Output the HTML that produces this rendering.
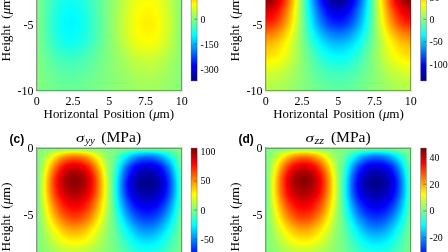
<!DOCTYPE html><html><head><meta charset="utf-8"><style>html,body{margin:0;padding:0;background:#fff;width:448px;height:252px;overflow:hidden}svg{display:block}</style></head><body><svg width="448" height="252" viewBox="0 0 448 252"><defs><linearGradient id="cbj" x1="0" y1="0" x2="0" y2="1"><stop offset="0.0000" stop-color="#800000"/><stop offset="0.1250" stop-color="#ff0000"/><stop offset="0.3750" stop-color="#ffff00"/><stop offset="0.6250" stop-color="#00ffff"/><stop offset="0.8750" stop-color="#0000ff"/><stop offset="1.0000" stop-color="#000080"/></linearGradient><filter id="tb" x="-5%" y="-5%" width="110%" height="110%"><feGaussianBlur stdDeviation="0.3"/></filter><linearGradient id="a0"><stop offset="0" stop-color="#81ff7e"/><stop offset=".052" stop-color="#5dffa2"/><stop offset=".128" stop-color="#29ffd6"/><stop offset=".19" stop-color="#11ffee"/><stop offset=".245" stop-color="#0cfff3"/><stop offset=".307" stop-color="#1affe5"/><stop offset=".39" stop-color="#43ffbc"/><stop offset=".652" stop-color="#e0ff1f"/><stop offset=".721" stop-color="#f9ff06"/><stop offset=".776" stop-color="#fdff02"/><stop offset=".831" stop-color="#f1ff0e"/><stop offset=".893" stop-color="#d1ff2e"/><stop offset=".997" stop-color="#85ff7a"/><stop offset="1" stop-color="#85ff7a"/></linearGradient><linearGradient id="a1"><stop offset="0" stop-color="#81ff7e"/><stop offset=".052" stop-color="#5dffa2"/><stop offset=".128" stop-color="#29ffd6"/><stop offset=".19" stop-color="#10ffef"/><stop offset=".245" stop-color="#0bfff4"/><stop offset=".307" stop-color="#19ffe6"/><stop offset=".39" stop-color="#42ffbd"/><stop offset=".652" stop-color="#e0ff1f"/><stop offset=".721" stop-color="#f9ff06"/><stop offset=".776" stop-color="#feff01"/><stop offset=".831" stop-color="#f2ff0d"/><stop offset=".893" stop-color="#d1ff2e"/><stop offset=".997" stop-color="#85ff7a"/><stop offset="1" stop-color="#85ff7a"/></linearGradient><linearGradient id="a2"><stop offset="0" stop-color="#81ff7e"/><stop offset=".045" stop-color="#62ff9d"/><stop offset=".128" stop-color="#28ffd7"/><stop offset=".19" stop-color="#0ffff0"/><stop offset=".245" stop-color="#0bfff4"/><stop offset=".307" stop-color="#18ffe7"/><stop offset=".39" stop-color="#42ffbd"/><stop offset=".652" stop-color="#e1ff1e"/><stop offset=".721" stop-color="#faff05"/><stop offset=".776" stop-color="#ffff00"/><stop offset=".831" stop-color="#f2ff0d"/><stop offset=".893" stop-color="#d2ff2d"/><stop offset=".997" stop-color="#85ff7a"/><stop offset="1" stop-color="#85ff7a"/></linearGradient><linearGradient id="a3"><stop offset="0" stop-color="#81ff7e"/><stop offset=".045" stop-color="#62ff9d"/><stop offset=".128" stop-color="#27ffd8"/><stop offset=".183" stop-color="#10ffef"/><stop offset=".238" stop-color="#09fff6"/><stop offset=".3" stop-color="#15ffea"/><stop offset=".376" stop-color="#39ffc6"/><stop offset=".652" stop-color="#e2ff1d"/><stop offset=".721" stop-color="#fbff04"/><stop offset=".783" stop-color="#ffff00"/><stop offset=".838" stop-color="#f1ff0e"/><stop offset=".9" stop-color="#ceff31"/><stop offset=".997" stop-color="#85ff7a"/><stop offset="1" stop-color="#85ff7a"/></linearGradient><linearGradient id="a4"><stop offset="0" stop-color="#81ff7e"/><stop offset=".045" stop-color="#61ff9e"/><stop offset=".128" stop-color="#27ffd8"/><stop offset=".183" stop-color="#0ffff0"/><stop offset=".238" stop-color="#08fff7"/><stop offset=".3" stop-color="#14ffeb"/><stop offset=".376" stop-color="#38ffc7"/><stop offset=".652" stop-color="#e2ff1d"/><stop offset=".721" stop-color="#fcff03"/><stop offset=".797" stop-color="#feff01"/><stop offset=".852" stop-color="#ebff14"/><stop offset=".921" stop-color="#bfff40"/><stop offset=".997" stop-color="#85ff7a"/><stop offset="1" stop-color="#85ff7a"/></linearGradient><linearGradient id="a5"><stop offset="0" stop-color="#81ff7e"/><stop offset=".045" stop-color="#61ff9e"/><stop offset=".128" stop-color="#26ffd9"/><stop offset=".183" stop-color="#0efff1"/><stop offset=".238" stop-color="#07fff8"/><stop offset=".3" stop-color="#13ffec"/><stop offset=".376" stop-color="#38ffc7"/><stop offset=".652" stop-color="#e3ff1c"/><stop offset=".721" stop-color="#fdff02"/><stop offset=".79" stop-color="#fffe00"/><stop offset=".838" stop-color="#f3ff0c"/><stop offset=".9" stop-color="#cfff30"/><stop offset=".997" stop-color="#85ff7a"/><stop offset="1" stop-color="#85ff7a"/></linearGradient><linearGradient id="a6"><stop offset="0" stop-color="#81ff7e"/><stop offset=".045" stop-color="#61ff9e"/><stop offset=".128" stop-color="#25ffda"/><stop offset=".183" stop-color="#0dfff2"/><stop offset=".238" stop-color="#06fff9"/><stop offset=".3" stop-color="#12ffed"/><stop offset=".376" stop-color="#37ffc8"/><stop offset=".652" stop-color="#e4ff1b"/><stop offset=".721" stop-color="#feff01"/><stop offset=".783" stop-color="#fffc00"/><stop offset=".817" stop-color="#fbff04"/><stop offset=".879" stop-color="#deff21"/><stop offset=".997" stop-color="#85ff7a"/><stop offset="1" stop-color="#85ff7a"/></linearGradient><linearGradient id="a7"><stop offset="0" stop-color="#81ff7e"/><stop offset=".038" stop-color="#66ff99"/><stop offset=".121" stop-color="#28ffd7"/><stop offset=".176" stop-color="#0efff1"/><stop offset=".231" stop-color="#05fffa"/><stop offset=".286" stop-color="#0dfff2"/><stop offset=".355" stop-color="#2affd5"/><stop offset=".652" stop-color="#e5ff1a"/><stop offset=".714" stop-color="#feff01"/><stop offset=".776" stop-color="#fffa00"/><stop offset=".817" stop-color="#fcff03"/><stop offset=".879" stop-color="#deff21"/><stop offset=".997" stop-color="#85ff7a"/><stop offset="1" stop-color="#85ff7a"/></linearGradient><linearGradient id="a8"><stop offset="0" stop-color="#81ff7e"/><stop offset=".038" stop-color="#66ff99"/><stop offset=".121" stop-color="#27ffd8"/><stop offset=".176" stop-color="#0dfff2"/><stop offset=".231" stop-color="#03fffc"/><stop offset=".286" stop-color="#0bfff4"/><stop offset=".355" stop-color="#29ffd6"/><stop offset=".652" stop-color="#e6ff19"/><stop offset=".714" stop-color="#ffff00"/><stop offset=".769" stop-color="#fff800"/><stop offset=".817" stop-color="#fdff02"/><stop offset=".872" stop-color="#e3ff1c"/><stop offset=".955" stop-color="#a6ff59"/><stop offset=".997" stop-color="#85ff7a"/><stop offset="1" stop-color="#85ff7a"/></linearGradient><linearGradient id="a9"><stop offset="0" stop-color="#81ff7e"/><stop offset=".038" stop-color="#66ff99"/><stop offset=".121" stop-color="#27ffd8"/><stop offset=".176" stop-color="#0cfff3"/><stop offset=".231" stop-color="#02fffd"/><stop offset=".286" stop-color="#0bfff4"/><stop offset=".355" stop-color="#29ffd6"/><stop offset=".652" stop-color="#e7ff18"/><stop offset=".714" stop-color="#fffe00"/><stop offset=".769" stop-color="#fff700"/><stop offset=".824" stop-color="#fcff03"/><stop offset=".886" stop-color="#dbff24"/><stop offset=".997" stop-color="#85ff7a"/><stop offset="1" stop-color="#85ff7a"/></linearGradient><linearGradient id="a10"><stop offset="0" stop-color="#81ff7e"/><stop offset=".031" stop-color="#6bff94"/><stop offset=".121" stop-color="#26ffd9"/><stop offset=".176" stop-color="#0bfff4"/><stop offset=".231" stop-color="#02fffd"/><stop offset=".286" stop-color="#0afff5"/><stop offset=".355" stop-color="#28ffd7"/><stop offset=".652" stop-color="#e7ff18"/><stop offset=".707" stop-color="#ffff00"/><stop offset=".769" stop-color="#fff600"/><stop offset=".824" stop-color="#fdff02"/><stop offset=".886" stop-color="#dcff23"/><stop offset=".997" stop-color="#85ff7a"/><stop offset="1" stop-color="#85ff7a"/></linearGradient><linearGradient id="a11"><stop offset="0" stop-color="#81ff7e"/><stop offset=".031" stop-color="#6bff94"/><stop offset=".121" stop-color="#25ffda"/><stop offset=".176" stop-color="#0afff5"/><stop offset=".231" stop-color="#01fffe"/><stop offset=".286" stop-color="#09fff6"/><stop offset=".355" stop-color="#28ffd7"/><stop offset=".652" stop-color="#e8ff17"/><stop offset=".707" stop-color="#ffff00"/><stop offset=".762" stop-color="#fff600"/><stop offset=".824" stop-color="#fdff02"/><stop offset=".886" stop-color="#dcff23"/><stop offset=".997" stop-color="#85ff7a"/><stop offset="1" stop-color="#85ff7a"/></linearGradient><linearGradient id="a12"><stop offset="0" stop-color="#81ff7e"/><stop offset=".031" stop-color="#6bff94"/><stop offset=".121" stop-color="#25ffda"/><stop offset=".176" stop-color="#0afff5"/><stop offset=".231" stop-color="#00ffff"/><stop offset=".286" stop-color="#08fff7"/><stop offset=".355" stop-color="#27ffd8"/><stop offset=".652" stop-color="#e8ff17"/><stop offset=".707" stop-color="#fffe00"/><stop offset=".762" stop-color="#fff500"/><stop offset=".824" stop-color="#feff01"/><stop offset=".886" stop-color="#ddff22"/><stop offset=".997" stop-color="#85ff7a"/><stop offset="1" stop-color="#85ff7a"/></linearGradient><linearGradient id="a13"><stop offset="0" stop-color="#81ff7e"/><stop offset=".031" stop-color="#6bff94"/><stop offset=".121" stop-color="#24ffdb"/><stop offset=".176" stop-color="#09fff6"/><stop offset=".224" stop-color="#00feff"/><stop offset=".279" stop-color="#06fff9"/><stop offset=".341" stop-color="#1fffe0"/><stop offset=".452" stop-color="#67ff98"/><stop offset=".652" stop-color="#e9ff16"/><stop offset=".7" stop-color="#ffff00"/><stop offset=".762" stop-color="#fff400"/><stop offset=".817" stop-color="#fffd00"/><stop offset=".852" stop-color="#f2ff0d"/><stop offset=".921" stop-color="#c4ff3b"/><stop offset=".997" stop-color="#85ff7a"/><stop offset="1" stop-color="#85ff7a"/></linearGradient><linearGradient id="a14"><stop offset="0" stop-color="#81ff7e"/><stop offset=".031" stop-color="#6bff94"/><stop offset=".121" stop-color="#24ffdb"/><stop offset=".176" stop-color="#08fff7"/><stop offset=".217" stop-color="#00feff"/><stop offset=".272" stop-color="#03fffc"/><stop offset=".334" stop-color="#1bffe4"/><stop offset=".431" stop-color="#58ffa7"/><stop offset=".652" stop-color="#eaff15"/><stop offset=".7" stop-color="#ffff00"/><stop offset=".755" stop-color="#fff300"/><stop offset=".81" stop-color="#fffa00"/><stop offset=".831" stop-color="#fdff02"/><stop offset=".893" stop-color="#d9ff26"/><stop offset=".997" stop-color="#85ff7a"/><stop offset="1" stop-color="#85ff7a"/></linearGradient><linearGradient id="a15"><stop offset="0" stop-color="#81ff7e"/><stop offset=".024" stop-color="#70ff8f"/><stop offset=".114" stop-color="#28ffd7"/><stop offset=".169" stop-color="#0afff5"/><stop offset=".21" stop-color="#00feff"/><stop offset=".272" stop-color="#02fffd"/><stop offset=".334" stop-color="#1affe5"/><stop offset=".431" stop-color="#58ffa7"/><stop offset=".652" stop-color="#eaff15"/><stop offset=".7" stop-color="#fffe00"/><stop offset=".755" stop-color="#fff300"/><stop offset=".81" stop-color="#fff900"/><stop offset=".838" stop-color="#fbff04"/><stop offset=".9" stop-color="#d5ff2a"/><stop offset=".997" stop-color="#85ff7a"/><stop offset="1" stop-color="#85ff7a"/></linearGradient><linearGradient id="a16"><stop offset="0" stop-color="#81ff7e"/><stop offset=".024" stop-color="#70ff8f"/><stop offset=".114" stop-color="#27ffd8"/><stop offset=".169" stop-color="#09fff6"/><stop offset=".21" stop-color="#00fdff"/><stop offset=".272" stop-color="#02fffd"/><stop offset=".334" stop-color="#19ffe6"/><stop offset=".431" stop-color="#57ffa8"/><stop offset=".652" stop-color="#ebff14"/><stop offset=".7" stop-color="#fffd00"/><stop offset=".755" stop-color="#fff200"/><stop offset=".81" stop-color="#fff900"/><stop offset=".838" stop-color="#fbff04"/><stop offset=".9" stop-color="#d5ff2a"/><stop offset=".997" stop-color="#85ff7a"/><stop offset="1" stop-color="#85ff7a"/></linearGradient><linearGradient id="a17"><stop offset="0" stop-color="#81ff7e"/><stop offset=".024" stop-color="#70ff8f"/><stop offset=".114" stop-color="#27ffd8"/><stop offset=".169" stop-color="#09fff6"/><stop offset=".203" stop-color="#00feff"/><stop offset=".259" stop-color="#00fdff"/><stop offset=".307" stop-color="#0cfff3"/><stop offset=".383" stop-color="#36ffc9"/><stop offset=".645" stop-color="#e7ff18"/><stop offset=".693" stop-color="#ffff00"/><stop offset=".755" stop-color="#fff100"/><stop offset=".81" stop-color="#fff800"/><stop offset=".838" stop-color="#fcff03"/><stop offset=".9" stop-color="#d5ff2a"/><stop offset=".997" stop-color="#85ff7a"/><stop offset="1" stop-color="#85ff7a"/></linearGradient><linearGradient id="a18"><stop offset="0" stop-color="#81ff7e"/><stop offset=".024" stop-color="#70ff8f"/><stop offset=".114" stop-color="#26ffd9"/><stop offset=".169" stop-color="#08fff7"/><stop offset=".203" stop-color="#00fdff"/><stop offset=".259" stop-color="#00fdff"/><stop offset=".293" stop-color="#06fff9"/><stop offset=".362" stop-color="#28ffd7"/><stop offset=".645" stop-color="#e8ff17"/><stop offset=".693" stop-color="#ffff00"/><stop offset=".748" stop-color="#fff100"/><stop offset=".803" stop-color="#fff500"/><stop offset=".838" stop-color="#fcff03"/><stop offset=".9" stop-color="#d6ff29"/><stop offset=".997" stop-color="#85ff7a"/><stop offset="1" stop-color="#85ff7a"/></linearGradient><linearGradient id="a19"><stop offset="0" stop-color="#81ff7e"/><stop offset=".024" stop-color="#70ff8f"/><stop offset=".114" stop-color="#26ffd9"/><stop offset=".169" stop-color="#08fff7"/><stop offset=".203" stop-color="#00fdff"/><stop offset=".259" stop-color="#00fcff"/><stop offset=".293" stop-color="#06fff9"/><stop offset=".362" stop-color="#28ffd7"/><stop offset=".645" stop-color="#e8ff17"/><stop offset=".693" stop-color="#fffe00"/><stop offset=".748" stop-color="#fff100"/><stop offset=".803" stop-color="#fff500"/><stop offset=".838" stop-color="#fdff02"/><stop offset=".9" stop-color="#d6ff29"/><stop offset=".997" stop-color="#85ff7a"/><stop offset="1" stop-color="#85ff7a"/></linearGradient><linearGradient id="a20"><stop offset="0" stop-color="#81ff7e"/><stop offset=".024" stop-color="#70ff8f"/><stop offset=".114" stop-color="#26ffd9"/><stop offset=".169" stop-color="#07fff8"/><stop offset=".197" stop-color="#00feff"/><stop offset=".252" stop-color="#00fbff"/><stop offset=".286" stop-color="#03fffc"/><stop offset=".355" stop-color="#23ffdc"/><stop offset=".652" stop-color="#ecff13"/><stop offset=".693" stop-color="#fffe00"/><stop offset=".748" stop-color="#fff000"/><stop offset=".803" stop-color="#fff400"/><stop offset=".838" stop-color="#fdff02"/><stop offset=".9" stop-color="#d6ff29"/><stop offset=".997" stop-color="#85ff7a"/><stop offset="1" stop-color="#85ff7a"/></linearGradient><linearGradient id="a21"><stop offset="0" stop-color="#81ff7e"/><stop offset=".024" stop-color="#70ff8f"/><stop offset=".114" stop-color="#26ffd9"/><stop offset=".169" stop-color="#07fff8"/><stop offset=".197" stop-color="#00fdff"/><stop offset=".252" stop-color="#00fbff"/><stop offset=".286" stop-color="#03fffc"/><stop offset=".355" stop-color="#23ffdc"/><stop offset=".652" stop-color="#edff12"/><stop offset=".693" stop-color="#fffe00"/><stop offset=".748" stop-color="#fff000"/><stop offset=".803" stop-color="#fff400"/><stop offset=".838" stop-color="#fdff02"/><stop offset=".9" stop-color="#d6ff29"/><stop offset=".997" stop-color="#85ff7a"/><stop offset="1" stop-color="#85ff7a"/></linearGradient><linearGradient id="a22"><stop offset="0" stop-color="#81ff7e"/><stop offset=".024" stop-color="#70ff8f"/><stop offset=".114" stop-color="#25ffda"/><stop offset=".169" stop-color="#07fff8"/><stop offset=".197" stop-color="#00fdff"/><stop offset=".252" stop-color="#00faff"/><stop offset=".286" stop-color="#03fffc"/><stop offset=".355" stop-color="#23ffdc"/><stop offset=".652" stop-color="#edff12"/><stop offset=".693" stop-color="#fffd00"/><stop offset=".748" stop-color="#fff000"/><stop offset=".803" stop-color="#fff400"/><stop offset=".838" stop-color="#feff01"/><stop offset=".9" stop-color="#d7ff28"/><stop offset=".997" stop-color="#85ff7a"/><stop offset="1" stop-color="#85ff7a"/></linearGradient><linearGradient id="a23"><stop offset="0" stop-color="#81ff7e"/><stop offset=".024" stop-color="#70ff8f"/><stop offset=".114" stop-color="#25ffda"/><stop offset=".169" stop-color="#07fff8"/><stop offset=".197" stop-color="#00fdff"/><stop offset=".252" stop-color="#00faff"/><stop offset=".286" stop-color="#03fffc"/><stop offset=".355" stop-color="#23ffdc"/><stop offset=".652" stop-color="#edff12"/><stop offset=".693" stop-color="#fffd00"/><stop offset=".748" stop-color="#fff000"/><stop offset=".803" stop-color="#fff400"/><stop offset=".838" stop-color="#feff01"/><stop offset=".9" stop-color="#d7ff28"/><stop offset=".997" stop-color="#85ff7a"/><stop offset="1" stop-color="#85ff7a"/></linearGradient><linearGradient id="a24"><stop offset="0" stop-color="#81ff7e"/><stop offset=".024" stop-color="#70ff8f"/><stop offset=".114" stop-color="#25ffda"/><stop offset=".169" stop-color="#07fff8"/><stop offset=".197" stop-color="#00fdff"/><stop offset=".252" stop-color="#00faff"/><stop offset=".286" stop-color="#03fffc"/><stop offset=".355" stop-color="#23ffdc"/><stop offset=".652" stop-color="#edff12"/><stop offset=".693" stop-color="#fffd00"/><stop offset=".748" stop-color="#fff000"/><stop offset=".803" stop-color="#fff400"/><stop offset=".838" stop-color="#feff01"/><stop offset=".9" stop-color="#d7ff28"/><stop offset=".997" stop-color="#85ff7a"/><stop offset="1" stop-color="#85ff7a"/></linearGradient><linearGradient id="a25"><stop offset="0" stop-color="#81ff7e"/><stop offset=".024" stop-color="#70ff8f"/><stop offset=".114" stop-color="#26ffd9"/><stop offset=".169" stop-color="#07fff8"/><stop offset=".197" stop-color="#00feff"/><stop offset=".252" stop-color="#00fbff"/><stop offset=".286" stop-color="#03fffc"/><stop offset=".355" stop-color="#23ffdc"/><stop offset=".652" stop-color="#ecff13"/><stop offset=".693" stop-color="#fffe00"/><stop offset=".748" stop-color="#fff000"/><stop offset=".803" stop-color="#fff400"/><stop offset=".838" stop-color="#fdff02"/><stop offset=".9" stop-color="#d6ff29"/><stop offset=".997" stop-color="#85ff7a"/><stop offset="1" stop-color="#85ff7a"/></linearGradient><linearGradient id="a26"><stop offset="0" stop-color="#81ff7e"/><stop offset=".024" stop-color="#70ff8f"/><stop offset=".114" stop-color="#26ffd9"/><stop offset=".169" stop-color="#08fff7"/><stop offset=".203" stop-color="#00fdff"/><stop offset=".259" stop-color="#00fcff"/><stop offset=".293" stop-color="#06fff9"/><stop offset=".362" stop-color="#28ffd7"/><stop offset=".645" stop-color="#e8ff17"/><stop offset=".693" stop-color="#fffe00"/><stop offset=".748" stop-color="#fff100"/><stop offset=".803" stop-color="#fff500"/><stop offset=".838" stop-color="#fdff02"/><stop offset=".9" stop-color="#d6ff29"/><stop offset=".997" stop-color="#85ff7a"/><stop offset="1" stop-color="#85ff7a"/></linearGradient><linearGradient id="a27"><stop offset="0" stop-color="#81ff7e"/><stop offset=".024" stop-color="#70ff8f"/><stop offset=".114" stop-color="#26ffd9"/><stop offset=".169" stop-color="#08fff7"/><stop offset=".203" stop-color="#00fdff"/><stop offset=".259" stop-color="#00fdff"/><stop offset=".293" stop-color="#06fff9"/><stop offset=".362" stop-color="#28ffd7"/><stop offset=".645" stop-color="#e8ff17"/><stop offset=".693" stop-color="#ffff00"/><stop offset=".748" stop-color="#fff100"/><stop offset=".803" stop-color="#fff500"/><stop offset=".838" stop-color="#fcff03"/><stop offset=".9" stop-color="#d6ff29"/><stop offset=".997" stop-color="#85ff7a"/><stop offset="1" stop-color="#85ff7a"/></linearGradient><linearGradient id="a28"><stop offset="0" stop-color="#81ff7e"/><stop offset=".024" stop-color="#70ff8f"/><stop offset=".114" stop-color="#27ffd8"/><stop offset=".169" stop-color="#09fff6"/><stop offset=".203" stop-color="#00feff"/><stop offset=".259" stop-color="#00fdff"/><stop offset=".3" stop-color="#09fff6"/><stop offset=".369" stop-color="#2dffd2"/><stop offset=".645" stop-color="#e7ff18"/><stop offset=".693" stop-color="#ffff00"/><stop offset=".748" stop-color="#fff200"/><stop offset=".803" stop-color="#fff600"/><stop offset=".838" stop-color="#fcff03"/><stop offset=".9" stop-color="#d5ff2a"/><stop offset=".997" stop-color="#85ff7a"/><stop offset="1" stop-color="#85ff7a"/></linearGradient><linearGradient id="a29"><stop offset="0" stop-color="#81ff7e"/><stop offset=".024" stop-color="#70ff8f"/><stop offset=".114" stop-color="#27ffd8"/><stop offset=".169" stop-color="#09fff6"/><stop offset=".21" stop-color="#00fdff"/><stop offset=".272" stop-color="#02fffd"/><stop offset=".334" stop-color="#19ffe6"/><stop offset=".431" stop-color="#57ffa8"/><stop offset=".652" stop-color="#ebff14"/><stop offset=".7" stop-color="#fffd00"/><stop offset=".755" stop-color="#fff200"/><stop offset=".81" stop-color="#fff800"/><stop offset=".838" stop-color="#fbff04"/><stop offset=".9" stop-color="#d5ff2a"/><stop offset=".997" stop-color="#85ff7a"/><stop offset="1" stop-color="#85ff7a"/></linearGradient><linearGradient id="a30"><stop offset="0" stop-color="#81ff7e"/><stop offset=".024" stop-color="#70ff8f"/><stop offset=".114" stop-color="#28ffd7"/><stop offset=".169" stop-color="#0afff5"/><stop offset=".21" stop-color="#00feff"/><stop offset=".272" stop-color="#02fffd"/><stop offset=".334" stop-color="#1affe5"/><stop offset=".431" stop-color="#58ffa7"/><stop offset=".652" stop-color="#eaff15"/><stop offset=".7" stop-color="#fffe00"/><stop offset=".755" stop-color="#fff300"/><stop offset=".81" stop-color="#fff900"/><stop offset=".838" stop-color="#fbff04"/><stop offset=".9" stop-color="#d4ff2b"/><stop offset=".997" stop-color="#85ff7a"/><stop offset="1" stop-color="#85ff7a"/></linearGradient><linearGradient id="a31"><stop offset="0" stop-color="#81ff7e"/><stop offset=".031" stop-color="#6bff94"/><stop offset=".121" stop-color="#24ffdb"/><stop offset=".176" stop-color="#08fff7"/><stop offset=".224" stop-color="#00feff"/><stop offset=".272" stop-color="#03fffc"/><stop offset=".334" stop-color="#1bffe4"/><stop offset=".431" stop-color="#58ffa7"/><stop offset=".652" stop-color="#e9ff16"/><stop offset=".7" stop-color="#ffff00"/><stop offset=".755" stop-color="#fff400"/><stop offset=".81" stop-color="#fffa00"/><stop offset=".831" stop-color="#fdff02"/><stop offset=".893" stop-color="#d9ff26"/><stop offset=".997" stop-color="#85ff7a"/><stop offset="1" stop-color="#85ff7a"/></linearGradient><linearGradient id="a32"><stop offset="0" stop-color="#81ff7e"/><stop offset=".031" stop-color="#6bff94"/><stop offset=".121" stop-color="#25ffda"/><stop offset=".176" stop-color="#09fff6"/><stop offset=".231" stop-color="#00ffff"/><stop offset=".286" stop-color="#08fff7"/><stop offset=".355" stop-color="#27ffd8"/><stop offset=".652" stop-color="#e9ff16"/><stop offset=".707" stop-color="#fffe00"/><stop offset=".762" stop-color="#fff500"/><stop offset=".817" stop-color="#fffd00"/><stop offset=".859" stop-color="#eeff11"/><stop offset=".928" stop-color="#beff41"/><stop offset=".997" stop-color="#85ff7a"/><stop offset="1" stop-color="#85ff7a"/></linearGradient><linearGradient id="a33"><stop offset="0" stop-color="#81ff7e"/><stop offset=".031" stop-color="#6bff94"/><stop offset=".121" stop-color="#25ffda"/><stop offset=".176" stop-color="#0afff5"/><stop offset=".231" stop-color="#01fffe"/><stop offset=".286" stop-color="#09fff6"/><stop offset=".355" stop-color="#27ffd8"/><stop offset=".652" stop-color="#e8ff17"/><stop offset=".707" stop-color="#ffff00"/><stop offset=".762" stop-color="#fff600"/><stop offset=".824" stop-color="#fdff02"/><stop offset=".886" stop-color="#dcff23"/><stop offset=".997" stop-color="#85ff7a"/><stop offset="1" stop-color="#85ff7a"/></linearGradient><linearGradient id="a34"><stop offset="0" stop-color="#81ff7e"/><stop offset=".031" stop-color="#6bff94"/><stop offset=".121" stop-color="#26ffd9"/><stop offset=".176" stop-color="#0bfff4"/><stop offset=".231" stop-color="#02fffd"/><stop offset=".286" stop-color="#0afff5"/><stop offset=".355" stop-color="#28ffd7"/><stop offset=".652" stop-color="#e7ff18"/><stop offset=".707" stop-color="#feff01"/><stop offset=".769" stop-color="#fff700"/><stop offset=".824" stop-color="#fcff03"/><stop offset=".886" stop-color="#dcff23"/><stop offset=".997" stop-color="#85ff7a"/><stop offset="1" stop-color="#85ff7a"/></linearGradient><linearGradient id="a35"><stop offset="0" stop-color="#81ff7e"/><stop offset=".038" stop-color="#66ff99"/><stop offset=".121" stop-color="#27ffd8"/><stop offset=".176" stop-color="#0dfff2"/><stop offset=".231" stop-color="#03fffc"/><stop offset=".286" stop-color="#0bfff4"/><stop offset=".355" stop-color="#29ffd6"/><stop offset=".652" stop-color="#e6ff19"/><stop offset=".714" stop-color="#ffff00"/><stop offset=".769" stop-color="#fff800"/><stop offset=".817" stop-color="#feff01"/><stop offset=".872" stop-color="#e4ff1b"/><stop offset=".955" stop-color="#a6ff59"/><stop offset=".997" stop-color="#85ff7a"/><stop offset="1" stop-color="#85ff7a"/></linearGradient><linearGradient id="a36"><stop offset="0" stop-color="#81ff7e"/><stop offset=".038" stop-color="#66ff99"/><stop offset=".121" stop-color="#28ffd7"/><stop offset=".176" stop-color="#0efff1"/><stop offset=".231" stop-color="#04fffb"/><stop offset=".286" stop-color="#0cfff3"/><stop offset=".355" stop-color="#2affd5"/><stop offset=".652" stop-color="#e5ff1a"/><stop offset=".714" stop-color="#feff01"/><stop offset=".776" stop-color="#fffa00"/><stop offset=".817" stop-color="#fcff03"/><stop offset=".879" stop-color="#dfff20"/><stop offset=".997" stop-color="#85ff7a"/><stop offset="1" stop-color="#85ff7a"/></linearGradient><linearGradient id="a37"><stop offset="0" stop-color="#81ff7e"/><stop offset=".045" stop-color="#61ff9e"/><stop offset=".128" stop-color="#25ffda"/><stop offset=".183" stop-color="#0dfff2"/><stop offset=".238" stop-color="#06fff9"/><stop offset=".3" stop-color="#12ffed"/><stop offset=".376" stop-color="#37ffc8"/><stop offset=".652" stop-color="#e4ff1b"/><stop offset=".721" stop-color="#feff01"/><stop offset=".783" stop-color="#fffc00"/><stop offset=".817" stop-color="#fbff04"/><stop offset=".879" stop-color="#deff21"/><stop offset=".997" stop-color="#85ff7a"/><stop offset="1" stop-color="#85ff7a"/></linearGradient><linearGradient id="a38"><stop offset="0" stop-color="#81ff7e"/><stop offset=".045" stop-color="#61ff9e"/><stop offset=".128" stop-color="#26ffd9"/><stop offset=".183" stop-color="#0efff1"/><stop offset=".238" stop-color="#07fff8"/><stop offset=".3" stop-color="#13ffec"/><stop offset=".376" stop-color="#38ffc7"/><stop offset=".652" stop-color="#e3ff1c"/><stop offset=".721" stop-color="#fdff02"/><stop offset=".79" stop-color="#fffe00"/><stop offset=".838" stop-color="#f2ff0d"/><stop offset=".9" stop-color="#cfff30"/><stop offset=".997" stop-color="#85ff7a"/><stop offset="1" stop-color="#85ff7a"/></linearGradient><linearGradient id="a39"><stop offset="0" stop-color="#81ff7e"/><stop offset=".045" stop-color="#62ff9d"/><stop offset=".128" stop-color="#27ffd8"/><stop offset=".183" stop-color="#0ffff0"/><stop offset=".238" stop-color="#08fff7"/><stop offset=".3" stop-color="#14ffeb"/><stop offset=".376" stop-color="#38ffc7"/><stop offset=".652" stop-color="#e2ff1d"/><stop offset=".721" stop-color="#fcff03"/><stop offset=".79" stop-color="#ffff00"/><stop offset=".845" stop-color="#eeff11"/><stop offset=".914" stop-color="#c4ff3b"/><stop offset=".997" stop-color="#85ff7a"/><stop offset="1" stop-color="#85ff7a"/></linearGradient><linearGradient id="a40"><stop offset="0" stop-color="#81ff7e"/><stop offset=".045" stop-color="#62ff9d"/><stop offset=".128" stop-color="#28ffd7"/><stop offset=".19" stop-color="#0ffff0"/><stop offset=".245" stop-color="#0afff5"/><stop offset=".307" stop-color="#18ffe7"/><stop offset=".383" stop-color="#3dffc2"/><stop offset=".652" stop-color="#e1ff1e"/><stop offset=".721" stop-color="#fbff04"/><stop offset=".776" stop-color="#ffff00"/><stop offset=".831" stop-color="#f3ff0c"/><stop offset=".893" stop-color="#d2ff2d"/><stop offset=".997" stop-color="#85ff7a"/><stop offset="1" stop-color="#85ff7a"/></linearGradient><linearGradient id="a41"><stop offset="0" stop-color="#81ff7e"/><stop offset=".052" stop-color="#5dffa2"/><stop offset=".128" stop-color="#29ffd6"/><stop offset=".19" stop-color="#10ffef"/><stop offset=".245" stop-color="#0cfff3"/><stop offset=".307" stop-color="#19ffe6"/><stop offset=".39" stop-color="#42ffbd"/><stop offset=".652" stop-color="#e0ff1f"/><stop offset=".721" stop-color="#f9ff06"/><stop offset=".776" stop-color="#feff01"/><stop offset=".831" stop-color="#f1ff0e"/><stop offset=".893" stop-color="#d1ff2e"/><stop offset=".997" stop-color="#85ff7a"/><stop offset="1" stop-color="#85ff7a"/></linearGradient><linearGradient id="a42"><stop offset="0" stop-color="#81ff7e"/><stop offset=".052" stop-color="#5effa1"/><stop offset=".128" stop-color="#2bffd4"/><stop offset=".19" stop-color="#12ffed"/><stop offset=".245" stop-color="#0efff1"/><stop offset=".307" stop-color="#1bffe4"/><stop offset=".39" stop-color="#43ffbc"/><stop offset=".652" stop-color="#deff21"/><stop offset=".721" stop-color="#f7ff08"/><stop offset=".783" stop-color="#fbff04"/><stop offset=".838" stop-color="#edff12"/><stop offset=".907" stop-color="#c7ff38"/><stop offset=".997" stop-color="#85ff7a"/><stop offset="1" stop-color="#85ff7a"/></linearGradient><linearGradient id="a43"><stop offset="0" stop-color="#81ff7e"/><stop offset=".059" stop-color="#59ffa6"/><stop offset=".134" stop-color="#29ffd6"/><stop offset=".197" stop-color="#13ffec"/><stop offset=".252" stop-color="#10ffef"/><stop offset=".314" stop-color="#1fffe0"/><stop offset=".397" stop-color="#49ffb6"/><stop offset=".652" stop-color="#ddff22"/><stop offset=".721" stop-color="#f5ff0a"/><stop offset=".783" stop-color="#f9ff06"/><stop offset=".838" stop-color="#ebff14"/><stop offset=".907" stop-color="#c5ff3a"/><stop offset=".997" stop-color="#85ff7a"/><stop offset="1" stop-color="#85ff7a"/></linearGradient><linearGradient id="a44"><stop offset="0" stop-color="#81ff7e"/><stop offset=".066" stop-color="#55ffaa"/><stop offset=".141" stop-color="#27ffd8"/><stop offset=".203" stop-color="#14ffeb"/><stop offset=".266" stop-color="#15ffea"/><stop offset=".334" stop-color="#2affd5"/><stop offset=".445" stop-color="#67ff98"/><stop offset=".652" stop-color="#dbff24"/><stop offset=".721" stop-color="#f3ff0c"/><stop offset=".783" stop-color="#f6ff09"/><stop offset=".845" stop-color="#e6ff19"/><stop offset=".914" stop-color="#bfff40"/><stop offset=".997" stop-color="#85ff7a"/><stop offset="1" stop-color="#85ff7a"/></linearGradient><linearGradient id="a45"><stop offset="0" stop-color="#82ff7d"/><stop offset=".128" stop-color="#30ffcf"/><stop offset=".19" stop-color="#19ffe6"/><stop offset=".252" stop-color="#16ffe9"/><stop offset=".321" stop-color="#27ffd8"/><stop offset=".417" stop-color="#57ffa8"/><stop offset=".652" stop-color="#d9ff26"/><stop offset=".721" stop-color="#f0ff0f"/><stop offset=".783" stop-color="#f4ff0b"/><stop offset=".845" stop-color="#e4ff1b"/><stop offset=".914" stop-color="#beff41"/><stop offset=".997" stop-color="#85ff7a"/><stop offset="1" stop-color="#85ff7a"/></linearGradient><linearGradient id="a46"><stop offset="0" stop-color="#82ff7d"/><stop offset=".128" stop-color="#32ffcd"/><stop offset=".19" stop-color="#1cffe3"/><stop offset=".252" stop-color="#18ffe7"/><stop offset=".321" stop-color="#29ffd6"/><stop offset=".417" stop-color="#58ffa7"/><stop offset=".652" stop-color="#d7ff28"/><stop offset=".721" stop-color="#edff12"/><stop offset=".783" stop-color="#f1ff0e"/><stop offset=".845" stop-color="#e1ff1e"/><stop offset=".914" stop-color="#bdff42"/><stop offset=".997" stop-color="#85ff7a"/><stop offset="1" stop-color="#85ff7a"/></linearGradient><linearGradient id="a47"><stop offset="0" stop-color="#82ff7d"/><stop offset=".128" stop-color="#35ffca"/><stop offset=".19" stop-color="#1fffe0"/><stop offset=".252" stop-color="#1cffe3"/><stop offset=".321" stop-color="#2cffd3"/><stop offset=".417" stop-color="#5affa5"/><stop offset=".652" stop-color="#d4ff2b"/><stop offset=".721" stop-color="#eaff15"/><stop offset=".783" stop-color="#eeff11"/><stop offset=".845" stop-color="#dfff20"/><stop offset=".921" stop-color="#b7ff48"/><stop offset=".997" stop-color="#85ff7a"/><stop offset="1" stop-color="#85ff7a"/></linearGradient><linearGradient id="a48"><stop offset="0" stop-color="#82ff7d"/><stop offset=".128" stop-color="#37ffc8"/><stop offset=".19" stop-color="#22ffdd"/><stop offset=".252" stop-color="#1fffe0"/><stop offset=".321" stop-color="#2effd1"/><stop offset=".424" stop-color="#5fffa0"/><stop offset=".659" stop-color="#d5ff2a"/><stop offset=".728" stop-color="#e9ff16"/><stop offset=".79" stop-color="#eaff15"/><stop offset=".852" stop-color="#d9ff26"/><stop offset=".928" stop-color="#b1ff4e"/><stop offset="1" stop-color="#85ff7a"/></linearGradient><linearGradient id="a49"><stop offset="0" stop-color="#82ff7d"/><stop offset=".128" stop-color="#3affc5"/><stop offset=".19" stop-color="#25ffda"/><stop offset=".252" stop-color="#22ffdd"/><stop offset=".321" stop-color="#31ffce"/><stop offset=".424" stop-color="#60ff9f"/><stop offset=".659" stop-color="#d2ff2d"/><stop offset=".734" stop-color="#e6ff19"/><stop offset=".797" stop-color="#e6ff19"/><stop offset=".859" stop-color="#d4ff2b"/><stop offset=".941" stop-color="#a7ff58"/><stop offset="1" stop-color="#85ff7a"/></linearGradient><linearGradient id="a50"><stop offset="0" stop-color="#82ff7d"/><stop offset=".134" stop-color="#39ffc6"/><stop offset=".197" stop-color="#27ffd8"/><stop offset=".259" stop-color="#26ffd9"/><stop offset=".334" stop-color="#38ffc7"/><stop offset=".569" stop-color="#a7ff58"/><stop offset=".672" stop-color="#d5ff2a"/><stop offset=".741" stop-color="#e4ff1b"/><stop offset=".803" stop-color="#e1ff1e"/><stop offset=".872" stop-color="#cbff34"/><stop offset="1" stop-color="#85ff7a"/></linearGradient><linearGradient id="a51"><stop offset="0" stop-color="#82ff7d"/><stop offset=".134" stop-color="#3cffc3"/><stop offset=".203" stop-color="#29ffd6"/><stop offset=".272" stop-color="#2bffd4"/><stop offset=".348" stop-color="#40ffbf"/><stop offset=".659" stop-color="#cdff32"/><stop offset=".734" stop-color="#e0ff1f"/><stop offset=".803" stop-color="#deff21"/><stop offset=".872" stop-color="#c9ff36"/><stop offset="1" stop-color="#85ff7a"/></linearGradient><linearGradient id="a52"><stop offset="0" stop-color="#82ff7d"/><stop offset=".134" stop-color="#3effc1"/><stop offset=".203" stop-color="#2cffd3"/><stop offset=".272" stop-color="#2effd1"/><stop offset=".355" stop-color="#45ffba"/><stop offset=".659" stop-color="#cbff34"/><stop offset=".734" stop-color="#ddff22"/><stop offset=".803" stop-color="#dbff24"/><stop offset=".872" stop-color="#c7ff38"/><stop offset="1" stop-color="#85ff7a"/></linearGradient><linearGradient id="a53"><stop offset="0" stop-color="#82ff7d"/><stop offset=".134" stop-color="#40ffbf"/><stop offset=".203" stop-color="#2fffd0"/><stop offset=".272" stop-color="#31ffce"/><stop offset=".355" stop-color="#47ffb8"/><stop offset=".659" stop-color="#c8ff37"/><stop offset=".734" stop-color="#daff25"/><stop offset=".803" stop-color="#d8ff27"/><stop offset=".872" stop-color="#c4ff3b"/><stop offset="1" stop-color="#85ff7a"/></linearGradient><linearGradient id="a54"><stop offset="0" stop-color="#82ff7d"/><stop offset=".134" stop-color="#43ffbc"/><stop offset=".203" stop-color="#32ffcd"/><stop offset=".272" stop-color="#34ffcb"/><stop offset=".355" stop-color="#49ffb6"/><stop offset=".666" stop-color="#c8ff37"/><stop offset=".741" stop-color="#d8ff27"/><stop offset=".81" stop-color="#d4ff2b"/><stop offset=".886" stop-color="#bdff42"/><stop offset="1" stop-color="#85ff7a"/></linearGradient><linearGradient id="a55"><stop offset="0" stop-color="#82ff7d"/><stop offset=".134" stop-color="#45ffba"/><stop offset=".203" stop-color="#35ffca"/><stop offset=".272" stop-color="#36ffc9"/><stop offset=".355" stop-color="#4bffb4"/><stop offset=".666" stop-color="#c6ff39"/><stop offset=".741" stop-color="#d5ff2a"/><stop offset=".81" stop-color="#d2ff2d"/><stop offset=".886" stop-color="#bbff44"/><stop offset="1" stop-color="#85ff7a"/></linearGradient><linearGradient id="a56"><stop offset="0" stop-color="#82ff7d"/><stop offset=".134" stop-color="#47ffb8"/><stop offset=".21" stop-color="#37ffc8"/><stop offset=".286" stop-color="#3bffc4"/><stop offset=".383" stop-color="#57ffa8"/><stop offset=".666" stop-color="#c4ff3b"/><stop offset=".748" stop-color="#d3ff2c"/><stop offset=".817" stop-color="#ceff31"/><stop offset=".893" stop-color="#b6ff49"/><stop offset="1" stop-color="#85ff7a"/></linearGradient><linearGradient id="a57"><stop offset="0" stop-color="#83ff7c"/><stop offset=".141" stop-color="#47ffb8"/><stop offset=".217" stop-color="#39ffc6"/><stop offset=".293" stop-color="#3effc1"/><stop offset=".39" stop-color="#5bffa4"/><stop offset=".666" stop-color="#c2ff3d"/><stop offset=".748" stop-color="#d0ff2f"/><stop offset=".824" stop-color="#caff35"/><stop offset=".907" stop-color="#afff50"/><stop offset="1" stop-color="#85ff7a"/></linearGradient><linearGradient id="a58"><stop offset="0" stop-color="#83ff7c"/><stop offset=".141" stop-color="#48ffb7"/><stop offset=".217" stop-color="#3bffc4"/><stop offset=".293" stop-color="#40ffbf"/><stop offset=".397" stop-color="#5fffa0"/><stop offset=".666" stop-color="#c0ff3f"/><stop offset=".748" stop-color="#ceff31"/><stop offset=".824" stop-color="#c9ff36"/><stop offset=".907" stop-color="#aeff51"/><stop offset="1" stop-color="#85ff7a"/></linearGradient><linearGradient id="a59"><stop offset="0" stop-color="#83ff7c"/><stop offset=".141" stop-color="#4affb5"/><stop offset=".217" stop-color="#3dffc2"/><stop offset=".293" stop-color="#42ffbd"/><stop offset=".397" stop-color="#60ff9f"/><stop offset=".666" stop-color="#bfff40"/><stop offset=".748" stop-color="#ccff33"/><stop offset=".824" stop-color="#c7ff38"/><stop offset=".907" stop-color="#acff53"/><stop offset="1" stop-color="#85ff7a"/></linearGradient><linearGradient id="a60"><stop offset="0" stop-color="#83ff7c"/><stop offset=".141" stop-color="#4cffb3"/><stop offset=".217" stop-color="#3fffc0"/><stop offset=".3" stop-color="#45ffba"/><stop offset=".41" stop-color="#66ff99"/><stop offset=".666" stop-color="#bdff42"/><stop offset=".748" stop-color="#caff35"/><stop offset=".824" stop-color="#c5ff3a"/><stop offset=".907" stop-color="#abff54"/><stop offset="1" stop-color="#85ff7a"/></linearGradient><linearGradient id="a61"><stop offset="0" stop-color="#83ff7c"/><stop offset=".141" stop-color="#4dffb2"/><stop offset=".217" stop-color="#41ffbe"/><stop offset=".3" stop-color="#47ffb8"/><stop offset=".41" stop-color="#67ff98"/><stop offset=".666" stop-color="#bbff44"/><stop offset=".748" stop-color="#c8ff37"/><stop offset=".824" stop-color="#c3ff3c"/><stop offset=".914" stop-color="#a7ff58"/><stop offset="1" stop-color="#85ff7a"/></linearGradient><linearGradient id="a62"><stop offset="0" stop-color="#83ff7c"/><stop offset=".141" stop-color="#4fffb0"/><stop offset=".217" stop-color="#43ffbc"/><stop offset=".3" stop-color="#49ffb6"/><stop offset=".417" stop-color="#6aff95"/><stop offset=".672" stop-color="#bbff44"/><stop offset=".755" stop-color="#c6ff39"/><stop offset=".831" stop-color="#c0ff3f"/><stop offset=".921" stop-color="#a4ff5b"/><stop offset="1" stop-color="#85ff7a"/></linearGradient><linearGradient id="a63"><stop offset="0" stop-color="#83ff7c"/><stop offset=".141" stop-color="#50ffaf"/><stop offset=".224" stop-color="#45ffba"/><stop offset=".307" stop-color="#4cffb3"/><stop offset=".431" stop-color="#6fff90"/><stop offset=".672" stop-color="#baff45"/><stop offset=".762" stop-color="#c5ff3a"/><stop offset=".845" stop-color="#bbff44"/><stop offset=".948" stop-color="#98ff67"/><stop offset="1" stop-color="#85ff7a"/></linearGradient><linearGradient id="a64"><stop offset="0" stop-color="#83ff7c"/><stop offset=".148" stop-color="#50ffaf"/><stop offset=".231" stop-color="#46ffb9"/><stop offset=".321" stop-color="#50ffaf"/><stop offset=".576" stop-color="#9dff62"/><stop offset=".693" stop-color="#bcff43"/><stop offset=".776" stop-color="#c3ff3c"/><stop offset=".859" stop-color="#b6ff49"/><stop offset="1" stop-color="#85ff7a"/></linearGradient><linearGradient id="a65"><stop offset="0" stop-color="#83ff7c"/><stop offset=".148" stop-color="#52ffad"/><stop offset=".231" stop-color="#48ffb7"/><stop offset=".321" stop-color="#52ffad"/><stop offset=".679" stop-color="#b8ff47"/><stop offset=".769" stop-color="#c1ff3e"/><stop offset=".852" stop-color="#b6ff49"/><stop offset=".983" stop-color="#8aff75"/><stop offset="1" stop-color="#85ff7a"/></linearGradient><linearGradient id="a66"><stop offset="0" stop-color="#83ff7c"/><stop offset=".148" stop-color="#53ffac"/><stop offset=".231" stop-color="#4affb5"/><stop offset=".321" stop-color="#53ffac"/><stop offset=".679" stop-color="#b7ff48"/><stop offset=".769" stop-color="#bfff40"/><stop offset=".852" stop-color="#b5ff4a"/><stop offset="1" stop-color="#85ff7a"/></linearGradient><linearGradient id="a67"><stop offset="0" stop-color="#83ff7c"/><stop offset=".148" stop-color="#55ffaa"/><stop offset=".231" stop-color="#4cffb3"/><stop offset=".321" stop-color="#55ffaa"/><stop offset=".679" stop-color="#b5ff4a"/><stop offset=".769" stop-color="#bdff42"/><stop offset=".852" stop-color="#b3ff4c"/><stop offset="1" stop-color="#85ff7a"/></linearGradient><linearGradient id="a68"><stop offset="0" stop-color="#83ff7c"/><stop offset=".148" stop-color="#56ffa9"/><stop offset=".238" stop-color="#4effb1"/><stop offset=".334" stop-color="#59ffa6"/><stop offset=".679" stop-color="#b4ff4b"/><stop offset=".769" stop-color="#bcff43"/><stop offset=".859" stop-color="#b0ff4f"/><stop offset="1" stop-color="#85ff7a"/></linearGradient><linearGradient id="a69"><stop offset="0" stop-color="#83ff7c"/><stop offset=".148" stop-color="#58ffa7"/><stop offset=".238" stop-color="#4fffb0"/><stop offset=".334" stop-color="#5affa5"/><stop offset=".679" stop-color="#b2ff4d"/><stop offset=".776" stop-color="#baff45"/><stop offset=".866" stop-color="#adff52"/><stop offset="1" stop-color="#85ff7a"/></linearGradient><linearGradient id="a70"><stop offset="0" stop-color="#83ff7c"/><stop offset=".155" stop-color="#58ffa7"/><stop offset=".245" stop-color="#51ffae"/><stop offset=".348" stop-color="#5fffa0"/><stop offset=".679" stop-color="#b1ff4e"/><stop offset=".776" stop-color="#b8ff47"/><stop offset=".866" stop-color="#acff53"/><stop offset="1" stop-color="#85ff7a"/></linearGradient><linearGradient id="a71"><stop offset="0" stop-color="#83ff7c"/><stop offset=".155" stop-color="#59ffa6"/><stop offset=".245" stop-color="#53ffac"/><stop offset=".348" stop-color="#60ff9f"/><stop offset=".679" stop-color="#afff50"/><stop offset=".776" stop-color="#b6ff49"/><stop offset=".866" stop-color="#abff54"/><stop offset="1" stop-color="#85ff7a"/></linearGradient><linearGradient id="a72"><stop offset="0" stop-color="#83ff7c"/><stop offset=".155" stop-color="#5bffa4"/><stop offset=".245" stop-color="#54ffab"/><stop offset=".348" stop-color="#61ff9e"/><stop offset=".679" stop-color="#aeff51"/><stop offset=".776" stop-color="#b5ff4a"/><stop offset=".872" stop-color="#a8ff57"/><stop offset="1" stop-color="#85ff7a"/></linearGradient><linearGradient id="a73"><stop offset="0" stop-color="#83ff7c"/><stop offset=".155" stop-color="#5cffa3"/><stop offset=".252" stop-color="#56ffa9"/><stop offset=".362" stop-color="#65ff9a"/><stop offset=".679" stop-color="#adff52"/><stop offset=".776" stop-color="#b3ff4c"/><stop offset=".872" stop-color="#a7ff58"/><stop offset="1" stop-color="#85ff7a"/></linearGradient><linearGradient id="a74"><stop offset="0" stop-color="#83ff7c"/><stop offset=".155" stop-color="#5dffa2"/><stop offset=".252" stop-color="#57ffa8"/><stop offset=".362" stop-color="#66ff99"/><stop offset=".686" stop-color="#acff53"/><stop offset=".783" stop-color="#b2ff4d"/><stop offset=".879" stop-color="#a5ff5a"/><stop offset="1" stop-color="#85ff7a"/></linearGradient><linearGradient id="a75"><stop offset="0" stop-color="#83ff7c"/><stop offset=".155" stop-color="#5effa1"/><stop offset=".252" stop-color="#59ffa6"/><stop offset=".369" stop-color="#68ff97"/><stop offset=".686" stop-color="#abff54"/><stop offset=".79" stop-color="#b0ff4f"/><stop offset=".893" stop-color="#a0ff5f"/><stop offset="1" stop-color="#85ff7a"/></linearGradient><linearGradient id="a76"><stop offset="0" stop-color="#83ff7c"/><stop offset=".162" stop-color="#5fffa0"/><stop offset=".259" stop-color="#5affa5"/><stop offset=".383" stop-color="#6cff93"/><stop offset=".686" stop-color="#aaff55"/><stop offset=".79" stop-color="#afff50"/><stop offset=".893" stop-color="#a0ff5f"/><stop offset="1" stop-color="#85ff7a"/></linearGradient><linearGradient id="a77"><stop offset="0" stop-color="#83ff7c"/><stop offset=".162" stop-color="#60ff9f"/><stop offset=".266" stop-color="#5cffa3"/><stop offset=".397" stop-color="#6fff90"/><stop offset=".686" stop-color="#a9ff56"/><stop offset=".79" stop-color="#adff52"/><stop offset=".893" stop-color="#9fff60"/><stop offset="1" stop-color="#85ff7a"/></linearGradient><linearGradient id="a78"><stop offset="0" stop-color="#84ff7b"/><stop offset=".162" stop-color="#61ff9e"/><stop offset=".266" stop-color="#5dffa2"/><stop offset=".397" stop-color="#70ff8f"/><stop offset=".686" stop-color="#a8ff57"/><stop offset=".79" stop-color="#acff53"/><stop offset=".9" stop-color="#9cff63"/><stop offset="1" stop-color="#85ff7a"/></linearGradient><linearGradient id="a79"><stop offset="0" stop-color="#84ff7b"/><stop offset=".162" stop-color="#62ff9d"/><stop offset=".266" stop-color="#5fffa0"/><stop offset=".397" stop-color="#71ff8e"/><stop offset=".693" stop-color="#a8ff57"/><stop offset=".797" stop-color="#abff54"/><stop offset=".907" stop-color="#9aff65"/><stop offset="1" stop-color="#85ff7a"/></linearGradient><linearGradient id="a80"><stop offset="0" stop-color="#84ff7b"/><stop offset=".162" stop-color="#63ff9c"/><stop offset=".266" stop-color="#60ff9f"/><stop offset=".403" stop-color="#73ff8c"/><stop offset=".693" stop-color="#a6ff59"/><stop offset=".803" stop-color="#a9ff56"/><stop offset=".921" stop-color="#96ff69"/><stop offset="1" stop-color="#85ff7a"/></linearGradient><linearGradient id="a81"><stop offset="0" stop-color="#84ff7b"/><stop offset=".169" stop-color="#63ff9c"/><stop offset=".279" stop-color="#62ff9d"/><stop offset=".438" stop-color="#7aff85"/><stop offset=".693" stop-color="#a5ff5a"/><stop offset=".803" stop-color="#a8ff57"/><stop offset=".921" stop-color="#96ff69"/><stop offset="1" stop-color="#85ff7a"/></linearGradient><linearGradient id="a82"><stop offset="0" stop-color="#84ff7b"/><stop offset=".169" stop-color="#64ff9b"/><stop offset=".279" stop-color="#63ff9c"/><stop offset=".438" stop-color="#7aff85"/><stop offset=".7" stop-color="#a5ff5a"/><stop offset=".81" stop-color="#a6ff59"/><stop offset=".934" stop-color="#92ff6d"/><stop offset="1" stop-color="#85ff7a"/></linearGradient><linearGradient id="a83"><stop offset="0" stop-color="#84ff7b"/><stop offset=".169" stop-color="#65ff9a"/><stop offset=".279" stop-color="#64ff9b"/><stop offset=".445" stop-color="#7cff83"/><stop offset=".7" stop-color="#a4ff5b"/><stop offset=".81" stop-color="#a5ff5a"/><stop offset=".941" stop-color="#90ff6f"/><stop offset="1" stop-color="#85ff7a"/></linearGradient><linearGradient id="a84"><stop offset="0" stop-color="#84ff7b"/><stop offset=".169" stop-color="#66ff99"/><stop offset=".279" stop-color="#65ff9a"/><stop offset=".452" stop-color="#7dff82"/><stop offset=".7" stop-color="#a3ff5c"/><stop offset=".817" stop-color="#a4ff5b"/><stop offset=".955" stop-color="#8dff72"/><stop offset="1" stop-color="#85ff7a"/></linearGradient><linearGradient id="a85"><stop offset="0" stop-color="#84ff7b"/><stop offset=".169" stop-color="#67ff98"/><stop offset=".286" stop-color="#66ff99"/><stop offset=".528" stop-color="#89ff76"/><stop offset=".714" stop-color="#a3ff5c"/><stop offset=".831" stop-color="#a2ff5d"/><stop offset="1" stop-color="#85ff7a"/></linearGradient><linearGradient id="a86"><stop offset="0" stop-color="#84ff7b"/><stop offset=".176" stop-color="#68ff97"/><stop offset=".293" stop-color="#68ff97"/><stop offset=".707" stop-color="#a2ff5d"/><stop offset=".824" stop-color="#a1ff5e"/><stop offset="1" stop-color="#85ff7a"/></linearGradient><linearGradient id="a87"><stop offset="0" stop-color="#84ff7b"/><stop offset=".176" stop-color="#68ff97"/><stop offset=".293" stop-color="#69ff96"/><stop offset=".707" stop-color="#a1ff5e"/><stop offset=".824" stop-color="#a0ff5f"/><stop offset="1" stop-color="#85ff7a"/></linearGradient><linearGradient id="a88"><stop offset="0" stop-color="#84ff7b"/><stop offset=".176" stop-color="#69ff96"/><stop offset=".3" stop-color="#6aff95"/><stop offset=".707" stop-color="#a0ff5f"/><stop offset=".824" stop-color="#a0ff5f"/><stop offset="1" stop-color="#85ff7a"/></linearGradient><linearGradient id="a89"><stop offset="0" stop-color="#84ff7b"/><stop offset=".176" stop-color="#6aff95"/><stop offset=".3" stop-color="#6bff94"/><stop offset=".714" stop-color="#a0ff5f"/><stop offset=".838" stop-color="#9eff61"/><stop offset="1" stop-color="#85ff7a"/></linearGradient><linearGradient id="a90"><stop offset="0" stop-color="#84ff7b"/><stop offset=".183" stop-color="#6aff95"/><stop offset=".307" stop-color="#6cff93"/><stop offset=".714" stop-color="#9fff60"/><stop offset=".838" stop-color="#9dff62"/><stop offset="1" stop-color="#85ff7a"/></linearGradient><linearGradient id="b0"><stop offset="0" stop-color="#960000"/><stop offset=".031" stop-color="#a00000"/><stop offset=".059" stop-color="#b80000"/><stop offset=".093" stop-color="#e90000"/><stop offset=".107" stop-color="#ff0300"/><stop offset=".141" stop-color="#ff4e00"/><stop offset=".183" stop-color="#ffbb00"/><stop offset=".203" stop-color="#fff600"/><stop offset=".21" stop-color="#f3ff0c"/><stop offset=".286" stop-color="#0dfff2"/><stop offset=".293" stop-color="#00f7ff"/><stop offset=".341" stop-color="#0071ff"/><stop offset=".376" stop-color="#0020ff"/><stop offset=".39" stop-color="#0004ff"/><stop offset=".403" stop-color="#0000ea"/><stop offset=".438" stop-color="#0000b8"/><stop offset=".466" stop-color="#0000a0"/><stop offset=".493" stop-color="#000096"/><stop offset=".521" stop-color="#00009a"/><stop offset=".548" stop-color="#0000ae"/><stop offset=".576" stop-color="#0000cf"/><stop offset=".603" stop-color="#0000fc"/><stop offset=".624" stop-color="#0028ff"/><stop offset=".666" stop-color="#008cff"/><stop offset=".707" stop-color="#03fffc"/><stop offset=".79" stop-color="#feff01"/><stop offset=".845" stop-color="#ff6800"/><stop offset=".879" stop-color="#ff1800"/><stop offset=".893" stop-color="#fc0000"/><stop offset=".928" stop-color="#c50000"/><stop offset=".955" stop-color="#a70000"/><stop offset=".983" stop-color="#980000"/><stop offset="1" stop-color="#960000"/></linearGradient><linearGradient id="b1"><stop offset="0" stop-color="#990000"/><stop offset=".031" stop-color="#a30000"/><stop offset=".059" stop-color="#bb0000"/><stop offset=".093" stop-color="#ec0000"/><stop offset=".1" stop-color="#f80000"/><stop offset=".107" stop-color="#ff0600"/><stop offset=".141" stop-color="#ff5000"/><stop offset=".183" stop-color="#ffbc00"/><stop offset=".203" stop-color="#fff700"/><stop offset=".21" stop-color="#f2ff0d"/><stop offset=".286" stop-color="#0efff1"/><stop offset=".293" stop-color="#00f8ff"/><stop offset=".341" stop-color="#0073ff"/><stop offset=".376" stop-color="#0023ff"/><stop offset=".39" stop-color="#0007ff"/><stop offset=".397" stop-color="#0000f9"/><stop offset=".431" stop-color="#0000c4"/><stop offset=".459" stop-color="#0000a8"/><stop offset=".486" stop-color="#00009b"/><stop offset=".514" stop-color="#00009b"/><stop offset=".541" stop-color="#0000ab"/><stop offset=".569" stop-color="#0000c8"/><stop offset=".603" stop-color="#0000ff"/><stop offset=".638" stop-color="#0049ff"/><stop offset=".679" stop-color="#00b3ff"/><stop offset=".7" stop-color="#00eeff"/><stop offset=".707" stop-color="#03fffc"/><stop offset=".79" stop-color="#fdff02"/><stop offset=".845" stop-color="#ff6a00"/><stop offset=".879" stop-color="#ff1b00"/><stop offset=".893" stop-color="#ff0000"/><stop offset=".928" stop-color="#c80000"/><stop offset=".955" stop-color="#ab0000"/><stop offset=".983" stop-color="#9b0000"/><stop offset="1" stop-color="#990000"/></linearGradient><linearGradient id="b2"><stop offset="0" stop-color="#9e0000"/><stop offset=".031" stop-color="#a80000"/><stop offset=".059" stop-color="#c00000"/><stop offset=".093" stop-color="#f00000"/><stop offset=".1" stop-color="#fc0000"/><stop offset=".114" stop-color="#ff1700"/><stop offset=".148" stop-color="#ff6400"/><stop offset=".19" stop-color="#ffd100"/><stop offset=".203" stop-color="#fff900"/><stop offset=".21" stop-color="#f1ff0e"/><stop offset=".286" stop-color="#0ffff0"/><stop offset=".293" stop-color="#00faff"/><stop offset=".341" stop-color="#0076ff"/><stop offset=".376" stop-color="#0026ff"/><stop offset=".397" stop-color="#0000fd"/><stop offset=".431" stop-color="#0000c8"/><stop offset=".459" stop-color="#0000ad"/><stop offset=".486" stop-color="#00009f"/><stop offset=".514" stop-color="#0000a0"/><stop offset=".541" stop-color="#0000af"/><stop offset=".569" stop-color="#0000cd"/><stop offset=".597" stop-color="#0000f7"/><stop offset=".603" stop-color="#0004ff"/><stop offset=".638" stop-color="#004cff"/><stop offset=".679" stop-color="#00b6ff"/><stop offset=".7" stop-color="#00f0ff"/><stop offset=".707" stop-color="#05fffa"/><stop offset=".79" stop-color="#fbff04"/><stop offset=".81" stop-color="#ffc800"/><stop offset=".852" stop-color="#ff5c00"/><stop offset=".886" stop-color="#ff1100"/><stop offset=".893" stop-color="#ff0300"/><stop offset=".914" stop-color="#e00000"/><stop offset=".948" stop-color="#b50000"/><stop offset=".976" stop-color="#a30000"/><stop offset="1" stop-color="#9e0000"/></linearGradient><linearGradient id="b3"><stop offset="0" stop-color="#a40000"/><stop offset=".031" stop-color="#ae0000"/><stop offset=".059" stop-color="#c50000"/><stop offset=".093" stop-color="#f50000"/><stop offset=".1" stop-color="#ff0200"/><stop offset=".134" stop-color="#ff4700"/><stop offset=".176" stop-color="#ffae00"/><stop offset=".203" stop-color="#fffa00"/><stop offset=".217" stop-color="#dcff23"/><stop offset=".286" stop-color="#10ffef"/><stop offset=".293" stop-color="#00fbff"/><stop offset=".341" stop-color="#0079ff"/><stop offset=".376" stop-color="#002aff"/><stop offset=".397" stop-color="#0003ff"/><stop offset=".438" stop-color="#0000c6"/><stop offset=".466" stop-color="#0000ae"/><stop offset=".493" stop-color="#0000a4"/><stop offset=".521" stop-color="#0000a9"/><stop offset=".548" stop-color="#0000bb"/><stop offset=".583" stop-color="#0000e5"/><stop offset=".597" stop-color="#0000fc"/><stop offset=".61" stop-color="#0016ff"/><stop offset=".645" stop-color="#0060ff"/><stop offset=".686" stop-color="#00cbff"/><stop offset=".7" stop-color="#00f1ff"/><stop offset=".707" stop-color="#06fff9"/><stop offset=".79" stop-color="#faff05"/><stop offset=".797" stop-color="#fff000"/><stop offset=".845" stop-color="#ff7000"/><stop offset=".879" stop-color="#ff2300"/><stop offset=".893" stop-color="#ff0800"/><stop offset=".9" stop-color="#fb0000"/><stop offset=".934" stop-color="#c90000"/><stop offset=".962" stop-color="#b00000"/><stop offset=".99" stop-color="#a50000"/><stop offset="1" stop-color="#a40000"/></linearGradient><linearGradient id="b4"><stop offset="0" stop-color="#ab0000"/><stop offset=".031" stop-color="#b40000"/><stop offset=".059" stop-color="#cc0000"/><stop offset=".093" stop-color="#fb0000"/><stop offset=".107" stop-color="#ff1400"/><stop offset=".141" stop-color="#ff5c00"/><stop offset=".183" stop-color="#ffc300"/><stop offset=".203" stop-color="#fffc00"/><stop offset=".231" stop-color="#b2ff4d"/><stop offset=".293" stop-color="#00fdff"/><stop offset=".341" stop-color="#007dff"/><stop offset=".376" stop-color="#002fff"/><stop offset=".397" stop-color="#0008ff"/><stop offset=".403" stop-color="#0000fb"/><stop offset=".438" stop-color="#0000cc"/><stop offset=".466" stop-color="#0000b5"/><stop offset=".493" stop-color="#0000ab"/><stop offset=".521" stop-color="#0000af"/><stop offset=".548" stop-color="#0000c2"/><stop offset=".583" stop-color="#0000eb"/><stop offset=".597" stop-color="#0002ff"/><stop offset=".631" stop-color="#0045ff"/><stop offset=".672" stop-color="#00a9ff"/><stop offset=".7" stop-color="#00f3ff"/><stop offset=".707" stop-color="#08fff7"/><stop offset=".79" stop-color="#f8ff07"/><stop offset=".797" stop-color="#fff300"/><stop offset=".845" stop-color="#ff7400"/><stop offset=".879" stop-color="#ff2800"/><stop offset=".9" stop-color="#ff0100"/><stop offset=".934" stop-color="#cf0000"/><stop offset=".962" stop-color="#b70000"/><stop offset=".99" stop-color="#ab0000"/><stop offset="1" stop-color="#ab0000"/></linearGradient><linearGradient id="b5"><stop offset="0" stop-color="#b20000"/><stop offset=".031" stop-color="#bc0000"/><stop offset=".066" stop-color="#da0000"/><stop offset=".093" stop-color="#ff0200"/><stop offset=".128" stop-color="#ff4200"/><stop offset=".169" stop-color="#ffa200"/><stop offset=".203" stop-color="#fffe00"/><stop offset=".293" stop-color="#00ffff"/><stop offset=".341" stop-color="#0081ff"/><stop offset=".376" stop-color="#0035ff"/><stop offset=".403" stop-color="#0002ff"/><stop offset=".445" stop-color="#0000cc"/><stop offset=".472" stop-color="#0000b8"/><stop offset=".5" stop-color="#0000b2"/><stop offset=".528" stop-color="#0000ba"/><stop offset=".562" stop-color="#0000d7"/><stop offset=".59" stop-color="#0000fc"/><stop offset=".603" stop-color="#0014ff"/><stop offset=".638" stop-color="#0059ff"/><stop offset=".679" stop-color="#00beff"/><stop offset=".7" stop-color="#00f6ff"/><stop offset=".707" stop-color="#0afff5"/><stop offset=".79" stop-color="#f6ff09"/><stop offset=".797" stop-color="#fff500"/><stop offset=".845" stop-color="#ff7800"/><stop offset=".879" stop-color="#ff2d00"/><stop offset=".9" stop-color="#ff0700"/><stop offset=".907" stop-color="#fb0000"/><stop offset=".941" stop-color="#cf0000"/><stop offset=".969" stop-color="#ba0000"/><stop offset="1" stop-color="#b20000"/></linearGradient><linearGradient id="b6"><stop offset="0" stop-color="#ba0000"/><stop offset=".031" stop-color="#c30000"/><stop offset=".066" stop-color="#e10000"/><stop offset=".086" stop-color="#fd0000"/><stop offset=".107" stop-color="#ff1f00"/><stop offset=".141" stop-color="#ff6500"/><stop offset=".183" stop-color="#ffc900"/><stop offset=".203" stop-color="#feff01"/><stop offset=".293" stop-color="#02fffd"/><stop offset=".348" stop-color="#0075ff"/><stop offset=".383" stop-color="#002dff"/><stop offset=".403" stop-color="#0009ff"/><stop offset=".41" stop-color="#0000fd"/><stop offset=".445" stop-color="#0000d3"/><stop offset=".479" stop-color="#0000bd"/><stop offset=".507" stop-color="#0000ba"/><stop offset=".534" stop-color="#0000c5"/><stop offset=".569" stop-color="#0000e6"/><stop offset=".59" stop-color="#0003ff"/><stop offset=".624" stop-color="#0041ff"/><stop offset=".666" stop-color="#009eff"/><stop offset=".7" stop-color="#00f8ff"/><stop offset=".707" stop-color="#0cfff3"/><stop offset=".79" stop-color="#f4ff0b"/><stop offset=".797" stop-color="#fff700"/><stop offset=".845" stop-color="#ff7c00"/><stop offset=".879" stop-color="#ff3300"/><stop offset=".907" stop-color="#ff0300"/><stop offset=".948" stop-color="#d00000"/><stop offset=".983" stop-color="#bc0000"/><stop offset="1" stop-color="#ba0000"/></linearGradient><linearGradient id="b7"><stop offset="0" stop-color="#c10000"/><stop offset=".031" stop-color="#ca0000"/><stop offset=".066" stop-color="#e80000"/><stop offset=".079" stop-color="#f90000"/><stop offset=".086" stop-color="#ff0400"/><stop offset=".121" stop-color="#ff3f00"/><stop offset=".162" stop-color="#ff9900"/><stop offset=".197" stop-color="#fff000"/><stop offset=".203" stop-color="#fcff03"/><stop offset=".293" stop-color="#04fffb"/><stop offset=".307" stop-color="#00dfff"/><stop offset=".348" stop-color="#007aff"/><stop offset=".383" stop-color="#0032ff"/><stop offset=".41" stop-color="#0004ff"/><stop offset=".424" stop-color="#0000f1"/><stop offset=".459" stop-color="#0000cf"/><stop offset=".493" stop-color="#0000c2"/><stop offset=".528" stop-color="#0000c9"/><stop offset=".562" stop-color="#0000e5"/><stop offset=".583" stop-color="#0000fe"/><stop offset=".617" stop-color="#0039ff"/><stop offset=".659" stop-color="#0092ff"/><stop offset=".7" stop-color="#00faff"/><stop offset=".707" stop-color="#0efff1"/><stop offset=".79" stop-color="#f2ff0d"/><stop offset=".797" stop-color="#fff900"/><stop offset=".845" stop-color="#ff8100"/><stop offset=".879" stop-color="#ff3800"/><stop offset=".907" stop-color="#ff0900"/><stop offset=".914" stop-color="#fe0000"/><stop offset=".948" stop-color="#d70000"/><stop offset=".983" stop-color="#c30000"/><stop offset="1" stop-color="#c10000"/></linearGradient><linearGradient id="b8"><stop offset="0" stop-color="#c90000"/><stop offset=".031" stop-color="#d20000"/><stop offset=".066" stop-color="#ef0000"/><stop offset=".079" stop-color="#ff0100"/><stop offset=".114" stop-color="#ff3700"/><stop offset=".155" stop-color="#ff8d00"/><stop offset=".197" stop-color="#fff200"/><stop offset=".203" stop-color="#f9ff06"/><stop offset=".293" stop-color="#06fff9"/><stop offset=".3" stop-color="#00f3ff"/><stop offset=".348" stop-color="#007eff"/><stop offset=".383" stop-color="#0038ff"/><stop offset=".417" stop-color="#0001ff"/><stop offset=".452" stop-color="#0000db"/><stop offset=".486" stop-color="#0000ca"/><stop offset=".521" stop-color="#0000cd"/><stop offset=".555" stop-color="#0000e4"/><stop offset=".576" stop-color="#0000fb"/><stop offset=".59" stop-color="#0010ff"/><stop offset=".624" stop-color="#004bff"/><stop offset=".666" stop-color="#00a6ff"/><stop offset=".7" stop-color="#00fcff"/><stop offset=".734" stop-color="#5affa5"/><stop offset=".79" stop-color="#f0ff0f"/><stop offset=".797" stop-color="#fffb00"/><stop offset=".845" stop-color="#ff8500"/><stop offset=".886" stop-color="#ff3100"/><stop offset=".914" stop-color="#ff0500"/><stop offset=".921" stop-color="#fb0000"/><stop offset=".955" stop-color="#d80000"/><stop offset=".99" stop-color="#c90000"/><stop offset="1" stop-color="#c90000"/></linearGradient><linearGradient id="b9"><stop offset="0" stop-color="#cf0000"/><stop offset=".031" stop-color="#d80000"/><stop offset=".066" stop-color="#f50000"/><stop offset=".072" stop-color="#fd0000"/><stop offset=".093" stop-color="#ff1a00"/><stop offset=".128" stop-color="#ff5600"/><stop offset=".169" stop-color="#ffb000"/><stop offset=".197" stop-color="#fff500"/><stop offset=".203" stop-color="#f8ff07"/><stop offset=".293" stop-color="#08fff7"/><stop offset=".3" stop-color="#00f5ff"/><stop offset=".348" stop-color="#0082ff"/><stop offset=".39" stop-color="#0031ff"/><stop offset=".417" stop-color="#0007ff"/><stop offset=".424" stop-color="#0000fd"/><stop offset=".459" stop-color="#0000dc"/><stop offset=".493" stop-color="#0000cf"/><stop offset=".528" stop-color="#0000d6"/><stop offset=".562" stop-color="#0000f1"/><stop offset=".576" stop-color="#0002ff"/><stop offset=".61" stop-color="#0037ff"/><stop offset=".652" stop-color="#0089ff"/><stop offset=".7" stop-color="#00feff"/><stop offset=".797" stop-color="#fffd00"/><stop offset=".845" stop-color="#ff8900"/><stop offset=".886" stop-color="#ff3600"/><stop offset=".921" stop-color="#ff0200"/><stop offset=".962" stop-color="#da0000"/><stop offset=".997" stop-color="#cf0000"/><stop offset="1" stop-color="#cf0000"/></linearGradient><linearGradient id="b10"><stop offset="0" stop-color="#d50000"/><stop offset=".031" stop-color="#de0000"/><stop offset=".066" stop-color="#fa0000"/><stop offset=".072" stop-color="#ff0300"/><stop offset=".107" stop-color="#ff3500"/><stop offset=".148" stop-color="#ff8500"/><stop offset=".197" stop-color="#fff600"/><stop offset=".203" stop-color="#f6ff09"/><stop offset=".293" stop-color="#0afff5"/><stop offset=".3" stop-color="#00f7ff"/><stop offset=".348" stop-color="#0085ff"/><stop offset=".39" stop-color="#0035ff"/><stop offset=".424" stop-color="#0003ff"/><stop offset=".445" stop-color="#0000ed"/><stop offset=".479" stop-color="#0000d8"/><stop offset=".514" stop-color="#0000d7"/><stop offset=".548" stop-color="#0000ea"/><stop offset=".569" stop-color="#0000fe"/><stop offset=".603" stop-color="#0030ff"/><stop offset=".638" stop-color="#0070ff"/><stop offset=".686" stop-color="#00ddff"/><stop offset=".7" stop-color="#01fffe"/><stop offset=".797" stop-color="#ffff00"/><stop offset=".845" stop-color="#ff8c00"/><stop offset=".886" stop-color="#ff3b00"/><stop offset=".921" stop-color="#ff0700"/><stop offset=".928" stop-color="#fe0000"/><stop offset=".962" stop-color="#e00000"/><stop offset=".997" stop-color="#d50000"/><stop offset="1" stop-color="#d50000"/></linearGradient><linearGradient id="b11"><stop offset="0" stop-color="#db0000"/><stop offset=".031" stop-color="#e40000"/><stop offset=".066" stop-color="#ff0000"/><stop offset=".1" stop-color="#ff2e00"/><stop offset=".134" stop-color="#ff6c00"/><stop offset=".176" stop-color="#ffc600"/><stop offset=".197" stop-color="#fff800"/><stop offset=".203" stop-color="#f4ff0b"/><stop offset=".293" stop-color="#0cfff3"/><stop offset=".3" stop-color="#00f9ff"/><stop offset=".348" stop-color="#0089ff"/><stop offset=".39" stop-color="#003aff"/><stop offset=".424" stop-color="#0009ff"/><stop offset=".431" stop-color="#0001ff"/><stop offset=".466" stop-color="#0000e4"/><stop offset=".5" stop-color="#0000db"/><stop offset=".534" stop-color="#0000e6"/><stop offset=".562" stop-color="#0000fc"/><stop offset=".576" stop-color="#000dff"/><stop offset=".61" stop-color="#0040ff"/><stop offset=".652" stop-color="#0090ff"/><stop offset=".7" stop-color="#03fffc"/><stop offset=".797" stop-color="#fdff02"/><stop offset=".852" stop-color="#ff8100"/><stop offset=".893" stop-color="#ff3400"/><stop offset=".928" stop-color="#ff0400"/><stop offset=".941" stop-color="#f50000"/><stop offset=".976" stop-color="#df0000"/><stop offset="1" stop-color="#db0000"/></linearGradient><linearGradient id="b12"><stop offset="0" stop-color="#e10000"/><stop offset=".031" stop-color="#e90000"/><stop offset=".059" stop-color="#fe0000"/><stop offset=".086" stop-color="#ff1f00"/><stop offset=".121" stop-color="#ff5500"/><stop offset=".162" stop-color="#ffa900"/><stop offset=".197" stop-color="#fffa00"/><stop offset=".203" stop-color="#f3ff0c"/><stop offset=".293" stop-color="#0dfff2"/><stop offset=".3" stop-color="#00fbff"/><stop offset=".348" stop-color="#008cff"/><stop offset=".39" stop-color="#003eff"/><stop offset=".424" stop-color="#000eff"/><stop offset=".438" stop-color="#0000fe"/><stop offset=".472" stop-color="#0000e6"/><stop offset=".507" stop-color="#0000e1"/><stop offset=".541" stop-color="#0000f0"/><stop offset=".562" stop-color="#0002ff"/><stop offset=".597" stop-color="#002eff"/><stop offset=".631" stop-color="#0069ff"/><stop offset=".672" stop-color="#00c1ff"/><stop offset=".693" stop-color="#00f3ff"/><stop offset=".7" stop-color="#05fffa"/><stop offset=".797" stop-color="#fbff04"/><stop offset=".817" stop-color="#ffd100"/><stop offset=".859" stop-color="#ff7600"/><stop offset=".893" stop-color="#ff3800"/><stop offset=".928" stop-color="#ff0900"/><stop offset=".934" stop-color="#ff0200"/><stop offset=".976" stop-color="#e50000"/><stop offset="1" stop-color="#e10000"/></linearGradient><linearGradient id="b13"><stop offset="0" stop-color="#e70000"/><stop offset=".031" stop-color="#ef0000"/><stop offset=".052" stop-color="#fd0000"/><stop offset=".072" stop-color="#ff1200"/><stop offset=".107" stop-color="#ff4200"/><stop offset=".148" stop-color="#ff8f00"/><stop offset=".197" stop-color="#fffc00"/><stop offset=".217" stop-color="#cfff30"/><stop offset=".293" stop-color="#0ffff0"/><stop offset=".3" stop-color="#00fdff"/><stop offset=".348" stop-color="#008fff"/><stop offset=".39" stop-color="#0043ff"/><stop offset=".424" stop-color="#0013ff"/><stop offset=".445" stop-color="#0000fd"/><stop offset=".479" stop-color="#0000e9"/><stop offset=".514" stop-color="#0000e8"/><stop offset=".548" stop-color="#0000fa"/><stop offset=".555" stop-color="#0001ff"/><stop offset=".59" stop-color="#0029ff"/><stop offset=".624" stop-color="#0060ff"/><stop offset=".666" stop-color="#00b4ff"/><stop offset=".693" stop-color="#00f4ff"/><stop offset=".7" stop-color="#06fff9"/><stop offset=".797" stop-color="#faff05"/><stop offset=".803" stop-color="#fff400"/><stop offset=".852" stop-color="#ff8800"/><stop offset=".893" stop-color="#ff3d00"/><stop offset=".928" stop-color="#ff0f00"/><stop offset=".941" stop-color="#ff0100"/><stop offset=".976" stop-color="#ea0000"/><stop offset="1" stop-color="#e60000"/></linearGradient><linearGradient id="b14"><stop offset="0" stop-color="#ec0000"/><stop offset=".031" stop-color="#f40000"/><stop offset=".052" stop-color="#ff0300"/><stop offset=".086" stop-color="#ff2800"/><stop offset=".121" stop-color="#ff5e00"/><stop offset=".162" stop-color="#ffaf00"/><stop offset=".197" stop-color="#fffe00"/><stop offset=".3" stop-color="#00ffff"/><stop offset=".348" stop-color="#0093ff"/><stop offset=".39" stop-color="#0047ff"/><stop offset=".424" stop-color="#0018ff"/><stop offset=".445" stop-color="#0003ff"/><stop offset=".466" stop-color="#0000f4"/><stop offset=".5" stop-color="#0000ec"/><stop offset=".534" stop-color="#0000f6"/><stop offset=".548" stop-color="#0001ff"/><stop offset=".583" stop-color="#0024ff"/><stop offset=".617" stop-color="#0058ff"/><stop offset=".659" stop-color="#00a8ff"/><stop offset=".693" stop-color="#00f6ff"/><stop offset=".7" stop-color="#08fff7"/><stop offset=".797" stop-color="#f8ff07"/><stop offset=".803" stop-color="#fff600"/><stop offset=".852" stop-color="#ff8b00"/><stop offset=".893" stop-color="#ff4100"/><stop offset=".928" stop-color="#ff1400"/><stop offset=".948" stop-color="#ff0000"/><stop offset=".983" stop-color="#ee0000"/><stop offset="1" stop-color="#ec0000"/></linearGradient><linearGradient id="b15"><stop offset="0" stop-color="#f20000"/><stop offset=".031" stop-color="#fa0000"/><stop offset=".045" stop-color="#ff0300"/><stop offset=".079" stop-color="#ff2400"/><stop offset=".114" stop-color="#ff5600"/><stop offset=".155" stop-color="#ffa300"/><stop offset=".197" stop-color="#feff01"/><stop offset=".3" stop-color="#01fffe"/><stop offset=".355" stop-color="#0088ff"/><stop offset=".397" stop-color="#0041ff"/><stop offset=".431" stop-color="#0015ff"/><stop offset=".459" stop-color="#0000fe"/><stop offset=".493" stop-color="#0000f2"/><stop offset=".528" stop-color="#0000f8"/><stop offset=".541" stop-color="#0001ff"/><stop offset=".576" stop-color="#0021ff"/><stop offset=".61" stop-color="#0051ff"/><stop offset=".652" stop-color="#009dff"/><stop offset=".693" stop-color="#00f8ff"/><stop offset=".7" stop-color="#0afff5"/><stop offset=".797" stop-color="#f6ff09"/><stop offset=".803" stop-color="#fff700"/><stop offset=".852" stop-color="#ff8e00"/><stop offset=".893" stop-color="#ff4600"/><stop offset=".928" stop-color="#ff1900"/><stop offset=".955" stop-color="#ff0100"/><stop offset=".99" stop-color="#f20000"/><stop offset="1" stop-color="#f20000"/></linearGradient><linearGradient id="b16"><stop offset="0" stop-color="#f70000"/><stop offset=".031" stop-color="#ff0000"/><stop offset=".066" stop-color="#ff1a00"/><stop offset=".1" stop-color="#ff4500"/><stop offset=".141" stop-color="#ff8b00"/><stop offset=".197" stop-color="#fdff02"/><stop offset=".3" stop-color="#03fffc"/><stop offset=".328" stop-color="#00c4ff"/><stop offset=".369" stop-color="#0072ff"/><stop offset=".403" stop-color="#003cff"/><stop offset=".438" stop-color="#0014ff"/><stop offset=".466" stop-color="#0000ff"/><stop offset=".5" stop-color="#0000f7"/><stop offset=".534" stop-color="#0002ff"/><stop offset=".569" stop-color="#001eff"/><stop offset=".603" stop-color="#004bff"/><stop offset=".645" stop-color="#0093ff"/><stop offset=".693" stop-color="#00faff"/><stop offset=".7" stop-color="#0bfff4"/><stop offset=".797" stop-color="#f5ff0a"/><stop offset=".803" stop-color="#fff900"/><stop offset=".852" stop-color="#ff9200"/><stop offset=".893" stop-color="#ff4a00"/><stop offset=".928" stop-color="#ff1e00"/><stop offset=".962" stop-color="#ff0200"/><stop offset="1" stop-color="#f70000"/></linearGradient><linearGradient id="b17"><stop offset="0" stop-color="#fd0000"/><stop offset=".024" stop-color="#ff0300"/><stop offset=".059" stop-color="#ff1900"/><stop offset=".093" stop-color="#ff4000"/><stop offset=".134" stop-color="#ff8200"/><stop offset=".183" stop-color="#ffe400"/><stop offset=".197" stop-color="#fbff04"/><stop offset=".3" stop-color="#05fffa"/><stop offset=".307" stop-color="#00f4ff"/><stop offset=".355" stop-color="#008fff"/><stop offset=".397" stop-color="#004aff"/><stop offset=".431" stop-color="#0020ff"/><stop offset=".466" stop-color="#0006ff"/><stop offset=".493" stop-color="#0000fd"/><stop offset=".521" stop-color="#0002ff"/><stop offset=".555" stop-color="#0016ff"/><stop offset=".59" stop-color="#003cff"/><stop offset=".631" stop-color="#007cff"/><stop offset=".679" stop-color="#00ddff"/><stop offset=".693" stop-color="#00fcff"/><stop offset=".721" stop-color="#3effc1"/><stop offset=".797" stop-color="#f3ff0c"/><stop offset=".803" stop-color="#fffb00"/><stop offset=".852" stop-color="#ff9500"/><stop offset=".893" stop-color="#ff4e00"/><stop offset=".928" stop-color="#ff2300"/><stop offset=".962" stop-color="#ff0800"/><stop offset=".99" stop-color="#fd0000"/><stop offset="1" stop-color="#fd0000"/></linearGradient><linearGradient id="b18"><stop offset="0" stop-color="#ff0400"/><stop offset=".031" stop-color="#ff0c00"/><stop offset=".066" stop-color="#ff2500"/><stop offset=".1" stop-color="#ff4e00"/><stop offset=".141" stop-color="#ff9200"/><stop offset=".19" stop-color="#fff600"/><stop offset=".197" stop-color="#f9ff06"/><stop offset=".3" stop-color="#07fff8"/><stop offset=".307" stop-color="#00f6ff"/><stop offset=".355" stop-color="#0093ff"/><stop offset=".397" stop-color="#004fff"/><stop offset=".431" stop-color="#0025ff"/><stop offset=".466" stop-color="#000cff"/><stop offset=".5" stop-color="#0004ff"/><stop offset=".534" stop-color="#000dff"/><stop offset=".569" stop-color="#0028ff"/><stop offset=".603" stop-color="#0054ff"/><stop offset=".645" stop-color="#0099ff"/><stop offset=".693" stop-color="#00feff"/><stop offset=".803" stop-color="#fffd00"/><stop offset=".852" stop-color="#ff9900"/><stop offset=".893" stop-color="#ff5300"/><stop offset=".928" stop-color="#ff2800"/><stop offset=".962" stop-color="#ff0d00"/><stop offset=".997" stop-color="#ff0400"/><stop offset="1" stop-color="#ff0400"/></linearGradient><linearGradient id="b19"><stop offset="0" stop-color="#ff0a00"/><stop offset=".031" stop-color="#ff1100"/><stop offset=".066" stop-color="#ff2a00"/><stop offset=".1" stop-color="#ff5300"/><stop offset=".141" stop-color="#ff9600"/><stop offset=".19" stop-color="#fff800"/><stop offset=".197" stop-color="#f7ff08"/><stop offset=".3" stop-color="#09fff6"/><stop offset=".307" stop-color="#00f9ff"/><stop offset=".355" stop-color="#0097ff"/><stop offset=".397" stop-color="#0053ff"/><stop offset=".431" stop-color="#002aff"/><stop offset=".466" stop-color="#0011ff"/><stop offset=".5" stop-color="#000aff"/><stop offset=".534" stop-color="#0013ff"/><stop offset=".569" stop-color="#002eff"/><stop offset=".603" stop-color="#0058ff"/><stop offset=".645" stop-color="#009dff"/><stop offset=".693" stop-color="#01fffe"/><stop offset=".803" stop-color="#ffff00"/><stop offset=".852" stop-color="#ff9c00"/><stop offset=".893" stop-color="#ff5800"/><stop offset=".928" stop-color="#ff2d00"/><stop offset=".962" stop-color="#ff1300"/><stop offset=".997" stop-color="#ff0a00"/><stop offset="1" stop-color="#ff0a00"/></linearGradient><linearGradient id="b20"><stop offset="0" stop-color="#ff1000"/><stop offset=".031" stop-color="#ff1700"/><stop offset=".066" stop-color="#ff3000"/><stop offset=".1" stop-color="#ff5800"/><stop offset=".141" stop-color="#ff9a00"/><stop offset=".19" stop-color="#fffa00"/><stop offset=".197" stop-color="#f5ff0a"/><stop offset=".3" stop-color="#0bfff4"/><stop offset=".307" stop-color="#00fbff"/><stop offset=".355" stop-color="#009aff"/><stop offset=".397" stop-color="#0058ff"/><stop offset=".431" stop-color="#0030ff"/><stop offset=".466" stop-color="#0017ff"/><stop offset=".5" stop-color="#0010ff"/><stop offset=".534" stop-color="#0019ff"/><stop offset=".569" stop-color="#0033ff"/><stop offset=".603" stop-color="#005dff"/><stop offset=".645" stop-color="#00a1ff"/><stop offset=".686" stop-color="#00f3ff"/><stop offset=".693" stop-color="#03fffc"/><stop offset=".803" stop-color="#fdff02"/><stop offset=".859" stop-color="#ff9400"/><stop offset=".9" stop-color="#ff5300"/><stop offset=".934" stop-color="#ff2c00"/><stop offset=".969" stop-color="#ff1600"/><stop offset="1" stop-color="#ff1000"/></linearGradient><linearGradient id="b21"><stop offset="0" stop-color="#ff1600"/><stop offset=".031" stop-color="#ff1d00"/><stop offset=".066" stop-color="#ff3500"/><stop offset=".1" stop-color="#ff5d00"/><stop offset=".141" stop-color="#ff9e00"/><stop offset=".19" stop-color="#fffc00"/><stop offset=".217" stop-color="#c6ff39"/><stop offset=".3" stop-color="#0dfff2"/><stop offset=".307" stop-color="#00fdff"/><stop offset=".355" stop-color="#009eff"/><stop offset=".397" stop-color="#005dff"/><stop offset=".431" stop-color="#0035ff"/><stop offset=".466" stop-color="#001dff"/><stop offset=".5" stop-color="#0016ff"/><stop offset=".534" stop-color="#001fff"/><stop offset=".569" stop-color="#0039ff"/><stop offset=".603" stop-color="#0062ff"/><stop offset=".645" stop-color="#00a4ff"/><stop offset=".686" stop-color="#00f6ff"/><stop offset=".693" stop-color="#05fffa"/><stop offset=".803" stop-color="#fbff04"/><stop offset=".817" stop-color="#ffe700"/><stop offset=".866" stop-color="#ff8c00"/><stop offset=".907" stop-color="#ff4f00"/><stop offset=".941" stop-color="#ff2c00"/><stop offset=".976" stop-color="#ff1900"/><stop offset="1" stop-color="#ff1600"/></linearGradient><linearGradient id="b22"><stop offset="0" stop-color="#ff1c00"/><stop offset=".031" stop-color="#ff2300"/><stop offset=".066" stop-color="#ff3b00"/><stop offset=".1" stop-color="#ff6200"/><stop offset=".141" stop-color="#ffa200"/><stop offset=".19" stop-color="#fffe00"/><stop offset=".307" stop-color="#00ffff"/><stop offset=".355" stop-color="#00a2ff"/><stop offset=".397" stop-color="#0062ff"/><stop offset=".431" stop-color="#003bff"/><stop offset=".466" stop-color="#0024ff"/><stop offset=".5" stop-color="#001cff"/><stop offset=".534" stop-color="#0025ff"/><stop offset=".569" stop-color="#003fff"/><stop offset=".603" stop-color="#0067ff"/><stop offset=".645" stop-color="#00a8ff"/><stop offset=".686" stop-color="#00f8ff"/><stop offset=".693" stop-color="#07fff8"/><stop offset=".803" stop-color="#f8ff07"/><stop offset=".81" stop-color="#fff700"/><stop offset=".859" stop-color="#ff9c00"/><stop offset=".9" stop-color="#ff5d00"/><stop offset=".934" stop-color="#ff3800"/><stop offset=".969" stop-color="#ff2200"/><stop offset="1" stop-color="#ff1c00"/></linearGradient><linearGradient id="b23"><stop offset="0" stop-color="#ff2300"/><stop offset=".031" stop-color="#ff2a00"/><stop offset=".066" stop-color="#ff4100"/><stop offset=".1" stop-color="#ff6700"/><stop offset=".141" stop-color="#ffa600"/><stop offset=".19" stop-color="#fdff02"/><stop offset=".307" stop-color="#03fffc"/><stop offset=".369" stop-color="#008fff"/><stop offset=".41" stop-color="#0056ff"/><stop offset=".445" stop-color="#0036ff"/><stop offset=".479" stop-color="#0025ff"/><stop offset=".514" stop-color="#0024ff"/><stop offset=".548" stop-color="#0034ff"/><stop offset=".583" stop-color="#0053ff"/><stop offset=".624" stop-color="#008aff"/><stop offset=".672" stop-color="#00dfff"/><stop offset=".686" stop-color="#00fbff"/><stop offset=".7" stop-color="#18ffe7"/><stop offset=".803" stop-color="#f6ff09"/><stop offset=".81" stop-color="#fffa00"/><stop offset=".859" stop-color="#ffa000"/><stop offset=".9" stop-color="#ff6300"/><stop offset=".934" stop-color="#ff3e00"/><stop offset=".969" stop-color="#ff2800"/><stop offset="1" stop-color="#ff2300"/></linearGradient><linearGradient id="b24"><stop offset="0" stop-color="#ff2a00"/><stop offset=".038" stop-color="#ff3400"/><stop offset=".072" stop-color="#ff4e00"/><stop offset=".114" stop-color="#ff7f00"/><stop offset=".162" stop-color="#ffce00"/><stop offset=".183" stop-color="#fff600"/><stop offset=".19" stop-color="#fbff04"/><stop offset=".307" stop-color="#05fffa"/><stop offset=".321" stop-color="#00e9ff"/><stop offset=".369" stop-color="#0094ff"/><stop offset=".41" stop-color="#005cff"/><stop offset=".445" stop-color="#003dff"/><stop offset=".479" stop-color="#002cff"/><stop offset=".514" stop-color="#002bff"/><stop offset=".548" stop-color="#003aff"/><stop offset=".583" stop-color="#0058ff"/><stop offset=".624" stop-color="#008fff"/><stop offset=".672" stop-color="#00e2ff"/><stop offset=".686" stop-color="#00fdff"/><stop offset=".748" stop-color="#80ff7f"/><stop offset=".803" stop-color="#f4ff0b"/><stop offset=".81" stop-color="#fffc00"/><stop offset=".859" stop-color="#ffa400"/><stop offset=".9" stop-color="#ff6800"/><stop offset=".934" stop-color="#ff4400"/><stop offset=".969" stop-color="#ff2f00"/><stop offset="1" stop-color="#ff2a00"/></linearGradient><linearGradient id="b25"><stop offset="0" stop-color="#ff3100"/><stop offset=".038" stop-color="#ff3b00"/><stop offset=".072" stop-color="#ff5400"/><stop offset=".114" stop-color="#ff8500"/><stop offset=".162" stop-color="#ffd200"/><stop offset=".183" stop-color="#fff900"/><stop offset=".19" stop-color="#f8ff07"/><stop offset=".307" stop-color="#08fff7"/><stop offset=".314" stop-color="#00f9ff"/><stop offset=".362" stop-color="#00a4ff"/><stop offset=".403" stop-color="#006aff"/><stop offset=".438" stop-color="#0049ff"/><stop offset=".472" stop-color="#0035ff"/><stop offset=".507" stop-color="#0031ff"/><stop offset=".541" stop-color="#003dff"/><stop offset=".576" stop-color="#0058ff"/><stop offset=".617" stop-color="#008aff"/><stop offset=".666" stop-color="#00d9ff"/><stop offset=".686" stop-color="#01fffe"/><stop offset=".81" stop-color="#ffff00"/><stop offset=".859" stop-color="#ffa900"/><stop offset=".9" stop-color="#ff6e00"/><stop offset=".941" stop-color="#ff4600"/><stop offset=".976" stop-color="#ff3400"/><stop offset="1" stop-color="#ff3100"/></linearGradient><linearGradient id="b26"><stop offset="0" stop-color="#ff3900"/><stop offset=".038" stop-color="#ff4300"/><stop offset=".072" stop-color="#ff5b00"/><stop offset=".114" stop-color="#ff8a00"/><stop offset=".162" stop-color="#ffd600"/><stop offset=".183" stop-color="#fffc00"/><stop offset=".203" stop-color="#daff25"/><stop offset=".307" stop-color="#0afff5"/><stop offset=".314" stop-color="#00fcff"/><stop offset=".362" stop-color="#00a9ff"/><stop offset=".403" stop-color="#0071ff"/><stop offset=".445" stop-color="#004bff"/><stop offset=".479" stop-color="#003bff"/><stop offset=".514" stop-color="#003aff"/><stop offset=".548" stop-color="#0049ff"/><stop offset=".59" stop-color="#006dff"/><stop offset=".631" stop-color="#00a4ff"/><stop offset=".679" stop-color="#00f6ff"/><stop offset=".686" stop-color="#04fffb"/><stop offset=".81" stop-color="#fcff03"/><stop offset=".838" stop-color="#ffd000"/><stop offset=".886" stop-color="#ff8600"/><stop offset=".928" stop-color="#ff5800"/><stop offset=".962" stop-color="#ff4100"/><stop offset="1" stop-color="#ff3900"/></linearGradient><linearGradient id="b27"><stop offset="0" stop-color="#ff4100"/><stop offset=".038" stop-color="#ff4b00"/><stop offset=".079" stop-color="#ff6900"/><stop offset=".121" stop-color="#ff9a00"/><stop offset=".169" stop-color="#ffe600"/><stop offset=".183" stop-color="#ffff00"/><stop offset=".314" stop-color="#01fffe"/><stop offset=".369" stop-color="#00a4ff"/><stop offset=".41" stop-color="#0070ff"/><stop offset=".452" stop-color="#004eff"/><stop offset=".486" stop-color="#0042ff"/><stop offset=".521" stop-color="#0044ff"/><stop offset=".555" stop-color="#0055ff"/><stop offset=".597" stop-color="#007cff"/><stop offset=".638" stop-color="#00b4ff"/><stop offset=".679" stop-color="#00f9ff"/><stop offset=".686" stop-color="#07fff8"/><stop offset=".81" stop-color="#f9ff06"/><stop offset=".817" stop-color="#fff900"/><stop offset=".866" stop-color="#ffa900"/><stop offset=".907" stop-color="#ff7400"/><stop offset=".948" stop-color="#ff5000"/><stop offset=".983" stop-color="#ff4200"/><stop offset="1" stop-color="#ff4100"/></linearGradient><linearGradient id="b28"><stop offset="0" stop-color="#ff4a00"/><stop offset=".038" stop-color="#ff5300"/><stop offset=".079" stop-color="#ff7000"/><stop offset=".121" stop-color="#ffa000"/><stop offset=".169" stop-color="#ffea00"/><stop offset=".183" stop-color="#fcff03"/><stop offset=".314" stop-color="#04fffb"/><stop offset=".328" stop-color="#00ebff"/><stop offset=".376" stop-color="#00a1ff"/><stop offset=".417" stop-color="#0071ff"/><stop offset=".459" stop-color="#0053ff"/><stop offset=".493" stop-color="#004aff"/><stop offset=".528" stop-color="#004fff"/><stop offset=".569" stop-color="#0067ff"/><stop offset=".61" stop-color="#0093ff"/><stop offset=".659" stop-color="#00daff"/><stop offset=".679" stop-color="#00fdff"/><stop offset=".728" stop-color="#58ffa7"/><stop offset=".81" stop-color="#f5ff0a"/><stop offset=".817" stop-color="#fffc00"/><stop offset=".866" stop-color="#ffaf00"/><stop offset=".907" stop-color="#ff7b00"/><stop offset=".948" stop-color="#ff5800"/><stop offset=".983" stop-color="#ff4b00"/><stop offset="1" stop-color="#ff4900"/></linearGradient><linearGradient id="b29"><stop offset="0" stop-color="#ff5200"/><stop offset=".038" stop-color="#ff5b00"/><stop offset=".079" stop-color="#ff7800"/><stop offset=".121" stop-color="#ffa600"/><stop offset=".169" stop-color="#ffef00"/><stop offset=".176" stop-color="#fffa00"/><stop offset=".183" stop-color="#f8ff07"/><stop offset=".314" stop-color="#08fff7"/><stop offset=".321" stop-color="#00fbff"/><stop offset=".369" stop-color="#00b0ff"/><stop offset=".41" stop-color="#007fff"/><stop offset=".452" stop-color="#005fff"/><stop offset=".486" stop-color="#0053ff"/><stop offset=".521" stop-color="#0055ff"/><stop offset=".562" stop-color="#006aff"/><stop offset=".603" stop-color="#0091ff"/><stop offset=".652" stop-color="#00d3ff"/><stop offset=".679" stop-color="#02fffd"/><stop offset=".817" stop-color="#feff01"/><stop offset=".872" stop-color="#ffab00"/><stop offset=".914" stop-color="#ff7b00"/><stop offset=".955" stop-color="#ff5d00"/><stop offset=".99" stop-color="#ff5300"/><stop offset="1" stop-color="#ff5200"/></linearGradient><linearGradient id="b30"><stop offset="0" stop-color="#ff5b00"/><stop offset=".038" stop-color="#ff6400"/><stop offset=".079" stop-color="#ff8000"/><stop offset=".121" stop-color="#ffad00"/><stop offset=".169" stop-color="#fff300"/><stop offset=".176" stop-color="#fffe00"/><stop offset=".252" stop-color="#79ff86"/><stop offset=".321" stop-color="#00ffff"/><stop offset=".369" stop-color="#00b6ff"/><stop offset=".41" stop-color="#0086ff"/><stop offset=".452" stop-color="#0067ff"/><stop offset=".493" stop-color="#005bff"/><stop offset=".534" stop-color="#0062ff"/><stop offset=".576" stop-color="#007dff"/><stop offset=".617" stop-color="#00a9ff"/><stop offset=".666" stop-color="#00eeff"/><stop offset=".672" stop-color="#00f9ff"/><stop offset=".679" stop-color="#05fffa"/><stop offset=".817" stop-color="#faff05"/><stop offset=".831" stop-color="#ffed00"/><stop offset=".879" stop-color="#ffa800"/><stop offset=".921" stop-color="#ff7d00"/><stop offset=".962" stop-color="#ff6200"/><stop offset="1" stop-color="#ff5b00"/></linearGradient><linearGradient id="b31"><stop offset="0" stop-color="#ff6400"/><stop offset=".038" stop-color="#ff6c00"/><stop offset=".079" stop-color="#ff8700"/><stop offset=".121" stop-color="#ffb300"/><stop offset=".176" stop-color="#fcff03"/><stop offset=".321" stop-color="#03fffc"/><stop offset=".341" stop-color="#00e2ff"/><stop offset=".39" stop-color="#00a3ff"/><stop offset=".431" stop-color="#007cff"/><stop offset=".472" stop-color="#0067ff"/><stop offset=".514" stop-color="#0065ff"/><stop offset=".555" stop-color="#0075ff"/><stop offset=".597" stop-color="#0098ff"/><stop offset=".645" stop-color="#00d3ff"/><stop offset=".672" stop-color="#00fdff"/><stop offset=".721" stop-color="#4fffb0"/><stop offset=".817" stop-color="#f7ff08"/><stop offset=".824" stop-color="#fffc00"/><stop offset=".872" stop-color="#ffb700"/><stop offset=".914" stop-color="#ff8a00"/><stop offset=".955" stop-color="#ff6e00"/><stop offset=".997" stop-color="#ff6400"/><stop offset="1" stop-color="#ff6400"/></linearGradient><linearGradient id="b32"><stop offset="0" stop-color="#ff6c00"/><stop offset=".038" stop-color="#ff7400"/><stop offset=".079" stop-color="#ff8f00"/><stop offset=".128" stop-color="#ffc100"/><stop offset=".169" stop-color="#fffb00"/><stop offset=".183" stop-color="#eeff11"/><stop offset=".321" stop-color="#07fff8"/><stop offset=".328" stop-color="#00fbff"/><stop offset=".376" stop-color="#00b9ff"/><stop offset=".417" stop-color="#008fff"/><stop offset=".459" stop-color="#0075ff"/><stop offset=".5" stop-color="#006cff"/><stop offset=".541" stop-color="#0076ff"/><stop offset=".583" stop-color="#0092ff"/><stop offset=".631" stop-color="#00c6ff"/><stop offset=".672" stop-color="#02fffd"/><stop offset=".824" stop-color="#feff01"/><stop offset=".879" stop-color="#ffb500"/><stop offset=".921" stop-color="#ff8c00"/><stop offset=".962" stop-color="#ff7300"/><stop offset="1" stop-color="#ff6c00"/></linearGradient><linearGradient id="b33"><stop offset="0" stop-color="#ff7400"/><stop offset=".038" stop-color="#ff7c00"/><stop offset=".079" stop-color="#ff9600"/><stop offset=".128" stop-color="#ffc700"/><stop offset=".169" stop-color="#ffff00"/><stop offset=".259" stop-color="#6eff91"/><stop offset=".328" stop-color="#00ffff"/><stop offset=".383" stop-color="#00b7ff"/><stop offset=".424" stop-color="#0091ff"/><stop offset=".466" stop-color="#007aff"/><stop offset=".507" stop-color="#0075ff"/><stop offset=".548" stop-color="#0081ff"/><stop offset=".59" stop-color="#009fff"/><stop offset=".638" stop-color="#00d4ff"/><stop offset=".666" stop-color="#00faff"/><stop offset=".679" stop-color="#10ffef"/><stop offset=".824" stop-color="#faff05"/><stop offset=".838" stop-color="#fff000"/><stop offset=".886" stop-color="#ffb300"/><stop offset=".928" stop-color="#ff8e00"/><stop offset=".969" stop-color="#ff7900"/><stop offset="1" stop-color="#ff7400"/></linearGradient><linearGradient id="b34"><stop offset="0" stop-color="#ff7c00"/><stop offset=".038" stop-color="#ff8400"/><stop offset=".079" stop-color="#ff9c00"/><stop offset=".128" stop-color="#ffcc00"/><stop offset=".162" stop-color="#fff900"/><stop offset=".169" stop-color="#fbff04"/><stop offset=".266" stop-color="#64ff9b"/><stop offset=".328" stop-color="#04fffb"/><stop offset=".341" stop-color="#00f0ff"/><stop offset=".39" stop-color="#00b6ff"/><stop offset=".431" stop-color="#0093ff"/><stop offset=".472" stop-color="#007fff"/><stop offset=".514" stop-color="#007dff"/><stop offset=".555" stop-color="#008cff"/><stop offset=".597" stop-color="#00acff"/><stop offset=".645" stop-color="#00e2ff"/><stop offset=".666" stop-color="#00feff"/><stop offset=".734" stop-color="#69ff96"/><stop offset=".824" stop-color="#f7ff08"/><stop offset=".831" stop-color="#fffe00"/><stop offset=".886" stop-color="#ffb900"/><stop offset=".934" stop-color="#ff9000"/><stop offset=".976" stop-color="#ff7e00"/><stop offset="1" stop-color="#ff7c00"/></linearGradient><linearGradient id="b35"><stop offset="0" stop-color="#ff8300"/><stop offset=".045" stop-color="#ff8d00"/><stop offset=".086" stop-color="#ffa800"/><stop offset=".134" stop-color="#ffd900"/><stop offset=".162" stop-color="#fffc00"/><stop offset=".197" stop-color="#d0ff2f"/><stop offset=".328" stop-color="#07fff8"/><stop offset=".334" stop-color="#00fdff"/><stop offset=".39" stop-color="#00bbff"/><stop offset=".438" stop-color="#0095ff"/><stop offset=".479" stop-color="#0085ff"/><stop offset=".521" stop-color="#0085ff"/><stop offset=".562" stop-color="#0097ff"/><stop offset=".61" stop-color="#00bfff"/><stop offset=".666" stop-color="#03fffc"/><stop offset=".755" stop-color="#8bff74"/><stop offset=".831" stop-color="#fdff02"/><stop offset=".893" stop-color="#ffb800"/><stop offset=".941" stop-color="#ff9300"/><stop offset=".983" stop-color="#ff8400"/><stop offset="1" stop-color="#ff8300"/></linearGradient><linearGradient id="b36"><stop offset="0" stop-color="#ff8a00"/><stop offset=".045" stop-color="#ff9400"/><stop offset=".093" stop-color="#ffb400"/><stop offset=".141" stop-color="#ffe600"/><stop offset=".162" stop-color="#feff01"/><stop offset=".245" stop-color="#85ff7a"/><stop offset=".328" stop-color="#0bfff4"/><stop offset=".334" stop-color="#02fffd"/><stop offset=".397" stop-color="#00baff"/><stop offset=".445" stop-color="#0098ff"/><stop offset=".486" stop-color="#008bff"/><stop offset=".528" stop-color="#008eff"/><stop offset=".569" stop-color="#00a2ff"/><stop offset=".617" stop-color="#00cbff"/><stop offset=".659" stop-color="#00fcff"/><stop offset=".686" stop-color="#23ffdc"/><stop offset=".824" stop-color="#f0ff0f"/><stop offset=".838" stop-color="#fffb00"/><stop offset=".893" stop-color="#ffbd00"/><stop offset=".941" stop-color="#ff9900"/><stop offset=".983" stop-color="#ff8b00"/><stop offset="1" stop-color="#ff8a00"/></linearGradient><linearGradient id="b37"><stop offset="0" stop-color="#ff9000"/><stop offset=".045" stop-color="#ff9a00"/><stop offset=".093" stop-color="#ffb900"/><stop offset=".141" stop-color="#ffea00"/><stop offset=".155" stop-color="#fffa00"/><stop offset=".169" stop-color="#f2ff0d"/><stop offset=".328" stop-color="#0ffff0"/><stop offset=".341" stop-color="#00fcff"/><stop offset=".397" stop-color="#00c0ff"/><stop offset=".445" stop-color="#009fff"/><stop offset=".486" stop-color="#0092ff"/><stop offset=".528" stop-color="#0095ff"/><stop offset=".569" stop-color="#00a8ff"/><stop offset=".617" stop-color="#00d1ff"/><stop offset=".659" stop-color="#01fffe"/><stop offset=".741" stop-color="#76ff89"/><stop offset=".831" stop-color="#f6ff09"/><stop offset=".838" stop-color="#ffff00"/><stop offset=".893" stop-color="#ffc200"/><stop offset=".941" stop-color="#ff9f00"/><stop offset=".983" stop-color="#ff9100"/><stop offset="1" stop-color="#ff9000"/></linearGradient><linearGradient id="b38"><stop offset="0" stop-color="#ff9700"/><stop offset=".045" stop-color="#ffa000"/><stop offset=".093" stop-color="#ffbe00"/><stop offset=".148" stop-color="#fff600"/><stop offset=".155" stop-color="#fffe00"/><stop offset=".217" stop-color="#adff52"/><stop offset=".328" stop-color="#12ffed"/><stop offset=".341" stop-color="#01fffe"/><stop offset=".397" stop-color="#00c6ff"/><stop offset=".445" stop-color="#00a5ff"/><stop offset=".486" stop-color="#0099ff"/><stop offset=".528" stop-color="#009cff"/><stop offset=".576" stop-color="#00b3ff"/><stop offset=".624" stop-color="#00ddff"/><stop offset=".652" stop-color="#00fcff"/><stop offset=".672" stop-color="#17ffe8"/><stop offset=".831" stop-color="#f3ff0c"/><stop offset=".838" stop-color="#fcff03"/><stop offset=".872" stop-color="#ffdb00"/><stop offset=".921" stop-color="#ffb100"/><stop offset=".969" stop-color="#ff9b00"/><stop offset="1" stop-color="#ff9700"/></linearGradient><linearGradient id="b39"><stop offset="0" stop-color="#ff9d00"/><stop offset=".045" stop-color="#ffa600"/><stop offset=".093" stop-color="#ffc300"/><stop offset=".155" stop-color="#fdff02"/><stop offset=".238" stop-color="#90ff6f"/><stop offset=".328" stop-color="#16ffe9"/><stop offset=".348" stop-color="#00fcff"/><stop offset=".403" stop-color="#00c6ff"/><stop offset=".452" stop-color="#00a9ff"/><stop offset=".493" stop-color="#00a0ff"/><stop offset=".534" stop-color="#00a5ff"/><stop offset=".583" stop-color="#00beff"/><stop offset=".631" stop-color="#00e9ff"/><stop offset=".652" stop-color="#01fffe"/><stop offset=".728" stop-color="#64ff9b"/><stop offset=".831" stop-color="#f1ff0e"/><stop offset=".845" stop-color="#fffd00"/><stop offset=".9" stop-color="#ffc600"/><stop offset=".948" stop-color="#ffa800"/><stop offset=".997" stop-color="#ff9d00"/><stop offset="1" stop-color="#ff9d00"/></linearGradient><linearGradient id="b40"><stop offset="0" stop-color="#ffa300"/><stop offset=".045" stop-color="#ffac00"/><stop offset=".093" stop-color="#ffc800"/><stop offset=".148" stop-color="#fffc00"/><stop offset=".176" stop-color="#e1ff1e"/><stop offset=".334" stop-color="#11ffee"/><stop offset=".348" stop-color="#01fffe"/><stop offset=".41" stop-color="#00c7ff"/><stop offset=".459" stop-color="#00adff"/><stop offset=".507" stop-color="#00a7ff"/><stop offset=".555" stop-color="#00b4ff"/><stop offset=".603" stop-color="#00d4ff"/><stop offset=".645" stop-color="#00fdff"/><stop offset=".679" stop-color="#26ffd9"/><stop offset=".831" stop-color="#eeff11"/><stop offset=".845" stop-color="#feff01"/><stop offset=".9" stop-color="#ffcb00"/><stop offset=".948" stop-color="#ffad00"/><stop offset=".997" stop-color="#ffa300"/><stop offset="1" stop-color="#ffa300"/></linearGradient><linearGradient id="b41"><stop offset="0" stop-color="#ffa800"/><stop offset=".045" stop-color="#ffb100"/><stop offset=".093" stop-color="#ffcc00"/><stop offset=".148" stop-color="#ffff00"/><stop offset=".224" stop-color="#a2ff5d"/><stop offset=".328" stop-color="#1dffe2"/><stop offset=".355" stop-color="#00fdff"/><stop offset=".41" stop-color="#00cdff"/><stop offset=".459" stop-color="#00b4ff"/><stop offset=".507" stop-color="#00aeff"/><stop offset=".555" stop-color="#00bbff"/><stop offset=".603" stop-color="#00daff"/><stop offset=".645" stop-color="#02fffd"/><stop offset=".721" stop-color="#5effa1"/><stop offset=".831" stop-color="#ecff13"/><stop offset=".845" stop-color="#fbff04"/><stop offset=".859" stop-color="#fff400"/><stop offset=".914" stop-color="#ffc500"/><stop offset=".962" stop-color="#ffae00"/><stop offset="1" stop-color="#ffa800"/></linearGradient><linearGradient id="b42"><stop offset="0" stop-color="#ffae00"/><stop offset=".045" stop-color="#ffb600"/><stop offset=".093" stop-color="#ffd100"/><stop offset=".141" stop-color="#fffb00"/><stop offset=".155" stop-color="#f5ff0a"/><stop offset=".245" stop-color="#87ff78"/><stop offset=".334" stop-color="#19ffe6"/><stop offset=".355" stop-color="#03fffc"/><stop offset=".417" stop-color="#00ceff"/><stop offset=".466" stop-color="#00b8ff"/><stop offset=".514" stop-color="#00b5ff"/><stop offset=".562" stop-color="#00c4ff"/><stop offset=".61" stop-color="#00e5ff"/><stop offset=".638" stop-color="#00feff"/><stop offset=".7" stop-color="#45ffba"/><stop offset=".831" stop-color="#e9ff16"/><stop offset=".852" stop-color="#ffff00"/><stop offset=".907" stop-color="#ffce00"/><stop offset=".955" stop-color="#ffb500"/><stop offset="1" stop-color="#ffae00"/></linearGradient><linearGradient id="b43"><stop offset="0" stop-color="#ffb300"/><stop offset=".045" stop-color="#ffbb00"/><stop offset=".093" stop-color="#ffd500"/><stop offset=".141" stop-color="#fffe00"/><stop offset=".203" stop-color="#bbff44"/><stop offset=".328" stop-color="#24ffdb"/><stop offset=".362" stop-color="#00ffff"/><stop offset=".417" stop-color="#00d4ff"/><stop offset=".466" stop-color="#00beff"/><stop offset=".514" stop-color="#00bbff"/><stop offset=".562" stop-color="#00caff"/><stop offset=".61" stop-color="#00eaff"/><stop offset=".631" stop-color="#00fcff"/><stop offset=".652" stop-color="#11ffee"/><stop offset=".734" stop-color="#72ff8d"/><stop offset=".831" stop-color="#e7ff18"/><stop offset=".852" stop-color="#fdff02"/><stop offset=".914" stop-color="#ffce00"/><stop offset=".962" stop-color="#ffb800"/><stop offset="1" stop-color="#ffb300"/></linearGradient><linearGradient id="b44"><stop offset="0" stop-color="#ffb800"/><stop offset=".045" stop-color="#ffc000"/><stop offset=".093" stop-color="#ffd900"/><stop offset=".141" stop-color="#fdff02"/><stop offset=".217" stop-color="#aaff55"/><stop offset=".334" stop-color="#20ffdf"/><stop offset=".369" stop-color="#00fdff"/><stop offset=".424" stop-color="#00d5ff"/><stop offset=".472" stop-color="#00c3ff"/><stop offset=".521" stop-color="#00c2ff"/><stop offset=".569" stop-color="#00d3ff"/><stop offset=".631" stop-color="#01fffe"/><stop offset=".7" stop-color="#4affb5"/><stop offset=".831" stop-color="#e5ff1a"/><stop offset=".859" stop-color="#fffd00"/><stop offset=".914" stop-color="#ffd200"/><stop offset=".962" stop-color="#ffbc00"/><stop offset="1" stop-color="#ffb800"/></linearGradient><linearGradient id="b45"><stop offset="0" stop-color="#ffbc00"/><stop offset=".052" stop-color="#ffc700"/><stop offset=".107" stop-color="#ffe600"/><stop offset=".134" stop-color="#fffd00"/><stop offset=".183" stop-color="#d1ff2e"/><stop offset=".334" stop-color="#23ffdc"/><stop offset=".369" stop-color="#02fffd"/><stop offset=".431" stop-color="#00d7ff"/><stop offset=".479" stop-color="#00c8ff"/><stop offset=".528" stop-color="#00c9ff"/><stop offset=".576" stop-color="#00dcff"/><stop offset=".624" stop-color="#00feff"/><stop offset=".686" stop-color="#3dffc2"/><stop offset=".831" stop-color="#e3ff1c"/><stop offset=".859" stop-color="#feff01"/><stop offset=".921" stop-color="#ffd200"/><stop offset=".969" stop-color="#ffbf00"/><stop offset="1" stop-color="#ffbc00"/></linearGradient><linearGradient id="b46"><stop offset="0" stop-color="#ffc100"/><stop offset=".052" stop-color="#ffcb00"/><stop offset=".107" stop-color="#ffea00"/><stop offset=".134" stop-color="#feff01"/><stop offset=".21" stop-color="#b1ff4e"/><stop offset=".334" stop-color="#26ffd9"/><stop offset=".376" stop-color="#01fffe"/><stop offset=".431" stop-color="#00dcff"/><stop offset=".479" stop-color="#00cdff"/><stop offset=".528" stop-color="#00cfff"/><stop offset=".576" stop-color="#00e1ff"/><stop offset=".617" stop-color="#00fdff"/><stop offset=".659" stop-color="#23ffdc"/><stop offset=".769" stop-color="#9dff62"/><stop offset=".852" stop-color="#f5ff0a"/><stop offset=".866" stop-color="#fffd00"/><stop offset=".921" stop-color="#ffd600"/><stop offset=".969" stop-color="#ffc400"/><stop offset="1" stop-color="#ffc100"/></linearGradient><linearGradient id="b47"><stop offset="0" stop-color="#ffc500"/><stop offset=".052" stop-color="#ffce00"/><stop offset=".107" stop-color="#ffed00"/><stop offset=".134" stop-color="#fcff03"/><stop offset=".21" stop-color="#b1ff4e"/><stop offset=".334" stop-color="#29ffd6"/><stop offset=".383" stop-color="#00ffff"/><stop offset=".438" stop-color="#00deff"/><stop offset=".486" stop-color="#00d2ff"/><stop offset=".534" stop-color="#00d6ff"/><stop offset=".59" stop-color="#00eeff"/><stop offset=".617" stop-color="#02fffd"/><stop offset=".686" stop-color="#42ffbd"/><stop offset=".831" stop-color="#dfff20"/><stop offset=".866" stop-color="#ffff00"/><stop offset=".921" stop-color="#ffd900"/><stop offset=".969" stop-color="#ffc800"/><stop offset="1" stop-color="#ffc500"/></linearGradient><linearGradient id="b48"><stop offset="0" stop-color="#ffc800"/><stop offset=".052" stop-color="#ffd200"/><stop offset=".107" stop-color="#ffef00"/><stop offset=".128" stop-color="#ffff00"/><stop offset=".197" stop-color="#bfff40"/><stop offset=".334" stop-color="#2dffd2"/><stop offset=".39" stop-color="#00feff"/><stop offset=".445" stop-color="#00e0ff"/><stop offset=".493" stop-color="#00d7ff"/><stop offset=".541" stop-color="#00ddff"/><stop offset=".597" stop-color="#00f7ff"/><stop offset=".61" stop-color="#01fffe"/><stop offset=".679" stop-color="#3dffc2"/><stop offset=".838" stop-color="#e4ff1b"/><stop offset=".866" stop-color="#fdff02"/><stop offset=".934" stop-color="#ffd600"/><stop offset=".983" stop-color="#ffc900"/><stop offset="1" stop-color="#ffc800"/></linearGradient><linearGradient id="b49"><stop offset="0" stop-color="#ffcc00"/><stop offset=".052" stop-color="#ffd500"/><stop offset=".107" stop-color="#fff200"/><stop offset=".128" stop-color="#fdff02"/><stop offset=".203" stop-color="#b7ff48"/><stop offset=".334" stop-color="#30ffcf"/><stop offset=".39" stop-color="#03fffc"/><stop offset=".417" stop-color="#00f2ff"/><stop offset=".472" stop-color="#00deff"/><stop offset=".521" stop-color="#00deff"/><stop offset=".576" stop-color="#00f0ff"/><stop offset=".603" stop-color="#01fffe"/><stop offset=".666" stop-color="#33ffcc"/><stop offset=".838" stop-color="#e3ff1c"/><stop offset=".872" stop-color="#fffe00"/><stop offset=".928" stop-color="#ffdc00"/><stop offset=".983" stop-color="#ffcd00"/><stop offset="1" stop-color="#ffcc00"/></linearGradient><linearGradient id="b50"><stop offset="0" stop-color="#ffcf00"/><stop offset=".052" stop-color="#ffd800"/><stop offset=".107" stop-color="#fff400"/><stop offset=".121" stop-color="#fffe00"/><stop offset=".176" stop-color="#d2ff2d"/><stop offset=".341" stop-color="#2dffd2"/><stop offset=".397" stop-color="#03fffc"/><stop offset=".438" stop-color="#00edff"/><stop offset=".493" stop-color="#00e1ff"/><stop offset=".548" stop-color="#00e9ff"/><stop offset=".597" stop-color="#01fffe"/><stop offset=".659" stop-color="#30ffcf"/><stop offset=".838" stop-color="#e2ff1d"/><stop offset=".872" stop-color="#feff01"/><stop offset=".934" stop-color="#ffdc00"/><stop offset=".99" stop-color="#ffcf00"/><stop offset="1" stop-color="#ffcf00"/></linearGradient><linearGradient id="b51"><stop offset="0" stop-color="#ffd200"/><stop offset=".052" stop-color="#ffdb00"/><stop offset=".107" stop-color="#fff700"/><stop offset=".121" stop-color="#feff01"/><stop offset=".197" stop-color="#bdff42"/><stop offset=".334" stop-color="#36ffc9"/><stop offset=".397" stop-color="#07fff8"/><stop offset=".417" stop-color="#00fbff"/><stop offset=".472" stop-color="#00e8ff"/><stop offset=".528" stop-color="#00e9ff"/><stop offset=".59" stop-color="#01fffe"/><stop offset=".652" stop-color="#2dffd2"/><stop offset=".755" stop-color="#91ff6e"/><stop offset=".845" stop-color="#e6ff19"/><stop offset=".879" stop-color="#fffd00"/><stop offset=".934" stop-color="#ffdf00"/><stop offset=".99" stop-color="#ffd300"/><stop offset="1" stop-color="#ffd200"/></linearGradient><linearGradient id="b52"><stop offset="0" stop-color="#ffd600"/><stop offset=".052" stop-color="#ffde00"/><stop offset=".107" stop-color="#fff900"/><stop offset=".121" stop-color="#fcff03"/><stop offset=".197" stop-color="#bdff42"/><stop offset=".334" stop-color="#39ffc6"/><stop offset=".397" stop-color="#0bfff4"/><stop offset=".417" stop-color="#00ffff"/><stop offset=".472" stop-color="#00edff"/><stop offset=".528" stop-color="#00eeff"/><stop offset=".583" stop-color="#02fffd"/><stop offset=".645" stop-color="#2bffd4"/><stop offset=".741" stop-color="#84ff7b"/><stop offset=".845" stop-color="#e5ff1a"/><stop offset=".879" stop-color="#feff01"/><stop offset=".941" stop-color="#ffdf00"/><stop offset=".997" stop-color="#ffd600"/><stop offset="1" stop-color="#ffd600"/></linearGradient><linearGradient id="b53"><stop offset="0" stop-color="#ffd900"/><stop offset=".052" stop-color="#ffe100"/><stop offset=".114" stop-color="#feff01"/><stop offset=".183" stop-color="#c9ff36"/><stop offset=".341" stop-color="#36ffc9"/><stop offset=".403" stop-color="#0bfff4"/><stop offset=".431" stop-color="#00fdff"/><stop offset=".486" stop-color="#00f0ff"/><stop offset=".541" stop-color="#00f5ff"/><stop offset=".576" stop-color="#03fffc"/><stop offset=".638" stop-color="#28ffd7"/><stop offset=".728" stop-color="#77ff88"/><stop offset=".838" stop-color="#deff21"/><stop offset=".886" stop-color="#fffd00"/><stop offset=".941" stop-color="#ffe200"/><stop offset=".997" stop-color="#ffd900"/><stop offset="1" stop-color="#ffd900"/></linearGradient><linearGradient id="b54"><stop offset="0" stop-color="#ffdc00"/><stop offset=".052" stop-color="#ffe400"/><stop offset=".107" stop-color="#fffe00"/><stop offset=".162" stop-color="#d9ff26"/><stop offset=".341" stop-color="#39ffc6"/><stop offset=".403" stop-color="#0ffff0"/><stop offset=".438" stop-color="#00ffff"/><stop offset=".493" stop-color="#00f4ff"/><stop offset=".548" stop-color="#00fcff"/><stop offset=".576" stop-color="#07fff8"/><stop offset=".638" stop-color="#2cffd3"/><stop offset=".728" stop-color="#78ff87"/><stop offset=".838" stop-color="#dcff23"/><stop offset=".886" stop-color="#feff01"/><stop offset=".948" stop-color="#ffe300"/><stop offset="1" stop-color="#ffdc00"/></linearGradient><linearGradient id="b55"><stop offset="0" stop-color="#ffe000"/><stop offset=".059" stop-color="#ffea00"/><stop offset=".107" stop-color="#feff01"/><stop offset=".176" stop-color="#ccff33"/><stop offset=".341" stop-color="#3bffc4"/><stop offset=".41" stop-color="#0ffff0"/><stop offset=".452" stop-color="#00ffff"/><stop offset=".507" stop-color="#00f9ff"/><stop offset=".555" stop-color="#03fffc"/><stop offset=".617" stop-color="#21ffde"/><stop offset=".693" stop-color="#5affa5"/><stop offset=".838" stop-color="#daff25"/><stop offset=".893" stop-color="#fffe00"/><stop offset=".955" stop-color="#ffe500"/><stop offset="1" stop-color="#ffe000"/></linearGradient><linearGradient id="b56"><stop offset="0" stop-color="#ffe300"/><stop offset=".059" stop-color="#ffed00"/><stop offset=".1" stop-color="#ffff00"/><stop offset=".169" stop-color="#d0ff2f"/><stop offset=".341" stop-color="#3effc1"/><stop offset=".41" stop-color="#13ffec"/><stop offset=".466" stop-color="#01fffe"/><stop offset=".541" stop-color="#03fffc"/><stop offset=".603" stop-color="#1cffe3"/><stop offset=".672" stop-color="#4bffb4"/><stop offset=".845" stop-color="#deff21"/><stop offset=".9" stop-color="#fffe00"/><stop offset=".962" stop-color="#ffe700"/><stop offset="1" stop-color="#ffe300"/></linearGradient><linearGradient id="b57"><stop offset="0" stop-color="#ffe800"/><stop offset=".059" stop-color="#fff100"/><stop offset=".093" stop-color="#ffff00"/><stop offset=".162" stop-color="#d4ff2b"/><stop offset=".348" stop-color="#3bffc4"/><stop offset=".417" stop-color="#14ffeb"/><stop offset=".479" stop-color="#03fffc"/><stop offset=".534" stop-color="#06fff9"/><stop offset=".597" stop-color="#1cffe3"/><stop offset=".666" stop-color="#48ffb7"/><stop offset=".845" stop-color="#dbff24"/><stop offset=".9" stop-color="#fdff02"/><stop offset=".969" stop-color="#ffea00"/><stop offset="1" stop-color="#ffe700"/></linearGradient><linearGradient id="b58"><stop offset="0" stop-color="#ffec00"/><stop offset=".059" stop-color="#fff500"/><stop offset=".093" stop-color="#fbff04"/><stop offset=".162" stop-color="#d2ff2d"/><stop offset=".348" stop-color="#3dffc2"/><stop offset=".417" stop-color="#17ffe8"/><stop offset=".479" stop-color="#07fff8"/><stop offset=".534" stop-color="#0afff5"/><stop offset=".597" stop-color="#1fffe0"/><stop offset=".672" stop-color="#4fffb0"/><stop offset=".845" stop-color="#d9ff26"/><stop offset=".907" stop-color="#fdff02"/><stop offset=".976" stop-color="#ffed00"/><stop offset="1" stop-color="#ffec00"/></linearGradient><linearGradient id="b59"><stop offset="0" stop-color="#fff000"/><stop offset=".059" stop-color="#fff900"/><stop offset=".086" stop-color="#fbff04"/><stop offset=".155" stop-color="#d4ff2b"/><stop offset=".348" stop-color="#40ffbf"/><stop offset=".417" stop-color="#1bffe4"/><stop offset=".479" stop-color="#0bfff4"/><stop offset=".541" stop-color="#0ffff0"/><stop offset=".603" stop-color="#26ffd9"/><stop offset=".679" stop-color="#56ffa9"/><stop offset=".845" stop-color="#d6ff29"/><stop offset=".914" stop-color="#fcff03"/><stop offset=".99" stop-color="#fff000"/><stop offset="1" stop-color="#fff000"/></linearGradient><linearGradient id="b60"><stop offset="0" stop-color="#fff400"/><stop offset=".059" stop-color="#fffd00"/><stop offset=".107" stop-color="#eeff11"/><stop offset=".19" stop-color="#b9ff46"/><stop offset=".341" stop-color="#47ffb8"/><stop offset=".41" stop-color="#21ffde"/><stop offset=".472" stop-color="#10ffef"/><stop offset=".534" stop-color="#12ffed"/><stop offset=".597" stop-color="#26ffd9"/><stop offset=".672" stop-color="#52ffad"/><stop offset=".845" stop-color="#d4ff2b"/><stop offset=".914" stop-color="#f9ff06"/><stop offset=".941" stop-color="#fffc00"/><stop offset="1" stop-color="#fff400"/></linearGradient><linearGradient id="b61"><stop offset="0" stop-color="#fff900"/><stop offset=".059" stop-color="#fdff02"/><stop offset=".128" stop-color="#e0ff1f"/><stop offset=".224" stop-color="#9eff61"/><stop offset=".348" stop-color="#45ffba"/><stop offset=".417" stop-color="#22ffdd"/><stop offset=".479" stop-color="#13ffec"/><stop offset=".541" stop-color="#17ffe8"/><stop offset=".603" stop-color="#2cffd3"/><stop offset=".686" stop-color="#5effa1"/><stop offset=".845" stop-color="#d1ff2e"/><stop offset=".914" stop-color="#f5ff0a"/><stop offset=".955" stop-color="#fffd00"/><stop offset="1" stop-color="#fff900"/></linearGradient><linearGradient id="b62"><stop offset="0" stop-color="#fffd00"/><stop offset=".052" stop-color="#faff05"/><stop offset=".121" stop-color="#e0ff1f"/><stop offset=".21" stop-color="#a8ff57"/><stop offset=".348" stop-color="#47ffb8"/><stop offset=".417" stop-color="#26ffd9"/><stop offset=".479" stop-color="#17ffe8"/><stop offset=".541" stop-color="#1bffe4"/><stop offset=".61" stop-color="#33ffcc"/><stop offset=".693" stop-color="#64ff9b"/><stop offset=".845" stop-color="#cfff30"/><stop offset=".921" stop-color="#f3ff0c"/><stop offset=".976" stop-color="#fffe00"/><stop offset="1" stop-color="#fffd00"/></linearGradient><linearGradient id="b63"><stop offset="0" stop-color="#fcff03"/><stop offset=".066" stop-color="#f3ff0c"/><stop offset=".134" stop-color="#d6ff29"/><stop offset=".245" stop-color="#8eff71"/><stop offset=".355" stop-color="#45ffba"/><stop offset=".424" stop-color="#27ffd8"/><stop offset=".486" stop-color="#1bffe4"/><stop offset=".548" stop-color="#20ffdf"/><stop offset=".617" stop-color="#39ffc6"/><stop offset=".707" stop-color="#6fff90"/><stop offset=".852" stop-color="#d0ff2f"/><stop offset=".928" stop-color="#f2ff0d"/><stop offset=".99" stop-color="#fcff03"/><stop offset="1" stop-color="#fcff03"/></linearGradient><linearGradient id="b64"><stop offset="0" stop-color="#f8ff07"/><stop offset=".066" stop-color="#efff10"/><stop offset=".141" stop-color="#cfff30"/><stop offset=".272" stop-color="#7bff84"/><stop offset=".369" stop-color="#41ffbe"/><stop offset=".438" stop-color="#26ffd9"/><stop offset=".5" stop-color="#1fffe0"/><stop offset=".569" stop-color="#29ffd6"/><stop offset=".645" stop-color="#4affb5"/><stop offset=".859" stop-color="#d1ff2e"/><stop offset=".934" stop-color="#f0ff0f"/><stop offset="1" stop-color="#f8ff07"/></linearGradient><linearGradient id="b65"><stop offset="0" stop-color="#f4ff0b"/><stop offset=".066" stop-color="#ebff14"/><stop offset=".141" stop-color="#ccff33"/><stop offset=".279" stop-color="#77ff88"/><stop offset=".376" stop-color="#40ffbf"/><stop offset=".445" stop-color="#29ffd6"/><stop offset=".514" stop-color="#23ffdc"/><stop offset=".583" stop-color="#31ffce"/><stop offset=".666" stop-color="#57ffa8"/><stop offset=".852" stop-color="#cbff34"/><stop offset=".928" stop-color="#eaff15"/><stop offset=".997" stop-color="#f4ff0b"/><stop offset="1" stop-color="#f4ff0b"/></linearGradient><linearGradient id="b66"><stop offset="0" stop-color="#efff10"/><stop offset=".066" stop-color="#e7ff18"/><stop offset=".141" stop-color="#caff35"/><stop offset=".362" stop-color="#49ffb6"/><stop offset=".438" stop-color="#2effd1"/><stop offset=".507" stop-color="#27ffd8"/><stop offset=".576" stop-color="#32ffcd"/><stop offset=".659" stop-color="#55ffaa"/><stop offset=".859" stop-color="#cbff34"/><stop offset=".934" stop-color="#e8ff17"/><stop offset="1" stop-color="#efff10"/></linearGradient><linearGradient id="b67"><stop offset="0" stop-color="#ebff14"/><stop offset=".072" stop-color="#e1ff1e"/><stop offset=".155" stop-color="#c0ff3f"/><stop offset=".355" stop-color="#4fffb0"/><stop offset=".431" stop-color="#33ffcc"/><stop offset=".5" stop-color="#2affd5"/><stop offset=".569" stop-color="#34ffcb"/><stop offset=".652" stop-color="#54ffab"/><stop offset=".859" stop-color="#c9ff36"/><stop offset=".934" stop-color="#e4ff1b"/><stop offset="1" stop-color="#ebff14"/></linearGradient><linearGradient id="b68"><stop offset="0" stop-color="#e7ff18"/><stop offset=".072" stop-color="#deff21"/><stop offset=".155" stop-color="#beff41"/><stop offset=".362" stop-color="#4effb1"/><stop offset=".438" stop-color="#35ffca"/><stop offset=".507" stop-color="#2effd1"/><stop offset=".583" stop-color="#3bffc4"/><stop offset=".666" stop-color="#5dffa2"/><stop offset=".859" stop-color="#c6ff39"/><stop offset=".934" stop-color="#e0ff1f"/><stop offset="1" stop-color="#e7ff18"/></linearGradient><linearGradient id="b69"><stop offset="0" stop-color="#e3ff1c"/><stop offset=".072" stop-color="#daff25"/><stop offset=".155" stop-color="#bcff43"/><stop offset=".362" stop-color="#50ffaf"/><stop offset=".445" stop-color="#36ffc9"/><stop offset=".521" stop-color="#32ffcd"/><stop offset=".597" stop-color="#42ffbd"/><stop offset=".693" stop-color="#6cff93"/><stop offset=".859" stop-color="#c3ff3c"/><stop offset=".941" stop-color="#deff21"/><stop offset="1" stop-color="#e3ff1c"/></linearGradient><linearGradient id="b70"><stop offset="0" stop-color="#e0ff1f"/><stop offset=".072" stop-color="#d7ff28"/><stop offset=".162" stop-color="#b6ff49"/><stop offset=".362" stop-color="#52ffad"/><stop offset=".445" stop-color="#39ffc6"/><stop offset=".521" stop-color="#35ffca"/><stop offset=".597" stop-color="#44ffbb"/><stop offset=".693" stop-color="#6dff92"/><stop offset=".859" stop-color="#c1ff3e"/><stop offset=".941" stop-color="#daff25"/><stop offset="1" stop-color="#e0ff1f"/></linearGradient><linearGradient id="b71"><stop offset="0" stop-color="#dcff23"/><stop offset=".079" stop-color="#d2ff2d"/><stop offset=".169" stop-color="#b1ff4e"/><stop offset=".362" stop-color="#54ffab"/><stop offset=".445" stop-color="#3cffc3"/><stop offset=".521" stop-color="#39ffc6"/><stop offset=".597" stop-color="#47ffb8"/><stop offset=".693" stop-color="#6eff91"/><stop offset=".859" stop-color="#bfff40"/><stop offset=".941" stop-color="#d7ff28"/><stop offset="1" stop-color="#dcff23"/></linearGradient><linearGradient id="b72"><stop offset="0" stop-color="#d9ff26"/><stop offset=".079" stop-color="#cfff30"/><stop offset=".176" stop-color="#adff52"/><stop offset=".362" stop-color="#56ffa9"/><stop offset=".445" stop-color="#3fffc0"/><stop offset=".521" stop-color="#3bffc4"/><stop offset=".603" stop-color="#4bffb4"/><stop offset=".707" stop-color="#76ff89"/><stop offset=".859" stop-color="#bdff42"/><stop offset=".941" stop-color="#d4ff2b"/><stop offset="1" stop-color="#d9ff26"/></linearGradient><linearGradient id="b73"><stop offset="0" stop-color="#d6ff29"/><stop offset=".079" stop-color="#ccff33"/><stop offset=".176" stop-color="#abff54"/><stop offset=".362" stop-color="#58ffa7"/><stop offset=".445" stop-color="#42ffbd"/><stop offset=".521" stop-color="#3effc1"/><stop offset=".603" stop-color="#4dffb2"/><stop offset=".714" stop-color="#79ff86"/><stop offset=".866" stop-color="#bdff42"/><stop offset=".948" stop-color="#d2ff2d"/><stop offset="1" stop-color="#d6ff29"/></linearGradient><linearGradient id="b74"><stop offset="0" stop-color="#d3ff2c"/><stop offset=".079" stop-color="#caff35"/><stop offset=".176" stop-color="#aaff55"/><stop offset=".362" stop-color="#59ffa6"/><stop offset=".452" stop-color="#43ffbc"/><stop offset=".534" stop-color="#42ffbd"/><stop offset=".617" stop-color="#54ffab"/><stop offset=".741" stop-color="#86ff79"/><stop offset=".872" stop-color="#bdff42"/><stop offset=".955" stop-color="#d1ff2e"/><stop offset="1" stop-color="#d3ff2c"/></linearGradient><linearGradient id="b75"><stop offset="0" stop-color="#d0ff2f"/><stop offset=".079" stop-color="#c8ff37"/><stop offset=".176" stop-color="#a9ff56"/><stop offset=".369" stop-color="#59ffa6"/><stop offset=".459" stop-color="#45ffba"/><stop offset=".541" stop-color="#45ffba"/><stop offset=".631" stop-color="#5affa5"/><stop offset=".872" stop-color="#bbff44"/><stop offset=".962" stop-color="#cfff30"/><stop offset="1" stop-color="#d0ff2f"/></linearGradient><linearGradient id="b76"><stop offset="0" stop-color="#ceff31"/><stop offset=".086" stop-color="#c4ff3b"/><stop offset=".19" stop-color="#a2ff5d"/><stop offset=".369" stop-color="#5affa5"/><stop offset=".459" stop-color="#47ffb8"/><stop offset=".541" stop-color="#47ffb8"/><stop offset=".631" stop-color="#5bffa4"/><stop offset=".872" stop-color="#b9ff46"/><stop offset=".962" stop-color="#ccff33"/><stop offset="1" stop-color="#ceff31"/></linearGradient><linearGradient id="b77"><stop offset="0" stop-color="#cbff34"/><stop offset=".086" stop-color="#c1ff3e"/><stop offset=".197" stop-color="#9eff61"/><stop offset=".369" stop-color="#5cffa3"/><stop offset=".459" stop-color="#49ffb6"/><stop offset=".541" stop-color="#4affb5"/><stop offset=".631" stop-color="#5dffa2"/><stop offset=".872" stop-color="#b8ff47"/><stop offset=".962" stop-color="#c9ff36"/><stop offset="1" stop-color="#cbff34"/></linearGradient><linearGradient id="b78"><stop offset="0" stop-color="#c8ff37"/><stop offset=".086" stop-color="#bfff40"/><stop offset=".197" stop-color="#9dff62"/><stop offset=".369" stop-color="#5dffa2"/><stop offset=".459" stop-color="#4bffb4"/><stop offset=".548" stop-color="#4dffb2"/><stop offset=".645" stop-color="#63ff9c"/><stop offset=".872" stop-color="#b6ff49"/><stop offset=".962" stop-color="#c7ff38"/><stop offset="1" stop-color="#c8ff37"/></linearGradient><linearGradient id="b79"><stop offset="0" stop-color="#c6ff39"/><stop offset=".093" stop-color="#bbff44"/><stop offset=".21" stop-color="#97ff68"/><stop offset=".376" stop-color="#5dffa2"/><stop offset=".472" stop-color="#4cffb3"/><stop offset=".562" stop-color="#51ffae"/><stop offset=".666" stop-color="#6aff95"/><stop offset=".872" stop-color="#b4ff4b"/><stop offset=".969" stop-color="#c5ff3a"/><stop offset="1" stop-color="#c6ff39"/></linearGradient><linearGradient id="b80"><stop offset="0" stop-color="#c3ff3c"/><stop offset=".093" stop-color="#b9ff46"/><stop offset=".217" stop-color="#94ff6b"/><stop offset=".376" stop-color="#5effa1"/><stop offset=".472" stop-color="#4fffb0"/><stop offset=".562" stop-color="#53ffac"/><stop offset=".666" stop-color="#6bff94"/><stop offset=".872" stop-color="#b2ff4d"/><stop offset=".969" stop-color="#c2ff3d"/><stop offset="1" stop-color="#c3ff3c"/></linearGradient><linearGradient id="b81"><stop offset="0" stop-color="#c1ff3e"/><stop offset=".093" stop-color="#b7ff48"/><stop offset=".217" stop-color="#94ff6b"/><stop offset=".376" stop-color="#60ff9f"/><stop offset=".472" stop-color="#51ffae"/><stop offset=".562" stop-color="#54ffab"/><stop offset=".672" stop-color="#6fff90"/><stop offset=".872" stop-color="#b0ff4f"/><stop offset=".969" stop-color="#c0ff3f"/><stop offset="1" stop-color="#c1ff3e"/></linearGradient><linearGradient id="b82"><stop offset="0" stop-color="#bfff40"/><stop offset=".093" stop-color="#b5ff4a"/><stop offset=".224" stop-color="#91ff6e"/><stop offset=".383" stop-color="#60ff9f"/><stop offset=".479" stop-color="#52ffad"/><stop offset=".576" stop-color="#58ffa7"/><stop offset=".693" stop-color="#76ff89"/><stop offset=".879" stop-color="#b0ff4f"/><stop offset=".976" stop-color="#beff41"/><stop offset="1" stop-color="#bfff40"/></linearGradient><linearGradient id="b83"><stop offset="0" stop-color="#bdff42"/><stop offset=".1" stop-color="#b2ff4d"/><stop offset=".238" stop-color="#8cff73"/><stop offset=".39" stop-color="#60ff9f"/><stop offset=".486" stop-color="#54ffab"/><stop offset=".583" stop-color="#5bffa4"/><stop offset=".707" stop-color="#7bff84"/><stop offset=".879" stop-color="#afff50"/><stop offset=".976" stop-color="#bcff43"/><stop offset="1" stop-color="#bdff42"/></linearGradient><linearGradient id="b84"><stop offset="0" stop-color="#baff45"/><stop offset=".1" stop-color="#b1ff4e"/><stop offset=".245" stop-color="#89ff76"/><stop offset=".39" stop-color="#61ff9e"/><stop offset=".493" stop-color="#56ffa9"/><stop offset=".59" stop-color="#5effa1"/><stop offset=".721" stop-color="#7fff80"/><stop offset=".886" stop-color="#afff50"/><stop offset=".99" stop-color="#baff45"/><stop offset="1" stop-color="#baff45"/></linearGradient><linearGradient id="b85"><stop offset="0" stop-color="#b8ff47"/><stop offset=".1" stop-color="#afff50"/><stop offset=".252" stop-color="#87ff78"/><stop offset=".397" stop-color="#61ff9e"/><stop offset=".5" stop-color="#57ffa8"/><stop offset=".603" stop-color="#62ff9d"/><stop offset=".762" stop-color="#8cff73"/><stop offset=".9" stop-color="#b0ff4f"/><stop offset="1" stop-color="#b8ff47"/></linearGradient><linearGradient id="b86"><stop offset="0" stop-color="#b7ff48"/><stop offset=".107" stop-color="#acff53"/><stop offset=".286" stop-color="#7dff82"/><stop offset=".417" stop-color="#5fffa0"/><stop offset=".521" stop-color="#59ffa6"/><stop offset=".631" stop-color="#68ff97"/><stop offset=".886" stop-color="#abff54"/><stop offset=".99" stop-color="#b6ff49"/><stop offset="1" stop-color="#b7ff48"/></linearGradient><linearGradient id="b87"><stop offset="0" stop-color="#b5ff4a"/><stop offset=".107" stop-color="#abff54"/><stop offset=".3" stop-color="#79ff86"/><stop offset=".424" stop-color="#5fffa0"/><stop offset=".528" stop-color="#5bffa4"/><stop offset=".638" stop-color="#6bff94"/><stop offset=".886" stop-color="#aaff55"/><stop offset=".99" stop-color="#b5ff4a"/><stop offset="1" stop-color="#b5ff4a"/></linearGradient><linearGradient id="b88"><stop offset="0" stop-color="#b3ff4c"/><stop offset=".107" stop-color="#a9ff56"/><stop offset=".397" stop-color="#64ff9b"/><stop offset=".507" stop-color="#5cffa3"/><stop offset=".617" stop-color="#67ff98"/><stop offset=".893" stop-color="#aaff55"/><stop offset="1" stop-color="#b3ff4c"/></linearGradient><linearGradient id="b89"><stop offset="0" stop-color="#b2ff4d"/><stop offset=".107" stop-color="#a8ff57"/><stop offset=".397" stop-color="#65ff9a"/><stop offset=".507" stop-color="#5dffa2"/><stop offset=".617" stop-color="#68ff97"/><stop offset=".893" stop-color="#a9ff56"/><stop offset="1" stop-color="#b2ff4d"/></linearGradient><linearGradient id="b90"><stop offset="0" stop-color="#b0ff4f"/><stop offset=".114" stop-color="#a6ff59"/><stop offset=".397" stop-color="#66ff99"/><stop offset=".507" stop-color="#5effa1"/><stop offset=".617" stop-color="#69ff96"/><stop offset=".9" stop-color="#a9ff56"/><stop offset="1" stop-color="#b0ff4f"/></linearGradient><linearGradient id="c0"><stop offset="0" stop-color="#7fff80"/><stop offset=".279" stop-color="#8dff72"/><stop offset=".769" stop-color="#72ff8d"/><stop offset="1" stop-color="#7fff80"/></linearGradient><linearGradient id="c1"><stop offset="0" stop-color="#7fff80"/><stop offset=".072" stop-color="#89ff76"/><stop offset=".21" stop-color="#abff54"/><stop offset=".286" stop-color="#adff52"/><stop offset=".383" stop-color="#9aff65"/><stop offset=".486" stop-color="#81ff7e"/><stop offset=".569" stop-color="#77ff88"/><stop offset=".714" stop-color="#54ffab"/><stop offset=".79" stop-color="#52ffad"/><stop offset=".886" stop-color="#66ff99"/><stop offset=".99" stop-color="#7eff81"/><stop offset="1" stop-color="#7fff80"/></linearGradient><linearGradient id="c2"><stop offset="0" stop-color="#7fff80"/><stop offset=".052" stop-color="#88ff77"/><stop offset=".197" stop-color="#c6ff39"/><stop offset=".259" stop-color="#d0ff2f"/><stop offset=".321" stop-color="#c7ff38"/><stop offset=".417" stop-color="#9eff61"/><stop offset=".486" stop-color="#83ff7c"/><stop offset=".548" stop-color="#78ff87"/><stop offset=".693" stop-color="#39ffc6"/><stop offset=".755" stop-color="#2fffd0"/><stop offset=".817" stop-color="#36ffc9"/><stop offset=".9" stop-color="#58ffa7"/><stop offset=".983" stop-color="#7bff84"/><stop offset="1" stop-color="#7eff81"/></linearGradient><linearGradient id="c3"><stop offset="0" stop-color="#7fff80"/><stop offset=".038" stop-color="#86ff79"/><stop offset=".1" stop-color="#aaff55"/><stop offset=".183" stop-color="#dfff20"/><stop offset=".238" stop-color="#f1ff0e"/><stop offset=".286" stop-color="#f0ff0f"/><stop offset=".341" stop-color="#dcff23"/><stop offset=".472" stop-color="#8aff75"/><stop offset=".514" stop-color="#7fff80"/><stop offset=".555" stop-color="#70ff8f"/><stop offset=".679" stop-color="#21ffde"/><stop offset=".734" stop-color="#0ffff0"/><stop offset=".783" stop-color="#0efff1"/><stop offset=".838" stop-color="#20ffdf"/><stop offset=".921" stop-color="#54ffab"/><stop offset=".983" stop-color="#79ff86"/><stop offset="1" stop-color="#7dff82"/></linearGradient><linearGradient id="c4"><stop offset="0" stop-color="#7fff80"/><stop offset=".031" stop-color="#85ff7a"/><stop offset=".079" stop-color="#a7ff58"/><stop offset=".169" stop-color="#f4ff0b"/><stop offset=".19" stop-color="#fffc00"/><stop offset=".238" stop-color="#ffe900"/><stop offset=".279" stop-color="#ffe800"/><stop offset=".328" stop-color="#fffb00"/><stop offset=".341" stop-color="#fbff04"/><stop offset=".417" stop-color="#bbff44"/><stop offset=".472" stop-color="#8eff71"/><stop offset=".507" stop-color="#80ff7f"/><stop offset=".534" stop-color="#78ff87"/><stop offset=".583" stop-color="#53ffac"/><stop offset=".666" stop-color="#0bfff4"/><stop offset=".686" stop-color="#00fdff"/><stop offset=".734" stop-color="#00e9ff"/><stop offset=".783" stop-color="#00e9ff"/><stop offset=".831" stop-color="#00fbff"/><stop offset=".845" stop-color="#05fffa"/><stop offset=".914" stop-color="#3effc1"/><stop offset=".976" stop-color="#72ff8d"/><stop offset="1" stop-color="#7dff82"/></linearGradient><linearGradient id="c5"><stop offset="0" stop-color="#7eff81"/><stop offset=".031" stop-color="#87ff78"/><stop offset=".072" stop-color="#aaff55"/><stop offset=".148" stop-color="#fdff02"/><stop offset=".203" stop-color="#ffd400"/><stop offset=".245" stop-color="#ffc400"/><stop offset=".286" stop-color="#ffc700"/><stop offset=".328" stop-color="#ffdb00"/><stop offset=".369" stop-color="#fffe00"/><stop offset=".466" stop-color="#99ff66"/><stop offset=".5" stop-color="#82ff7d"/><stop offset=".528" stop-color="#79ff86"/><stop offset=".569" stop-color="#56ffa9"/><stop offset=".645" stop-color="#02fffd"/><stop offset=".7" stop-color="#00d4ff"/><stop offset=".741" stop-color="#00c5ff"/><stop offset=".783" stop-color="#00c6ff"/><stop offset=".824" stop-color="#00d7ff"/><stop offset=".872" stop-color="#00feff"/><stop offset=".969" stop-color="#68ff97"/><stop offset=".997" stop-color="#7bff84"/><stop offset="1" stop-color="#7bff84"/></linearGradient><linearGradient id="c6"><stop offset="0" stop-color="#7eff81"/><stop offset=".024" stop-color="#85ff7a"/><stop offset=".059" stop-color="#a3ff5c"/><stop offset=".134" stop-color="#fffc00"/><stop offset=".183" stop-color="#ffc900"/><stop offset=".224" stop-color="#ffaf00"/><stop offset=".266" stop-color="#ffa800"/><stop offset=".307" stop-color="#ffb400"/><stop offset=".348" stop-color="#ffd400"/><stop offset=".39" stop-color="#fcff03"/><stop offset=".466" stop-color="#9eff61"/><stop offset=".5" stop-color="#82ff7d"/><stop offset=".528" stop-color="#78ff87"/><stop offset=".562" stop-color="#56ffa9"/><stop offset=".624" stop-color="#05fffa"/><stop offset=".631" stop-color="#00fcff"/><stop offset=".679" stop-color="#00c9ff"/><stop offset=".721" stop-color="#00afff"/><stop offset=".762" stop-color="#00a7ff"/><stop offset=".803" stop-color="#00b1ff"/><stop offset=".845" stop-color="#00cdff"/><stop offset=".893" stop-color="#02fffd"/><stop offset=".969" stop-color="#63ff9c"/><stop offset=".997" stop-color="#7aff85"/><stop offset="1" stop-color="#7aff85"/></linearGradient><linearGradient id="c7"><stop offset="0" stop-color="#7eff81"/><stop offset=".024" stop-color="#86ff79"/><stop offset=".059" stop-color="#a8ff57"/><stop offset=".121" stop-color="#ffff00"/><stop offset=".169" stop-color="#ffc200"/><stop offset=".21" stop-color="#ff9f00"/><stop offset=".245" stop-color="#ff9100"/><stop offset=".279" stop-color="#ff9200"/><stop offset=".314" stop-color="#ffa200"/><stop offset=".355" stop-color="#ffc700"/><stop offset=".397" stop-color="#fffb00"/><stop offset=".41" stop-color="#efff10"/><stop offset=".466" stop-color="#a3ff5c"/><stop offset=".493" stop-color="#88ff77"/><stop offset=".528" stop-color="#76ff89"/><stop offset=".562" stop-color="#4fffb0"/><stop offset=".617" stop-color="#00feff"/><stop offset=".666" stop-color="#00c1ff"/><stop offset=".707" stop-color="#009fff"/><stop offset=".748" stop-color="#0090ff"/><stop offset=".79" stop-color="#0094ff"/><stop offset=".831" stop-color="#00acff"/><stop offset=".872" stop-color="#00d5ff"/><stop offset=".9" stop-color="#00faff"/><stop offset=".907" stop-color="#05fffa"/><stop offset=".969" stop-color="#5effa1"/><stop offset=".997" stop-color="#79ff86"/><stop offset="1" stop-color="#79ff86"/></linearGradient><linearGradient id="c8"><stop offset="0" stop-color="#7dff82"/><stop offset=".024" stop-color="#87ff78"/><stop offset=".052" stop-color="#a5ff5a"/><stop offset=".107" stop-color="#f8ff07"/><stop offset=".114" stop-color="#fffb00"/><stop offset=".162" stop-color="#ffb700"/><stop offset=".203" stop-color="#ff8f00"/><stop offset=".238" stop-color="#ff7d00"/><stop offset=".272" stop-color="#ff7b00"/><stop offset=".307" stop-color="#ff8800"/><stop offset=".341" stop-color="#ffa500"/><stop offset=".383" stop-color="#ffd900"/><stop offset=".41" stop-color="#fcff03"/><stop offset=".472" stop-color="#9fff60"/><stop offset=".5" stop-color="#84ff7b"/><stop offset=".528" stop-color="#74ff8b"/><stop offset=".562" stop-color="#48ffb7"/><stop offset=".603" stop-color="#06fff9"/><stop offset=".61" stop-color="#00faff"/><stop offset=".659" stop-color="#00b6ff"/><stop offset=".693" stop-color="#0094ff"/><stop offset=".728" stop-color="#0080ff"/><stop offset=".769" stop-color="#007aff"/><stop offset=".81" stop-color="#0088ff"/><stop offset=".845" stop-color="#00a4ff"/><stop offset=".886" stop-color="#00d6ff"/><stop offset=".914" stop-color="#02fffd"/><stop offset=".969" stop-color="#59ffa6"/><stop offset=".997" stop-color="#78ff87"/><stop offset="1" stop-color="#78ff87"/></linearGradient><linearGradient id="c9"><stop offset="0" stop-color="#7dff82"/><stop offset=".024" stop-color="#88ff77"/><stop offset=".052" stop-color="#a9ff56"/><stop offset=".1" stop-color="#f8ff07"/><stop offset=".107" stop-color="#fffa00"/><stop offset=".155" stop-color="#ffb000"/><stop offset=".19" stop-color="#ff8700"/><stop offset=".224" stop-color="#ff6e00"/><stop offset=".259" stop-color="#ff6600"/><stop offset=".293" stop-color="#ff6d00"/><stop offset=".328" stop-color="#ff8500"/><stop offset=".369" stop-color="#ffb500"/><stop offset=".417" stop-color="#fcff03"/><stop offset=".472" stop-color="#a3ff5c"/><stop offset=".5" stop-color="#84ff7b"/><stop offset=".521" stop-color="#79ff86"/><stop offset=".548" stop-color="#58ffa7"/><stop offset=".597" stop-color="#05fffa"/><stop offset=".603" stop-color="#00f8ff"/><stop offset=".645" stop-color="#00b6ff"/><stop offset=".679" stop-color="#008dff"/><stop offset=".714" stop-color="#0072ff"/><stop offset=".748" stop-color="#0066ff"/><stop offset=".783" stop-color="#0069ff"/><stop offset=".817" stop-color="#0079ff"/><stop offset=".852" stop-color="#0099ff"/><stop offset=".893" stop-color="#00d1ff"/><stop offset=".921" stop-color="#01fffe"/><stop offset=".976" stop-color="#5effa1"/><stop offset=".997" stop-color="#77ff88"/><stop offset="1" stop-color="#77ff88"/></linearGradient><linearGradient id="c10"><stop offset="0" stop-color="#7cff83"/><stop offset=".024" stop-color="#89ff76"/><stop offset=".052" stop-color="#aeff51"/><stop offset=".093" stop-color="#f6ff09"/><stop offset=".1" stop-color="#fffc00"/><stop offset=".148" stop-color="#ffaa00"/><stop offset=".183" stop-color="#ff7d00"/><stop offset=".217" stop-color="#ff6000"/><stop offset=".252" stop-color="#ff5400"/><stop offset=".286" stop-color="#ff5800"/><stop offset=".321" stop-color="#ff6d00"/><stop offset=".355" stop-color="#ff9300"/><stop offset=".397" stop-color="#ffd200"/><stop offset=".417" stop-color="#fff700"/><stop offset=".424" stop-color="#fbff04"/><stop offset=".472" stop-color="#a7ff58"/><stop offset=".5" stop-color="#85ff7a"/><stop offset=".521" stop-color="#79ff86"/><stop offset=".548" stop-color="#53ffac"/><stop offset=".59" stop-color="#07fff8"/><stop offset=".597" stop-color="#00f9ff"/><stop offset=".638" stop-color="#00b1ff"/><stop offset=".672" stop-color="#0083ff"/><stop offset=".707" stop-color="#0064ff"/><stop offset=".741" stop-color="#0055ff"/><stop offset=".776" stop-color="#0055ff"/><stop offset=".81" stop-color="#0062ff"/><stop offset=".845" stop-color="#0080ff"/><stop offset=".879" stop-color="#00adff"/><stop offset=".928" stop-color="#02fffd"/><stop offset=".976" stop-color="#5affa5"/><stop offset=".997" stop-color="#76ff89"/><stop offset="1" stop-color="#76ff89"/></linearGradient><linearGradient id="c11"><stop offset="0" stop-color="#7cff83"/><stop offset=".017" stop-color="#84ff7b"/><stop offset=".038" stop-color="#9cff63"/><stop offset=".079" stop-color="#e5ff1a"/><stop offset=".093" stop-color="#ffff00"/><stop offset=".141" stop-color="#ffa700"/><stop offset=".176" stop-color="#ff7500"/><stop offset=".21" stop-color="#ff5400"/><stop offset=".245" stop-color="#ff4300"/><stop offset=".279" stop-color="#ff4400"/><stop offset=".314" stop-color="#ff5700"/><stop offset=".348" stop-color="#ff7b00"/><stop offset=".39" stop-color="#ffba00"/><stop offset=".424" stop-color="#fffa00"/><stop offset=".431" stop-color="#f7ff08"/><stop offset=".472" stop-color="#abff54"/><stop offset=".5" stop-color="#86ff79"/><stop offset=".521" stop-color="#78ff87"/><stop offset=".548" stop-color="#4effb1"/><stop offset=".59" stop-color="#00fcff"/><stop offset=".638" stop-color="#00a2ff"/><stop offset=".672" stop-color="#0072ff"/><stop offset=".707" stop-color="#0053ff"/><stop offset=".741" stop-color="#0044ff"/><stop offset=".776" stop-color="#0043ff"/><stop offset=".81" stop-color="#0051ff"/><stop offset=".845" stop-color="#006fff"/><stop offset=".879" stop-color="#009eff"/><stop offset=".921" stop-color="#00e9ff"/><stop offset=".928" stop-color="#00f7ff"/><stop offset=".934" stop-color="#06fff9"/><stop offset=".976" stop-color="#56ffa9"/><stop offset=".997" stop-color="#75ff8a"/><stop offset="1" stop-color="#75ff8a"/></linearGradient><linearGradient id="c12"><stop offset="0" stop-color="#7bff84"/><stop offset=".017" stop-color="#84ff7b"/><stop offset=".038" stop-color="#9fff60"/><stop offset=".079" stop-color="#ecff13"/><stop offset=".086" stop-color="#faff05"/><stop offset=".1" stop-color="#ffe800"/><stop offset=".148" stop-color="#ff8e00"/><stop offset=".183" stop-color="#ff5e00"/><stop offset=".217" stop-color="#ff3f00"/><stop offset=".252" stop-color="#ff3200"/><stop offset=".286" stop-color="#ff3700"/><stop offset=".321" stop-color="#ff4d00"/><stop offset=".355" stop-color="#ff7500"/><stop offset=".397" stop-color="#ffba00"/><stop offset=".431" stop-color="#fffe00"/><stop offset=".479" stop-color="#a3ff5c"/><stop offset=".5" stop-color="#87ff78"/><stop offset=".521" stop-color="#77ff88"/><stop offset=".548" stop-color="#4affb5"/><stop offset=".583" stop-color="#02fffd"/><stop offset=".631" stop-color="#00a0ff"/><stop offset=".666" stop-color="#006bff"/><stop offset=".7" stop-color="#0048ff"/><stop offset=".734" stop-color="#0035ff"/><stop offset=".769" stop-color="#0032ff"/><stop offset=".803" stop-color="#003dff"/><stop offset=".838" stop-color="#0058ff"/><stop offset=".872" stop-color="#0085ff"/><stop offset=".907" stop-color="#00c2ff"/><stop offset=".934" stop-color="#00fbff"/><stop offset=".955" stop-color="#29ffd6"/><stop offset=".99" stop-color="#6aff95"/><stop offset=".997" stop-color="#73ff8c"/><stop offset="1" stop-color="#73ff8c"/></linearGradient><linearGradient id="c13"><stop offset="0" stop-color="#7bff84"/><stop offset=".017" stop-color="#85ff7a"/><stop offset=".038" stop-color="#a2ff5d"/><stop offset=".079" stop-color="#f4ff0b"/><stop offset=".086" stop-color="#fffb00"/><stop offset=".134" stop-color="#ff9900"/><stop offset=".169" stop-color="#ff6100"/><stop offset=".203" stop-color="#ff3a00"/><stop offset=".238" stop-color="#ff2500"/><stop offset=".272" stop-color="#ff2300"/><stop offset=".307" stop-color="#ff3200"/><stop offset=".341" stop-color="#ff5500"/><stop offset=".376" stop-color="#ff8800"/><stop offset=".424" stop-color="#ffe700"/><stop offset=".431" stop-color="#fff600"/><stop offset=".438" stop-color="#faff05"/><stop offset=".479" stop-color="#a6ff59"/><stop offset=".5" stop-color="#88ff77"/><stop offset=".521" stop-color="#76ff89"/><stop offset=".541" stop-color="#53ffac"/><stop offset=".576" stop-color="#09fff6"/><stop offset=".583" stop-color="#00f8ff"/><stop offset=".624" stop-color="#00a0ff"/><stop offset=".659" stop-color="#0066ff"/><stop offset=".693" stop-color="#003eff"/><stop offset=".728" stop-color="#0028ff"/><stop offset=".762" stop-color="#0022ff"/><stop offset=".797" stop-color="#002aff"/><stop offset=".831" stop-color="#0042ff"/><stop offset=".866" stop-color="#006cff"/><stop offset=".9" stop-color="#00a8ff"/><stop offset=".941" stop-color="#03fffc"/><stop offset=".983" stop-color="#5bffa4"/><stop offset=".997" stop-color="#72ff8d"/><stop offset="1" stop-color="#72ff8d"/></linearGradient><linearGradient id="c14"><stop offset="0" stop-color="#7aff85"/><stop offset=".017" stop-color="#85ff7a"/><stop offset=".038" stop-color="#a5ff5a"/><stop offset=".079" stop-color="#fcff03"/><stop offset=".1" stop-color="#ffd400"/><stop offset=".141" stop-color="#ff8000"/><stop offset=".176" stop-color="#ff4a00"/><stop offset=".21" stop-color="#ff2500"/><stop offset=".245" stop-color="#ff1400"/><stop offset=".279" stop-color="#ff1500"/><stop offset=".314" stop-color="#ff2900"/><stop offset=".348" stop-color="#ff4f00"/><stop offset=".383" stop-color="#ff8800"/><stop offset=".431" stop-color="#ffed00"/><stop offset=".438" stop-color="#fffd00"/><stop offset=".486" stop-color="#9dff62"/><stop offset=".507" stop-color="#81ff7e"/><stop offset=".521" stop-color="#74ff8b"/><stop offset=".541" stop-color="#4fffb0"/><stop offset=".576" stop-color="#00ffff"/><stop offset=".624" stop-color="#0093ff"/><stop offset=".659" stop-color="#0057ff"/><stop offset=".693" stop-color="#002fff"/><stop offset=".728" stop-color="#0018ff"/><stop offset=".762" stop-color="#0012ff"/><stop offset=".797" stop-color="#001aff"/><stop offset=".831" stop-color="#0033ff"/><stop offset=".866" stop-color="#005dff"/><stop offset=".9" stop-color="#009bff"/><stop offset=".941" stop-color="#00f9ff"/><stop offset=".948" stop-color="#0bfff4"/><stop offset=".983" stop-color="#58ffa7"/><stop offset=".997" stop-color="#71ff8e"/><stop offset="1" stop-color="#71ff8e"/></linearGradient><linearGradient id="c15"><stop offset="0" stop-color="#79ff86"/><stop offset=".01" stop-color="#80ff7f"/><stop offset=".024" stop-color="#90ff6f"/><stop offset=".052" stop-color="#c4ff3b"/><stop offset=".072" stop-color="#f3ff0c"/><stop offset=".079" stop-color="#fffb00"/><stop offset=".128" stop-color="#ff8f00"/><stop offset=".162" stop-color="#ff5000"/><stop offset=".197" stop-color="#ff2300"/><stop offset=".231" stop-color="#ff0a00"/><stop offset=".266" stop-color="#ff0300"/><stop offset=".3" stop-color="#ff1000"/><stop offset=".334" stop-color="#ff2f00"/><stop offset=".369" stop-color="#ff6200"/><stop offset=".403" stop-color="#ffa600"/><stop offset=".438" stop-color="#fff500"/><stop offset=".445" stop-color="#f9ff06"/><stop offset=".486" stop-color="#a0ff5f"/><stop offset=".507" stop-color="#81ff7e"/><stop offset=".521" stop-color="#73ff8c"/><stop offset=".541" stop-color="#4bffb4"/><stop offset=".569" stop-color="#09fff6"/><stop offset=".576" stop-color="#00f7ff"/><stop offset=".617" stop-color="#0095ff"/><stop offset=".652" stop-color="#0053ff"/><stop offset=".686" stop-color="#0026ff"/><stop offset=".721" stop-color="#000cff"/><stop offset=".755" stop-color="#0003ff"/><stop offset=".79" stop-color="#0008ff"/><stop offset=".824" stop-color="#001dff"/><stop offset=".859" stop-color="#0045ff"/><stop offset=".893" stop-color="#0081ff"/><stop offset=".934" stop-color="#00dfff"/><stop offset=".948" stop-color="#03fffc"/><stop offset=".983" stop-color="#55ffaa"/><stop offset=".997" stop-color="#6fff90"/><stop offset="1" stop-color="#6fff90"/></linearGradient><linearGradient id="c16"><stop offset="0" stop-color="#79ff86"/><stop offset=".01" stop-color="#80ff7f"/><stop offset=".024" stop-color="#91ff6e"/><stop offset=".052" stop-color="#c9ff36"/><stop offset=".072" stop-color="#faff05"/><stop offset=".079" stop-color="#fff300"/><stop offset=".128" stop-color="#ff8300"/><stop offset=".162" stop-color="#ff4300"/><stop offset=".197" stop-color="#ff1500"/><stop offset=".224" stop-color="#fe0000"/><stop offset=".259" stop-color="#f40000"/><stop offset=".293" stop-color="#fc0000"/><stop offset=".307" stop-color="#ff0600"/><stop offset=".341" stop-color="#ff2b00"/><stop offset=".376" stop-color="#ff6200"/><stop offset=".417" stop-color="#ffbb00"/><stop offset=".445" stop-color="#fffe00"/><stop offset=".486" stop-color="#a2ff5d"/><stop offset=".507" stop-color="#82ff7d"/><stop offset=".521" stop-color="#72ff8d"/><stop offset=".541" stop-color="#47ffb8"/><stop offset=".569" stop-color="#02fffd"/><stop offset=".617" stop-color="#0089ff"/><stop offset=".652" stop-color="#0046ff"/><stop offset=".679" stop-color="#001fff"/><stop offset=".714" stop-color="#0001ff"/><stop offset=".755" stop-color="#0000f3"/><stop offset=".79" stop-color="#0000f8"/><stop offset=".803" stop-color="#0000ff"/><stop offset=".838" stop-color="#001cff"/><stop offset=".866" stop-color="#0041ff"/><stop offset=".9" stop-color="#0083ff"/><stop offset=".941" stop-color="#00e8ff"/><stop offset=".948" stop-color="#00faff"/><stop offset=".962" stop-color="#1fffe0"/><stop offset=".99" stop-color="#60ff9f"/><stop offset=".997" stop-color="#6eff91"/><stop offset="1" stop-color="#6eff91"/></linearGradient><linearGradient id="c17"><stop offset="0" stop-color="#78ff87"/><stop offset=".003" stop-color="#78ff87"/><stop offset=".024" stop-color="#92ff6d"/><stop offset=".052" stop-color="#cdff32"/><stop offset=".072" stop-color="#fffe00"/><stop offset=".121" stop-color="#ff8800"/><stop offset=".155" stop-color="#ff4300"/><stop offset=".19" stop-color="#ff1000"/><stop offset=".203" stop-color="#ff0100"/><stop offset=".238" stop-color="#ea0000"/><stop offset=".272" stop-color="#e80000"/><stop offset=".307" stop-color="#f80000"/><stop offset=".314" stop-color="#fe0000"/><stop offset=".341" stop-color="#ff1e00"/><stop offset=".376" stop-color="#ff5700"/><stop offset=".41" stop-color="#ffa200"/><stop offset=".445" stop-color="#fff700"/><stop offset=".452" stop-color="#f6ff09"/><stop offset=".486" stop-color="#a5ff5a"/><stop offset=".507" stop-color="#82ff7d"/><stop offset=".521" stop-color="#71ff8e"/><stop offset=".541" stop-color="#44ffbb"/><stop offset=".562" stop-color="#0efff1"/><stop offset=".569" stop-color="#00faff"/><stop offset=".61" stop-color="#008eff"/><stop offset=".645" stop-color="#0045ff"/><stop offset=".672" stop-color="#001aff"/><stop offset=".693" stop-color="#0004ff"/><stop offset=".714" stop-color="#0000f3"/><stop offset=".748" stop-color="#0000e6"/><stop offset=".783" stop-color="#0000e9"/><stop offset=".824" stop-color="#0001ff"/><stop offset=".852" stop-color="#0020ff"/><stop offset=".879" stop-color="#004dff"/><stop offset=".914" stop-color="#0098ff"/><stop offset=".948" stop-color="#00f3ff"/><stop offset=".955" stop-color="#07fff8"/><stop offset=".99" stop-color="#5effa1"/><stop offset=".997" stop-color="#6cff93"/><stop offset="1" stop-color="#6cff93"/></linearGradient><linearGradient id="c18"><stop offset="0" stop-color="#77ff88"/><stop offset=".003" stop-color="#77ff88"/><stop offset=".024" stop-color="#94ff6b"/><stop offset=".052" stop-color="#d1ff2e"/><stop offset=".066" stop-color="#f5ff0a"/><stop offset=".072" stop-color="#fff800"/><stop offset=".121" stop-color="#ff7e00"/><stop offset=".155" stop-color="#ff3800"/><stop offset=".19" stop-color="#ff0500"/><stop offset=".203" stop-color="#f50000"/><stop offset=".238" stop-color="#de0000"/><stop offset=".272" stop-color="#dc0000"/><stop offset=".307" stop-color="#ed0000"/><stop offset=".328" stop-color="#ff0100"/><stop offset=".362" stop-color="#ff3300"/><stop offset=".397" stop-color="#ff7900"/><stop offset=".445" stop-color="#fff100"/><stop offset=".452" stop-color="#fbff04"/><stop offset=".486" stop-color="#a7ff58"/><stop offset=".507" stop-color="#82ff7d"/><stop offset=".521" stop-color="#70ff8f"/><stop offset=".541" stop-color="#40ffbf"/><stop offset=".562" stop-color="#08fff7"/><stop offset=".569" stop-color="#00f3ff"/><stop offset=".61" stop-color="#0084ff"/><stop offset=".638" stop-color="#0047ff"/><stop offset=".666" stop-color="#0018ff"/><stop offset=".686" stop-color="#0000fe"/><stop offset=".721" stop-color="#0000e3"/><stop offset=".755" stop-color="#0000da"/><stop offset=".79" stop-color="#0000df"/><stop offset=".824" stop-color="#0000f4"/><stop offset=".838" stop-color="#0003ff"/><stop offset=".866" stop-color="#0029ff"/><stop offset=".893" stop-color="#005eff"/><stop offset=".928" stop-color="#00b3ff"/><stop offset=".955" stop-color="#00ffff"/><stop offset=".99" stop-color="#5cffa3"/><stop offset=".997" stop-color="#6bff94"/><stop offset="1" stop-color="#6bff94"/></linearGradient><linearGradient id="c19"><stop offset="0" stop-color="#77ff88"/><stop offset=".003" stop-color="#77ff88"/><stop offset=".024" stop-color="#95ff6a"/><stop offset=".052" stop-color="#d5ff2a"/><stop offset=".066" stop-color="#faff05"/><stop offset=".072" stop-color="#fff200"/><stop offset=".121" stop-color="#ff7600"/><stop offset=".155" stop-color="#ff2e00"/><stop offset=".183" stop-color="#ff0300"/><stop offset=".21" stop-color="#e50000"/><stop offset=".245" stop-color="#d20000"/><stop offset=".279" stop-color="#d30000"/><stop offset=".314" stop-color="#e80000"/><stop offset=".334" stop-color="#ff0000"/><stop offset=".362" stop-color="#ff2a00"/><stop offset=".397" stop-color="#ff7000"/><stop offset=".445" stop-color="#ffeb00"/><stop offset=".452" stop-color="#fffd00"/><stop offset=".493" stop-color="#9aff65"/><stop offset=".507" stop-color="#82ff7d"/><stop offset=".514" stop-color="#7bff84"/><stop offset=".534" stop-color="#4fffb0"/><stop offset=".562" stop-color="#02fffd"/><stop offset=".61" stop-color="#007cff"/><stop offset=".638" stop-color="#003eff"/><stop offset=".666" stop-color="#000eff"/><stop offset=".679" stop-color="#0000fb"/><stop offset=".714" stop-color="#0000dd"/><stop offset=".748" stop-color="#0000d1"/><stop offset=".783" stop-color="#0000d3"/><stop offset=".817" stop-color="#0000e5"/><stop offset=".845" stop-color="#0002ff"/><stop offset=".872" stop-color="#002cff"/><stop offset=".9" stop-color="#0065ff"/><stop offset=".934" stop-color="#00beff"/><stop offset=".955" stop-color="#00faff"/><stop offset=".962" stop-color="#0ffff0"/><stop offset=".99" stop-color="#59ffa6"/><stop offset=".997" stop-color="#69ff96"/><stop offset="1" stop-color="#69ff96"/></linearGradient><linearGradient id="c20"><stop offset="0" stop-color="#76ff89"/><stop offset=".003" stop-color="#76ff89"/><stop offset=".024" stop-color="#96ff69"/><stop offset=".052" stop-color="#d9ff26"/><stop offset=".066" stop-color="#feff01"/><stop offset=".121" stop-color="#ff6f00"/><stop offset=".155" stop-color="#ff2600"/><stop offset=".176" stop-color="#ff0500"/><stop offset=".19" stop-color="#f10000"/><stop offset=".217" stop-color="#d70000"/><stop offset=".252" stop-color="#c80000"/><stop offset=".286" stop-color="#ce0000"/><stop offset=".321" stop-color="#e70000"/><stop offset=".341" stop-color="#ff0100"/><stop offset=".369" stop-color="#ff2e00"/><stop offset=".403" stop-color="#ff7900"/><stop offset=".452" stop-color="#fff900"/><stop offset=".459" stop-color="#f2ff0d"/><stop offset=".493" stop-color="#9cff63"/><stop offset=".507" stop-color="#83ff7c"/><stop offset=".514" stop-color="#7bff84"/><stop offset=".534" stop-color="#4cffb3"/><stop offset=".562" stop-color="#00fdff"/><stop offset=".603" stop-color="#0087ff"/><stop offset=".631" stop-color="#0044ff"/><stop offset=".659" stop-color="#0011ff"/><stop offset=".672" stop-color="#0000fc"/><stop offset=".7" stop-color="#0000df"/><stop offset=".734" stop-color="#0000cc"/><stop offset=".769" stop-color="#0000c9"/><stop offset=".803" stop-color="#0000d4"/><stop offset=".838" stop-color="#0000f1"/><stop offset=".852" stop-color="#0003ff"/><stop offset=".879" stop-color="#0031ff"/><stop offset=".907" stop-color="#006eff"/><stop offset=".948" stop-color="#00e1ff"/><stop offset=".955" stop-color="#00f5ff"/><stop offset=".962" stop-color="#0afff5"/><stop offset=".99" stop-color="#57ffa8"/><stop offset=".997" stop-color="#68ff97"/><stop offset="1" stop-color="#68ff97"/></linearGradient><linearGradient id="c21"><stop offset="0" stop-color="#76ff89"/><stop offset=".003" stop-color="#76ff89"/><stop offset=".024" stop-color="#98ff67"/><stop offset=".052" stop-color="#dcff23"/><stop offset=".066" stop-color="#fffb00"/><stop offset=".114" stop-color="#ff7900"/><stop offset=".148" stop-color="#ff2c00"/><stop offset=".169" stop-color="#ff0700"/><stop offset=".176" stop-color="#fc0000"/><stop offset=".203" stop-color="#da0000"/><stop offset=".238" stop-color="#c40000"/><stop offset=".272" stop-color="#c10000"/><stop offset=".307" stop-color="#d20000"/><stop offset=".334" stop-color="#ef0000"/><stop offset=".348" stop-color="#ff0300"/><stop offset=".376" stop-color="#ff3400"/><stop offset=".41" stop-color="#ff8400"/><stop offset=".452" stop-color="#fff400"/><stop offset=".459" stop-color="#f7ff08"/><stop offset=".493" stop-color="#9dff62"/><stop offset=".507" stop-color="#83ff7c"/><stop offset=".514" stop-color="#7aff85"/><stop offset=".534" stop-color="#4affb5"/><stop offset=".555" stop-color="#0efff1"/><stop offset=".562" stop-color="#00f8ff"/><stop offset=".603" stop-color="#0080ff"/><stop offset=".631" stop-color="#003dff"/><stop offset=".659" stop-color="#000aff"/><stop offset=".666" stop-color="#0000fe"/><stop offset=".693" stop-color="#0000de"/><stop offset=".728" stop-color="#0000c8"/><stop offset=".762" stop-color="#0000c1"/><stop offset=".797" stop-color="#0000c9"/><stop offset=".831" stop-color="#0000e2"/><stop offset=".852" stop-color="#0000fa"/><stop offset=".859" stop-color="#0005ff"/><stop offset=".886" stop-color="#0038ff"/><stop offset=".914" stop-color="#0079ff"/><stop offset=".955" stop-color="#00f0ff"/><stop offset=".962" stop-color="#06fff9"/><stop offset=".99" stop-color="#56ffa9"/><stop offset=".997" stop-color="#67ff98"/><stop offset="1" stop-color="#67ff98"/></linearGradient><linearGradient id="c22"><stop offset="0" stop-color="#75ff8a"/><stop offset=".003" stop-color="#75ff8a"/><stop offset=".024" stop-color="#99ff66"/><stop offset=".052" stop-color="#e0ff1f"/><stop offset=".059" stop-color="#f3ff0c"/><stop offset=".066" stop-color="#fff700"/><stop offset=".114" stop-color="#ff7200"/><stop offset=".148" stop-color="#ff2400"/><stop offset=".169" stop-color="#fe0000"/><stop offset=".197" stop-color="#da0000"/><stop offset=".224" stop-color="#c20000"/><stop offset=".259" stop-color="#b80000"/><stop offset=".293" stop-color="#c10000"/><stop offset=".321" stop-color="#d70000"/><stop offset=".348" stop-color="#fa0000"/><stop offset=".355" stop-color="#ff0600"/><stop offset=".383" stop-color="#ff3b00"/><stop offset=".417" stop-color="#ff8f00"/><stop offset=".452" stop-color="#fff000"/><stop offset=".459" stop-color="#fbff04"/><stop offset=".493" stop-color="#9fff60"/><stop offset=".507" stop-color="#83ff7c"/><stop offset=".514" stop-color="#7aff85"/><stop offset=".534" stop-color="#48ffb7"/><stop offset=".555" stop-color="#0afff5"/><stop offset=".562" stop-color="#00f4ff"/><stop offset=".603" stop-color="#007aff"/><stop offset=".631" stop-color="#0036ff"/><stop offset=".659" stop-color="#0002ff"/><stop offset=".693" stop-color="#0000d7"/><stop offset=".728" stop-color="#0000c1"/><stop offset=".762" stop-color="#0000ba"/><stop offset=".797" stop-color="#0000c2"/><stop offset=".831" stop-color="#0000db"/><stop offset=".859" stop-color="#0000fd"/><stop offset=".879" stop-color="#0022ff"/><stop offset=".907" stop-color="#0061ff"/><stop offset=".941" stop-color="#00c2ff"/><stop offset=".962" stop-color="#02fffd"/><stop offset=".99" stop-color="#54ffab"/><stop offset=".997" stop-color="#65ff9a"/><stop offset="1" stop-color="#65ff9a"/></linearGradient><linearGradient id="c23"><stop offset="0" stop-color="#74ff8b"/><stop offset=".003" stop-color="#74ff8b"/><stop offset=".024" stop-color="#9aff65"/><stop offset=".059" stop-color="#f7ff08"/><stop offset=".066" stop-color="#fff300"/><stop offset=".114" stop-color="#ff6c00"/><stop offset=".148" stop-color="#ff1d00"/><stop offset=".162" stop-color="#ff0300"/><stop offset=".183" stop-color="#e30000"/><stop offset=".21" stop-color="#c50000"/><stop offset=".245" stop-color="#b20000"/><stop offset=".279" stop-color="#b30000"/><stop offset=".314" stop-color="#c80000"/><stop offset=".341" stop-color="#e80000"/><stop offset=".355" stop-color="#fe0000"/><stop offset=".383" stop-color="#ff3400"/><stop offset=".417" stop-color="#ff8900"/><stop offset=".459" stop-color="#ffff00"/><stop offset=".493" stop-color="#a0ff5f"/><stop offset=".507" stop-color="#83ff7c"/><stop offset=".514" stop-color="#7aff85"/><stop offset=".534" stop-color="#46ffb9"/><stop offset=".555" stop-color="#06fff9"/><stop offset=".562" stop-color="#00f0ff"/><stop offset=".603" stop-color="#0074ff"/><stop offset=".631" stop-color="#002fff"/><stop offset=".652" stop-color="#0007ff"/><stop offset=".659" stop-color="#0000fa"/><stop offset=".686" stop-color="#0000d7"/><stop offset=".721" stop-color="#0000bd"/><stop offset=".755" stop-color="#0000b4"/><stop offset=".79" stop-color="#0000b9"/><stop offset=".824" stop-color="#0000ce"/><stop offset=".852" stop-color="#0000ec"/><stop offset=".866" stop-color="#0002ff"/><stop offset=".893" stop-color="#0039ff"/><stop offset=".921" stop-color="#007fff"/><stop offset=".962" stop-color="#00fdff"/><stop offset=".997" stop-color="#64ff9b"/><stop offset="1" stop-color="#64ff9b"/></linearGradient><linearGradient id="c24"><stop offset="0" stop-color="#74ff8b"/><stop offset=".003" stop-color="#74ff8b"/><stop offset=".024" stop-color="#9bff64"/><stop offset=".059" stop-color="#fbff04"/><stop offset=".072" stop-color="#ffda00"/><stop offset=".114" stop-color="#ff6500"/><stop offset=".148" stop-color="#ff1600"/><stop offset=".162" stop-color="#fb0000"/><stop offset=".19" stop-color="#d20000"/><stop offset=".217" stop-color="#b80000"/><stop offset=".252" stop-color="#a90000"/><stop offset=".286" stop-color="#ae0000"/><stop offset=".314" stop-color="#c10000"/><stop offset=".341" stop-color="#e10000"/><stop offset=".355" stop-color="#f70000"/><stop offset=".362" stop-color="#ff0400"/><stop offset=".39" stop-color="#ff3d00"/><stop offset=".424" stop-color="#ff9600"/><stop offset=".459" stop-color="#fffb00"/><stop offset=".472" stop-color="#daff25"/><stop offset=".5" stop-color="#91ff6e"/><stop offset=".521" stop-color="#6aff95"/><stop offset=".548" stop-color="#19ffe6"/><stop offset=".555" stop-color="#03fffc"/><stop offset=".603" stop-color="#006eff"/><stop offset=".631" stop-color="#0029ff"/><stop offset=".652" stop-color="#0000ff"/><stop offset=".679" stop-color="#0000d8"/><stop offset=".714" stop-color="#0000ba"/><stop offset=".748" stop-color="#0000ae"/><stop offset=".79" stop-color="#0000b3"/><stop offset=".824" stop-color="#0000c7"/><stop offset=".852" stop-color="#0000e6"/><stop offset=".866" stop-color="#0000fb"/><stop offset=".872" stop-color="#0008ff"/><stop offset=".9" stop-color="#0043ff"/><stop offset=".928" stop-color="#008eff"/><stop offset=".962" stop-color="#00f9ff"/><stop offset=".969" stop-color="#10ffef"/><stop offset=".997" stop-color="#63ff9c"/><stop offset="1" stop-color="#63ff9c"/></linearGradient><linearGradient id="c25"><stop offset="0" stop-color="#73ff8c"/><stop offset=".003" stop-color="#73ff8c"/><stop offset=".024" stop-color="#9dff62"/><stop offset=".059" stop-color="#ffff00"/><stop offset=".107" stop-color="#ff7200"/><stop offset=".141" stop-color="#ff1e00"/><stop offset=".155" stop-color="#ff0200"/><stop offset=".19" stop-color="#cc0000"/><stop offset=".217" stop-color="#b10000"/><stop offset=".252" stop-color="#a20000"/><stop offset=".286" stop-color="#a70000"/><stop offset=".314" stop-color="#ba0000"/><stop offset=".341" stop-color="#da0000"/><stop offset=".362" stop-color="#fc0000"/><stop offset=".376" stop-color="#ff1800"/><stop offset=".41" stop-color="#ff6b00"/><stop offset=".459" stop-color="#fff700"/><stop offset=".466" stop-color="#f2ff0d"/><stop offset=".493" stop-color="#a3ff5c"/><stop offset=".507" stop-color="#84ff7b"/><stop offset=".514" stop-color="#79ff86"/><stop offset=".534" stop-color="#41ffbe"/><stop offset=".555" stop-color="#00feff"/><stop offset=".597" stop-color="#007cff"/><stop offset=".624" stop-color="#0033ff"/><stop offset=".645" stop-color="#0007ff"/><stop offset=".652" stop-color="#0000f9"/><stop offset=".679" stop-color="#0000d1"/><stop offset=".714" stop-color="#0000b4"/><stop offset=".748" stop-color="#0000a8"/><stop offset=".79" stop-color="#0000ac"/><stop offset=".824" stop-color="#0000c1"/><stop offset=".852" stop-color="#0000df"/><stop offset=".872" stop-color="#0002ff"/><stop offset=".9" stop-color="#003dff"/><stop offset=".928" stop-color="#0088ff"/><stop offset=".962" stop-color="#00f6ff"/><stop offset=".969" stop-color="#0dfff2"/><stop offset=".997" stop-color="#62ff9d"/><stop offset="1" stop-color="#62ff9d"/></linearGradient><linearGradient id="c26"><stop offset="0" stop-color="#73ff8c"/><stop offset=".003" stop-color="#73ff8c"/><stop offset=".024" stop-color="#9eff61"/><stop offset=".059" stop-color="#fffc00"/><stop offset=".107" stop-color="#ff6d00"/><stop offset=".141" stop-color="#ff1800"/><stop offset=".155" stop-color="#fb0000"/><stop offset=".183" stop-color="#ce0000"/><stop offset=".21" stop-color="#b00000"/><stop offset=".245" stop-color="#9d0000"/><stop offset=".279" stop-color="#9f0000"/><stop offset=".314" stop-color="#b40000"/><stop offset=".341" stop-color="#d40000"/><stop offset=".362" stop-color="#f60000"/><stop offset=".369" stop-color="#ff0400"/><stop offset=".397" stop-color="#ff4200"/><stop offset=".431" stop-color="#ffa000"/><stop offset=".459" stop-color="#fff400"/><stop offset=".466" stop-color="#f5ff0a"/><stop offset=".493" stop-color="#a5ff5a"/><stop offset=".507" stop-color="#84ff7b"/><stop offset=".514" stop-color="#79ff86"/><stop offset=".534" stop-color="#3fffc0"/><stop offset=".548" stop-color="#13ffec"/><stop offset=".555" stop-color="#00fbff"/><stop offset=".597" stop-color="#0076ff"/><stop offset=".624" stop-color="#002dff"/><stop offset=".645" stop-color="#0001ff"/><stop offset=".672" stop-color="#0000d4"/><stop offset=".7" stop-color="#0000b7"/><stop offset=".734" stop-color="#0000a5"/><stop offset=".776" stop-color="#0000a3"/><stop offset=".81" stop-color="#0000b1"/><stop offset=".838" stop-color="#0000c8"/><stop offset=".866" stop-color="#0000ef"/><stop offset=".872" stop-color="#0000fb"/><stop offset=".879" stop-color="#0009ff"/><stop offset=".907" stop-color="#0049ff"/><stop offset=".941" stop-color="#00aeff"/><stop offset=".962" stop-color="#00f2ff"/><stop offset=".969" stop-color="#0afff5"/><stop offset=".997" stop-color="#60ff9f"/><stop offset="1" stop-color="#60ff9f"/></linearGradient><linearGradient id="c27"><stop offset="0" stop-color="#72ff8d"/><stop offset=".003" stop-color="#72ff8d"/><stop offset=".024" stop-color="#9fff60"/><stop offset=".052" stop-color="#f0ff0f"/><stop offset=".059" stop-color="#fff900"/><stop offset=".107" stop-color="#ff6800"/><stop offset=".141" stop-color="#ff1200"/><stop offset=".148" stop-color="#ff0400"/><stop offset=".162" stop-color="#e90000"/><stop offset=".19" stop-color="#c00000"/><stop offset=".217" stop-color="#a50000"/><stop offset=".252" stop-color="#960000"/><stop offset=".286" stop-color="#9c0000"/><stop offset=".314" stop-color="#ae0000"/><stop offset=".341" stop-color="#cf0000"/><stop offset=".369" stop-color="#fe0000"/><stop offset=".397" stop-color="#ff3d00"/><stop offset=".431" stop-color="#ff9c00"/><stop offset=".459" stop-color="#fff100"/><stop offset=".466" stop-color="#f8ff07"/><stop offset=".493" stop-color="#a6ff59"/><stop offset=".507" stop-color="#84ff7b"/><stop offset=".514" stop-color="#78ff87"/><stop offset=".534" stop-color="#3dffc2"/><stop offset=".548" stop-color="#10ffef"/><stop offset=".555" stop-color="#00f7ff"/><stop offset=".597" stop-color="#0072ff"/><stop offset=".624" stop-color="#0028ff"/><stop offset=".638" stop-color="#0009ff"/><stop offset=".645" stop-color="#0000fa"/><stop offset=".672" stop-color="#0000ce"/><stop offset=".7" stop-color="#0000b2"/><stop offset=".734" stop-color="#0000a0"/><stop offset=".776" stop-color="#00009e"/><stop offset=".81" stop-color="#0000ac"/><stop offset=".838" stop-color="#0000c3"/><stop offset=".866" stop-color="#0000e9"/><stop offset=".879" stop-color="#0004ff"/><stop offset=".907" stop-color="#0044ff"/><stop offset=".934" stop-color="#0094ff"/><stop offset=".962" stop-color="#00efff"/><stop offset=".969" stop-color="#07fff8"/><stop offset=".997" stop-color="#5fffa0"/><stop offset="1" stop-color="#5fffa0"/></linearGradient><linearGradient id="c28"><stop offset="0" stop-color="#71ff8e"/><stop offset=".003" stop-color="#71ff8e"/><stop offset=".024" stop-color="#a0ff5f"/><stop offset=".052" stop-color="#f2ff0d"/><stop offset=".059" stop-color="#fff600"/><stop offset=".1" stop-color="#ff7700"/><stop offset=".134" stop-color="#ff1d00"/><stop offset=".148" stop-color="#fe0000"/><stop offset=".176" stop-color="#ce0000"/><stop offset=".203" stop-color="#ac0000"/><stop offset=".238" stop-color="#950000"/><stop offset=".272" stop-color="#930000"/><stop offset=".307" stop-color="#a40000"/><stop offset=".334" stop-color="#c00000"/><stop offset=".362" stop-color="#ec0000"/><stop offset=".369" stop-color="#f90000"/><stop offset=".376" stop-color="#ff0800"/><stop offset=".403" stop-color="#ff4a00"/><stop offset=".438" stop-color="#ffad00"/><stop offset=".459" stop-color="#ffee00"/><stop offset=".466" stop-color="#fbff04"/><stop offset=".493" stop-color="#a7ff58"/><stop offset=".507" stop-color="#85ff7a"/><stop offset=".514" stop-color="#78ff87"/><stop offset=".534" stop-color="#3bffc4"/><stop offset=".548" stop-color="#0dfff2"/><stop offset=".555" stop-color="#00f4ff"/><stop offset=".597" stop-color="#006dff"/><stop offset=".624" stop-color="#0023ff"/><stop offset=".638" stop-color="#0004ff"/><stop offset=".652" stop-color="#0000e9"/><stop offset=".679" stop-color="#0000c1"/><stop offset=".714" stop-color="#0000a4"/><stop offset=".748" stop-color="#000099"/><stop offset=".79" stop-color="#00009d"/><stop offset=".824" stop-color="#0000b1"/><stop offset=".852" stop-color="#0000cf"/><stop offset=".879" stop-color="#0000fe"/><stop offset=".9" stop-color="#002dff"/><stop offset=".928" stop-color="#007aff"/><stop offset=".962" stop-color="#00ebff"/><stop offset=".969" stop-color="#04fffb"/><stop offset=".997" stop-color="#5effa1"/><stop offset="1" stop-color="#5effa1"/></linearGradient><linearGradient id="c29"><stop offset="0" stop-color="#71ff8e"/><stop offset=".003" stop-color="#71ff8e"/><stop offset=".024" stop-color="#a1ff5e"/><stop offset=".052" stop-color="#f5ff0a"/><stop offset=".059" stop-color="#fff300"/><stop offset=".1" stop-color="#ff7300"/><stop offset=".134" stop-color="#ff1900"/><stop offset=".141" stop-color="#ff0a00"/><stop offset=".148" stop-color="#fa0000"/><stop offset=".176" stop-color="#ca0000"/><stop offset=".203" stop-color="#a80000"/><stop offset=".238" stop-color="#920000"/><stop offset=".272" stop-color="#8f0000"/><stop offset=".307" stop-color="#a00000"/><stop offset=".334" stop-color="#bd0000"/><stop offset=".362" stop-color="#e80000"/><stop offset=".376" stop-color="#ff0400"/><stop offset=".403" stop-color="#ff4600"/><stop offset=".438" stop-color="#ffa900"/><stop offset=".466" stop-color="#fdff02"/><stop offset=".5" stop-color="#95ff6a"/><stop offset=".514" stop-color="#78ff87"/><stop offset=".534" stop-color="#39ffc6"/><stop offset=".548" stop-color="#0afff5"/><stop offset=".555" stop-color="#00f1ff"/><stop offset=".597" stop-color="#0069ff"/><stop offset=".624" stop-color="#001eff"/><stop offset=".638" stop-color="#0000fe"/><stop offset=".666" stop-color="#0000ce"/><stop offset=".693" stop-color="#0000af"/><stop offset=".728" stop-color="#00009a"/><stop offset=".769" stop-color="#000094"/><stop offset=".803" stop-color="#00009f"/><stop offset=".838" stop-color="#0000ba"/><stop offset=".866" stop-color="#0000e0"/><stop offset=".879" stop-color="#0000f9"/><stop offset=".886" stop-color="#0009ff"/><stop offset=".914" stop-color="#004dff"/><stop offset=".948" stop-color="#00b9ff"/><stop offset=".969" stop-color="#01fffe"/><stop offset=".997" stop-color="#5dffa2"/><stop offset="1" stop-color="#5dffa2"/></linearGradient><linearGradient id="c30"><stop offset="0" stop-color="#70ff8f"/><stop offset=".003" stop-color="#70ff8f"/><stop offset=".024" stop-color="#a2ff5d"/><stop offset=".052" stop-color="#f7ff08"/><stop offset=".059" stop-color="#fff100"/><stop offset=".1" stop-color="#ff7000"/><stop offset=".134" stop-color="#ff1600"/><stop offset=".141" stop-color="#ff0700"/><stop offset=".148" stop-color="#f80000"/><stop offset=".176" stop-color="#c70000"/><stop offset=".203" stop-color="#a60000"/><stop offset=".238" stop-color="#8f0000"/><stop offset=".272" stop-color="#8c0000"/><stop offset=".307" stop-color="#9d0000"/><stop offset=".334" stop-color="#ba0000"/><stop offset=".362" stop-color="#e50000"/><stop offset=".376" stop-color="#ff0100"/><stop offset=".403" stop-color="#ff4300"/><stop offset=".438" stop-color="#ffa700"/><stop offset=".466" stop-color="#ffff00"/><stop offset=".5" stop-color="#96ff69"/><stop offset=".514" stop-color="#77ff88"/><stop offset=".534" stop-color="#38ffc7"/><stop offset=".548" stop-color="#08fff7"/><stop offset=".555" stop-color="#00efff"/><stop offset=".59" stop-color="#007bff"/><stop offset=".617" stop-color="#002cff"/><stop offset=".631" stop-color="#000aff"/><stop offset=".638" stop-color="#0000fb"/><stop offset=".666" stop-color="#0000ca"/><stop offset=".693" stop-color="#0000ab"/><stop offset=".728" stop-color="#000096"/><stop offset=".769" stop-color="#000091"/><stop offset=".803" stop-color="#00009b"/><stop offset=".838" stop-color="#0000b6"/><stop offset=".866" stop-color="#0000dc"/><stop offset=".879" stop-color="#0000f5"/><stop offset=".886" stop-color="#0005ff"/><stop offset=".914" stop-color="#004aff"/><stop offset=".948" stop-color="#00b6ff"/><stop offset=".969" stop-color="#00feff"/><stop offset=".997" stop-color="#5cffa3"/><stop offset="1" stop-color="#5cffa3"/></linearGradient><linearGradient id="c31"><stop offset="0" stop-color="#70ff8f"/><stop offset=".003" stop-color="#70ff8f"/><stop offset=".024" stop-color="#a3ff5c"/><stop offset=".052" stop-color="#f8ff07"/><stop offset=".059" stop-color="#ffef00"/><stop offset=".1" stop-color="#ff6e00"/><stop offset=".128" stop-color="#ff2500"/><stop offset=".141" stop-color="#ff0500"/><stop offset=".148" stop-color="#f60000"/><stop offset=".176" stop-color="#c50000"/><stop offset=".203" stop-color="#a40000"/><stop offset=".238" stop-color="#8e0000"/><stop offset=".272" stop-color="#8b0000"/><stop offset=".307" stop-color="#9c0000"/><stop offset=".334" stop-color="#b80000"/><stop offset=".362" stop-color="#e30000"/><stop offset=".376" stop-color="#fe0000"/><stop offset=".403" stop-color="#ff4100"/><stop offset=".438" stop-color="#ffa500"/><stop offset=".466" stop-color="#fffd00"/><stop offset=".5" stop-color="#97ff68"/><stop offset=".514" stop-color="#77ff88"/><stop offset=".534" stop-color="#36ffc9"/><stop offset=".548" stop-color="#06fff9"/><stop offset=".555" stop-color="#00ecff"/><stop offset=".59" stop-color="#0077ff"/><stop offset=".617" stop-color="#0028ff"/><stop offset=".631" stop-color="#0007ff"/><stop offset=".638" stop-color="#0000f7"/><stop offset=".666" stop-color="#0000c7"/><stop offset=".693" stop-color="#0000a8"/><stop offset=".728" stop-color="#000093"/><stop offset=".769" stop-color="#00008e"/><stop offset=".803" stop-color="#000098"/><stop offset=".838" stop-color="#0000b3"/><stop offset=".866" stop-color="#0000d9"/><stop offset=".886" stop-color="#0001ff"/><stop offset=".914" stop-color="#0046ff"/><stop offset=".941" stop-color="#009cff"/><stop offset=".969" stop-color="#00fbff"/><stop offset=".99" stop-color="#44ffbb"/><stop offset=".997" stop-color="#5bffa4"/><stop offset="1" stop-color="#5bffa4"/></linearGradient><linearGradient id="c32"><stop offset="0" stop-color="#6fff90"/><stop offset=".003" stop-color="#6fff90"/><stop offset=".024" stop-color="#a3ff5c"/><stop offset=".052" stop-color="#faff05"/><stop offset=".059" stop-color="#ffee00"/><stop offset=".1" stop-color="#ff6d00"/><stop offset=".128" stop-color="#ff2400"/><stop offset=".141" stop-color="#ff0400"/><stop offset=".155" stop-color="#e70000"/><stop offset=".183" stop-color="#bb0000"/><stop offset=".21" stop-color="#9e0000"/><stop offset=".245" stop-color="#8c0000"/><stop offset=".279" stop-color="#8d0000"/><stop offset=".314" stop-color="#a10000"/><stop offset=".341" stop-color="#c10000"/><stop offset=".369" stop-color="#f00000"/><stop offset=".376" stop-color="#fe0000"/><stop offset=".397" stop-color="#ff2e00"/><stop offset=".431" stop-color="#ff8e00"/><stop offset=".466" stop-color="#fffc00"/><stop offset=".486" stop-color="#c0ff3f"/><stop offset=".507" stop-color="#86ff79"/><stop offset=".514" stop-color="#77ff88"/><stop offset=".534" stop-color="#35ffca"/><stop offset=".548" stop-color="#04fffb"/><stop offset=".562" stop-color="#00d2ff"/><stop offset=".597" stop-color="#005fff"/><stop offset=".624" stop-color="#0014ff"/><stop offset=".631" stop-color="#0004ff"/><stop offset=".645" stop-color="#0000e7"/><stop offset=".672" stop-color="#0000bb"/><stop offset=".7" stop-color="#0000a0"/><stop offset=".734" stop-color="#00008f"/><stop offset=".776" stop-color="#00008d"/><stop offset=".81" stop-color="#00009a"/><stop offset=".838" stop-color="#0000b0"/><stop offset=".866" stop-color="#0000d6"/><stop offset=".886" stop-color="#0000fe"/><stop offset=".907" stop-color="#0031ff"/><stop offset=".934" stop-color="#0082ff"/><stop offset=".969" stop-color="#00f9ff"/><stop offset=".976" stop-color="#13ffec"/><stop offset=".997" stop-color="#5affa5"/><stop offset="1" stop-color="#5affa5"/></linearGradient><linearGradient id="c33"><stop offset="0" stop-color="#6fff90"/><stop offset=".003" stop-color="#6fff90"/><stop offset=".024" stop-color="#a4ff5b"/><stop offset=".052" stop-color="#fbff04"/><stop offset=".066" stop-color="#ffd600"/><stop offset=".107" stop-color="#ff5900"/><stop offset=".134" stop-color="#ff1300"/><stop offset=".141" stop-color="#ff0400"/><stop offset=".155" stop-color="#e70000"/><stop offset=".183" stop-color="#bc0000"/><stop offset=".21" stop-color="#9e0000"/><stop offset=".245" stop-color="#8c0000"/><stop offset=".279" stop-color="#8e0000"/><stop offset=".314" stop-color="#a20000"/><stop offset=".341" stop-color="#c10000"/><stop offset=".369" stop-color="#ef0000"/><stop offset=".376" stop-color="#fd0000"/><stop offset=".397" stop-color="#ff2d00"/><stop offset=".431" stop-color="#ff8d00"/><stop offset=".466" stop-color="#fffb00"/><stop offset=".479" stop-color="#d7ff28"/><stop offset=".507" stop-color="#86ff79"/><stop offset=".514" stop-color="#76ff89"/><stop offset=".541" stop-color="#1bffe4"/><stop offset=".548" stop-color="#02fffd"/><stop offset=".59" stop-color="#0073ff"/><stop offset=".617" stop-color="#0023ff"/><stop offset=".631" stop-color="#0002ff"/><stop offset=".659" stop-color="#0000cd"/><stop offset=".686" stop-color="#0000aa"/><stop offset=".721" stop-color="#000092"/><stop offset=".762" stop-color="#00008a"/><stop offset=".803" stop-color="#000094"/><stop offset=".838" stop-color="#0000af"/><stop offset=".866" stop-color="#0000d4"/><stop offset=".886" stop-color="#0000fb"/><stop offset=".9" stop-color="#001dff"/><stop offset=".928" stop-color="#006aff"/><stop offset=".962" stop-color="#00dfff"/><stop offset=".969" stop-color="#00f8ff"/><stop offset=".976" stop-color="#11ffee"/><stop offset=".997" stop-color="#59ffa6"/><stop offset="1" stop-color="#59ffa6"/></linearGradient><linearGradient id="c34"><stop offset="0" stop-color="#6eff91"/><stop offset=".003" stop-color="#6eff91"/><stop offset=".024" stop-color="#a5ff5a"/><stop offset=".052" stop-color="#fcff03"/><stop offset=".079" stop-color="#ffaa00"/><stop offset=".114" stop-color="#ff4600"/><stop offset=".141" stop-color="#ff0400"/><stop offset=".155" stop-color="#e80000"/><stop offset=".183" stop-color="#bc0000"/><stop offset=".21" stop-color="#9f0000"/><stop offset=".245" stop-color="#8e0000"/><stop offset=".279" stop-color="#8f0000"/><stop offset=".314" stop-color="#a30000"/><stop offset=".341" stop-color="#c20000"/><stop offset=".369" stop-color="#f00000"/><stop offset=".376" stop-color="#fd0000"/><stop offset=".397" stop-color="#ff2d00"/><stop offset=".431" stop-color="#ff8c00"/><stop offset=".466" stop-color="#fffa00"/><stop offset=".472" stop-color="#eeff11"/><stop offset=".5" stop-color="#98ff67"/><stop offset=".514" stop-color="#76ff89"/><stop offset=".541" stop-color="#1affe5"/><stop offset=".548" stop-color="#01fffe"/><stop offset=".59" stop-color="#0071ff"/><stop offset=".617" stop-color="#0022ff"/><stop offset=".631" stop-color="#0001ff"/><stop offset=".659" stop-color="#0000cc"/><stop offset=".686" stop-color="#0000a9"/><stop offset=".721" stop-color="#000092"/><stop offset=".762" stop-color="#00008a"/><stop offset=".803" stop-color="#000094"/><stop offset=".838" stop-color="#0000ae"/><stop offset=".866" stop-color="#0000d3"/><stop offset=".886" stop-color="#0000fa"/><stop offset=".893" stop-color="#000aff"/><stop offset=".921" stop-color="#0054ff"/><stop offset=".955" stop-color="#00c5ff"/><stop offset=".969" stop-color="#00f6ff"/><stop offset=".976" stop-color="#10ffef"/><stop offset=".997" stop-color="#59ffa6"/><stop offset="1" stop-color="#59ffa6"/></linearGradient><linearGradient id="c35"><stop offset="0" stop-color="#6eff91"/><stop offset=".003" stop-color="#6eff91"/><stop offset=".024" stop-color="#a5ff5a"/><stop offset=".052" stop-color="#fcff03"/><stop offset=".1" stop-color="#ff6b00"/><stop offset=".128" stop-color="#ff2300"/><stop offset=".141" stop-color="#ff0500"/><stop offset=".155" stop-color="#e90000"/><stop offset=".183" stop-color="#be0000"/><stop offset=".21" stop-color="#a10000"/><stop offset=".245" stop-color="#900000"/><stop offset=".279" stop-color="#910000"/><stop offset=".314" stop-color="#a50000"/><stop offset=".341" stop-color="#c30000"/><stop offset=".369" stop-color="#f00000"/><stop offset=".376" stop-color="#fe0000"/><stop offset=".403" stop-color="#ff3f00"/><stop offset=".438" stop-color="#ffa100"/><stop offset=".466" stop-color="#fff900"/><stop offset=".472" stop-color="#efff10"/><stop offset=".5" stop-color="#99ff66"/><stop offset=".514" stop-color="#76ff89"/><stop offset=".541" stop-color="#18ffe7"/><stop offset=".548" stop-color="#00ffff"/><stop offset=".59" stop-color="#0070ff"/><stop offset=".617" stop-color="#0021ff"/><stop offset=".631" stop-color="#0000ff"/><stop offset=".659" stop-color="#0000cc"/><stop offset=".686" stop-color="#0000aa"/><stop offset=".721" stop-color="#000092"/><stop offset=".762" stop-color="#00008a"/><stop offset=".803" stop-color="#000094"/><stop offset=".838" stop-color="#0000ae"/><stop offset=".866" stop-color="#0000d2"/><stop offset=".886" stop-color="#0000f9"/><stop offset=".893" stop-color="#000aff"/><stop offset=".921" stop-color="#0053ff"/><stop offset=".955" stop-color="#00c4ff"/><stop offset=".969" stop-color="#00f5ff"/><stop offset=".976" stop-color="#0ffff0"/><stop offset=".997" stop-color="#58ffa7"/><stop offset="1" stop-color="#58ffa7"/></linearGradient><linearGradient id="c36"><stop offset="0" stop-color="#6eff91"/><stop offset=".003" stop-color="#6eff91"/><stop offset=".024" stop-color="#a5ff5a"/><stop offset=".052" stop-color="#fdff02"/><stop offset=".1" stop-color="#ff6c00"/><stop offset=".128" stop-color="#ff2400"/><stop offset=".141" stop-color="#ff0600"/><stop offset=".148" stop-color="#f70000"/><stop offset=".176" stop-color="#c90000"/><stop offset=".203" stop-color="#a90000"/><stop offset=".238" stop-color="#940000"/><stop offset=".272" stop-color="#910000"/><stop offset=".307" stop-color="#a10000"/><stop offset=".334" stop-color="#bc0000"/><stop offset=".362" stop-color="#e50000"/><stop offset=".376" stop-color="#ff0000"/><stop offset=".403" stop-color="#ff3f00"/><stop offset=".438" stop-color="#ffa100"/><stop offset=".466" stop-color="#fff800"/><stop offset=".472" stop-color="#efff10"/><stop offset=".5" stop-color="#99ff66"/><stop offset=".514" stop-color="#76ff89"/><stop offset=".548" stop-color="#00feff"/><stop offset=".583" stop-color="#0085ff"/><stop offset=".61" stop-color="#0033ff"/><stop offset=".631" stop-color="#0000ff"/><stop offset=".659" stop-color="#0000cc"/><stop offset=".686" stop-color="#0000aa"/><stop offset=".721" stop-color="#000093"/><stop offset=".762" stop-color="#00008c"/><stop offset=".803" stop-color="#000095"/><stop offset=".838" stop-color="#0000af"/><stop offset=".866" stop-color="#0000d3"/><stop offset=".886" stop-color="#0000fa"/><stop offset=".893" stop-color="#000aff"/><stop offset=".921" stop-color="#0052ff"/><stop offset=".955" stop-color="#00c3ff"/><stop offset=".969" stop-color="#00f4ff"/><stop offset=".976" stop-color="#0efff1"/><stop offset=".997" stop-color="#57ffa8"/><stop offset="1" stop-color="#57ffa8"/></linearGradient><linearGradient id="c37"><stop offset="0" stop-color="#6dff92"/><stop offset=".003" stop-color="#6dff92"/><stop offset=".024" stop-color="#a6ff59"/><stop offset=".052" stop-color="#fdff02"/><stop offset=".1" stop-color="#ff6c00"/><stop offset=".128" stop-color="#ff2500"/><stop offset=".141" stop-color="#ff0700"/><stop offset=".148" stop-color="#f80000"/><stop offset=".176" stop-color="#cb0000"/><stop offset=".203" stop-color="#ab0000"/><stop offset=".238" stop-color="#960000"/><stop offset=".272" stop-color="#940000"/><stop offset=".307" stop-color="#a40000"/><stop offset=".334" stop-color="#be0000"/><stop offset=".362" stop-color="#e70000"/><stop offset=".376" stop-color="#ff0200"/><stop offset=".403" stop-color="#ff4000"/><stop offset=".438" stop-color="#ffa100"/><stop offset=".466" stop-color="#fff800"/><stop offset=".472" stop-color="#f0ff0f"/><stop offset=".5" stop-color="#99ff66"/><stop offset=".514" stop-color="#75ff8a"/><stop offset=".548" stop-color="#00fdff"/><stop offset=".583" stop-color="#0085ff"/><stop offset=".61" stop-color="#0033ff"/><stop offset=".631" stop-color="#0001ff"/><stop offset=".659" stop-color="#0000ce"/><stop offset=".686" stop-color="#0000ac"/><stop offset=".721" stop-color="#000095"/><stop offset=".762" stop-color="#00008e"/><stop offset=".803" stop-color="#000097"/><stop offset=".838" stop-color="#0000b0"/><stop offset=".866" stop-color="#0000d4"/><stop offset=".886" stop-color="#0000fb"/><stop offset=".893" stop-color="#000bff"/><stop offset=".921" stop-color="#0052ff"/><stop offset=".948" stop-color="#00aaff"/><stop offset=".969" stop-color="#00f4ff"/><stop offset=".976" stop-color="#0efff1"/><stop offset=".997" stop-color="#57ffa8"/><stop offset="1" stop-color="#57ffa8"/></linearGradient><linearGradient id="c38"><stop offset="0" stop-color="#6dff92"/><stop offset=".003" stop-color="#6dff92"/><stop offset=".031" stop-color="#bbff44"/><stop offset=".052" stop-color="#feff01"/><stop offset=".1" stop-color="#ff6d00"/><stop offset=".128" stop-color="#ff2600"/><stop offset=".141" stop-color="#ff0900"/><stop offset=".148" stop-color="#fa0000"/><stop offset=".176" stop-color="#cd0000"/><stop offset=".203" stop-color="#ae0000"/><stop offset=".238" stop-color="#990000"/><stop offset=".272" stop-color="#970000"/><stop offset=".307" stop-color="#a60000"/><stop offset=".334" stop-color="#c10000"/><stop offset=".362" stop-color="#e90000"/><stop offset=".376" stop-color="#ff0300"/><stop offset=".403" stop-color="#ff4100"/><stop offset=".438" stop-color="#ffa100"/><stop offset=".466" stop-color="#fff800"/><stop offset=".472" stop-color="#f0ff0f"/><stop offset=".507" stop-color="#86ff79"/><stop offset=".521" stop-color="#5fffa0"/><stop offset=".548" stop-color="#00fdff"/><stop offset=".583" stop-color="#0085ff"/><stop offset=".61" stop-color="#0034ff"/><stop offset=".631" stop-color="#0002ff"/><stop offset=".666" stop-color="#0000c6"/><stop offset=".693" stop-color="#0000a9"/><stop offset=".728" stop-color="#000096"/><stop offset=".769" stop-color="#000091"/><stop offset=".81" stop-color="#00009d"/><stop offset=".845" stop-color="#0000ba"/><stop offset=".872" stop-color="#0000e2"/><stop offset=".886" stop-color="#0000fc"/><stop offset=".9" stop-color="#001cff"/><stop offset=".928" stop-color="#0067ff"/><stop offset=".962" stop-color="#00dbff"/><stop offset=".969" stop-color="#00f3ff"/><stop offset=".976" stop-color="#0dfff2"/><stop offset=".997" stop-color="#57ffa8"/><stop offset="1" stop-color="#57ffa8"/></linearGradient><linearGradient id="c39"><stop offset="0" stop-color="#6dff92"/><stop offset=".003" stop-color="#6dff92"/><stop offset=".031" stop-color="#bcff43"/><stop offset=".052" stop-color="#feff01"/><stop offset=".1" stop-color="#ff6e00"/><stop offset=".128" stop-color="#ff2800"/><stop offset=".141" stop-color="#ff0a00"/><stop offset=".148" stop-color="#fc0000"/><stop offset=".176" stop-color="#cf0000"/><stop offset=".203" stop-color="#b10000"/><stop offset=".238" stop-color="#9d0000"/><stop offset=".272" stop-color="#9a0000"/><stop offset=".307" stop-color="#a90000"/><stop offset=".341" stop-color="#cc0000"/><stop offset=".369" stop-color="#f70000"/><stop offset=".376" stop-color="#ff0500"/><stop offset=".403" stop-color="#ff4300"/><stop offset=".438" stop-color="#ffa200"/><stop offset=".466" stop-color="#fff800"/><stop offset=".472" stop-color="#f0ff0f"/><stop offset=".507" stop-color="#87ff78"/><stop offset=".521" stop-color="#5fffa0"/><stop offset=".548" stop-color="#00fdff"/><stop offset=".583" stop-color="#0086ff"/><stop offset=".61" stop-color="#0035ff"/><stop offset=".631" stop-color="#0004ff"/><stop offset=".645" stop-color="#0000e8"/><stop offset=".672" stop-color="#0000c0"/><stop offset=".707" stop-color="#0000a2"/><stop offset=".748" stop-color="#000094"/><stop offset=".79" stop-color="#000098"/><stop offset=".824" stop-color="#0000a9"/><stop offset=".852" stop-color="#0000c5"/><stop offset=".879" stop-color="#0000f0"/><stop offset=".886" stop-color="#0000fe"/><stop offset=".907" stop-color="#002eff"/><stop offset=".934" stop-color="#007eff"/><stop offset=".969" stop-color="#00f3ff"/><stop offset=".976" stop-color="#0dfff2"/><stop offset=".997" stop-color="#56ffa9"/><stop offset="1" stop-color="#56ffa9"/></linearGradient><linearGradient id="c40"><stop offset="0" stop-color="#6dff92"/><stop offset=".003" stop-color="#6dff92"/><stop offset=".031" stop-color="#bcff43"/><stop offset=".052" stop-color="#feff01"/><stop offset=".1" stop-color="#ff6f00"/><stop offset=".128" stop-color="#ff2a00"/><stop offset=".148" stop-color="#fe0000"/><stop offset=".176" stop-color="#d20000"/><stop offset=".21" stop-color="#ae0000"/><stop offset=".245" stop-color="#9e0000"/><stop offset=".279" stop-color="#9f0000"/><stop offset=".314" stop-color="#b20000"/><stop offset=".341" stop-color="#cf0000"/><stop offset=".369" stop-color="#f90000"/><stop offset=".376" stop-color="#ff0700"/><stop offset=".403" stop-color="#ff4400"/><stop offset=".438" stop-color="#ffa200"/><stop offset=".466" stop-color="#fff800"/><stop offset=".472" stop-color="#f0ff0f"/><stop offset=".507" stop-color="#87ff78"/><stop offset=".521" stop-color="#5fffa0"/><stop offset=".548" stop-color="#00fdff"/><stop offset=".583" stop-color="#0087ff"/><stop offset=".61" stop-color="#0037ff"/><stop offset=".631" stop-color="#0006ff"/><stop offset=".638" stop-color="#0000f7"/><stop offset=".666" stop-color="#0000cb"/><stop offset=".693" stop-color="#0000ae"/><stop offset=".728" stop-color="#00009c"/><stop offset=".769" stop-color="#000097"/><stop offset=".81" stop-color="#0000a4"/><stop offset=".845" stop-color="#0000bf"/><stop offset=".872" stop-color="#0000e6"/><stop offset=".886" stop-color="#0001ff"/><stop offset=".914" stop-color="#0042ff"/><stop offset=".941" stop-color="#0094ff"/><stop offset=".969" stop-color="#00f3ff"/><stop offset=".976" stop-color="#0dfff2"/><stop offset=".997" stop-color="#56ffa9"/><stop offset="1" stop-color="#56ffa9"/></linearGradient><linearGradient id="c41"><stop offset="0" stop-color="#6dff92"/><stop offset=".003" stop-color="#6dff92"/><stop offset=".031" stop-color="#bcff43"/><stop offset=".052" stop-color="#fdff02"/><stop offset=".1" stop-color="#ff7000"/><stop offset=".128" stop-color="#ff2c00"/><stop offset=".148" stop-color="#ff0100"/><stop offset=".183" stop-color="#cc0000"/><stop offset=".217" stop-color="#ad0000"/><stop offset=".252" stop-color="#a00000"/><stop offset=".286" stop-color="#a50000"/><stop offset=".321" stop-color="#bb0000"/><stop offset=".348" stop-color="#db0000"/><stop offset=".369" stop-color="#fc0000"/><stop offset=".383" stop-color="#ff1700"/><stop offset=".41" stop-color="#ff5700"/><stop offset=".445" stop-color="#ffb800"/><stop offset=".466" stop-color="#fff800"/><stop offset=".472" stop-color="#f0ff0f"/><stop offset=".507" stop-color="#87ff78"/><stop offset=".521" stop-color="#5fffa0"/><stop offset=".548" stop-color="#00fdff"/><stop offset=".583" stop-color="#0088ff"/><stop offset=".61" stop-color="#0038ff"/><stop offset=".631" stop-color="#0008ff"/><stop offset=".638" stop-color="#0000fa"/><stop offset=".666" stop-color="#0000ce"/><stop offset=".693" stop-color="#0000b2"/><stop offset=".728" stop-color="#00009f"/><stop offset=".769" stop-color="#00009b"/><stop offset=".81" stop-color="#0000a7"/><stop offset=".845" stop-color="#0000c2"/><stop offset=".872" stop-color="#0000e8"/><stop offset=".886" stop-color="#0003ff"/><stop offset=".914" stop-color="#0044ff"/><stop offset=".941" stop-color="#0095ff"/><stop offset=".969" stop-color="#00f4ff"/><stop offset=".976" stop-color="#0dfff2"/><stop offset=".997" stop-color="#56ffa9"/><stop offset="1" stop-color="#56ffa9"/></linearGradient><linearGradient id="c42"><stop offset="0" stop-color="#6dff92"/><stop offset=".003" stop-color="#6dff92"/><stop offset=".031" stop-color="#bcff43"/><stop offset=".052" stop-color="#fdff02"/><stop offset=".1" stop-color="#ff7100"/><stop offset=".128" stop-color="#ff2e00"/><stop offset=".148" stop-color="#ff0400"/><stop offset=".162" stop-color="#eb0000"/><stop offset=".19" stop-color="#c70000"/><stop offset=".224" stop-color="#ac0000"/><stop offset=".259" stop-color="#a30000"/><stop offset=".293" stop-color="#ab0000"/><stop offset=".328" stop-color="#c40000"/><stop offset=".355" stop-color="#e70000"/><stop offset=".369" stop-color="#fe0000"/><stop offset=".397" stop-color="#ff3700"/><stop offset=".431" stop-color="#ff9000"/><stop offset=".466" stop-color="#fff900"/><stop offset=".472" stop-color="#efff10"/><stop offset=".507" stop-color="#87ff78"/><stop offset=".521" stop-color="#5fffa0"/><stop offset=".548" stop-color="#00fdff"/><stop offset=".583" stop-color="#0089ff"/><stop offset=".61" stop-color="#003aff"/><stop offset=".631" stop-color="#000bff"/><stop offset=".638" stop-color="#0000fc"/><stop offset=".666" stop-color="#0000d0"/><stop offset=".693" stop-color="#0000b5"/><stop offset=".728" stop-color="#0000a3"/><stop offset=".769" stop-color="#00009e"/><stop offset=".81" stop-color="#0000aa"/><stop offset=".845" stop-color="#0000c5"/><stop offset=".872" stop-color="#0000eb"/><stop offset=".879" stop-color="#0000f7"/><stop offset=".886" stop-color="#0005ff"/><stop offset=".914" stop-color="#0045ff"/><stop offset=".941" stop-color="#0096ff"/><stop offset=".969" stop-color="#00f4ff"/><stop offset=".976" stop-color="#0dfff2"/><stop offset=".997" stop-color="#56ffa9"/><stop offset="1" stop-color="#56ffa9"/></linearGradient><linearGradient id="c43"><stop offset="0" stop-color="#6dff92"/><stop offset=".003" stop-color="#6dff92"/><stop offset=".038" stop-color="#d1ff2e"/><stop offset=".052" stop-color="#fcff03"/><stop offset=".1" stop-color="#ff7300"/><stop offset=".128" stop-color="#ff3000"/><stop offset=".148" stop-color="#ff0600"/><stop offset=".155" stop-color="#f90000"/><stop offset=".183" stop-color="#d20000"/><stop offset=".217" stop-color="#b40000"/><stop offset=".252" stop-color="#a70000"/><stop offset=".286" stop-color="#ac0000"/><stop offset=".321" stop-color="#c10000"/><stop offset=".348" stop-color="#e00000"/><stop offset=".369" stop-color="#ff0200"/><stop offset=".397" stop-color="#ff3900"/><stop offset=".431" stop-color="#ff9200"/><stop offset=".466" stop-color="#fff900"/><stop offset=".472" stop-color="#efff10"/><stop offset=".507" stop-color="#87ff78"/><stop offset=".521" stop-color="#5fffa0"/><stop offset=".548" stop-color="#00feff"/><stop offset=".583" stop-color="#008aff"/><stop offset=".61" stop-color="#003cff"/><stop offset=".631" stop-color="#000dff"/><stop offset=".638" stop-color="#0000fe"/><stop offset=".666" stop-color="#0000d3"/><stop offset=".693" stop-color="#0000b8"/><stop offset=".728" stop-color="#0000a6"/><stop offset=".769" stop-color="#0000a2"/><stop offset=".81" stop-color="#0000ae"/><stop offset=".845" stop-color="#0000c8"/><stop offset=".872" stop-color="#0000ee"/><stop offset=".879" stop-color="#0000fa"/><stop offset=".886" stop-color="#0008ff"/><stop offset=".914" stop-color="#0047ff"/><stop offset=".941" stop-color="#0098ff"/><stop offset=".969" stop-color="#00f5ff"/><stop offset=".976" stop-color="#0efff1"/><stop offset=".997" stop-color="#56ffa9"/><stop offset="1" stop-color="#56ffa9"/></linearGradient><linearGradient id="c44"><stop offset="0" stop-color="#6dff92"/><stop offset=".003" stop-color="#6dff92"/><stop offset=".038" stop-color="#d1ff2e"/><stop offset=".052" stop-color="#fcff03"/><stop offset=".072" stop-color="#ffc300"/><stop offset=".107" stop-color="#ff6300"/><stop offset=".134" stop-color="#ff2400"/><stop offset=".155" stop-color="#fd0000"/><stop offset=".183" stop-color="#d60000"/><stop offset=".217" stop-color="#b80000"/><stop offset=".252" stop-color="#ab0000"/><stop offset=".286" stop-color="#b00000"/><stop offset=".321" stop-color="#c50000"/><stop offset=".355" stop-color="#ee0000"/><stop offset=".369" stop-color="#ff0500"/><stop offset=".397" stop-color="#ff3c00"/><stop offset=".431" stop-color="#ff9300"/><stop offset=".466" stop-color="#fffa00"/><stop offset=".479" stop-color="#d9ff26"/><stop offset=".507" stop-color="#87ff78"/><stop offset=".521" stop-color="#5fffa0"/><stop offset=".548" stop-color="#00feff"/><stop offset=".583" stop-color="#008cff"/><stop offset=".61" stop-color="#003eff"/><stop offset=".638" stop-color="#0002ff"/><stop offset=".672" stop-color="#0000cf"/><stop offset=".707" stop-color="#0000b3"/><stop offset=".748" stop-color="#0000a6"/><stop offset=".79" stop-color="#0000a9"/><stop offset=".824" stop-color="#0000ba"/><stop offset=".852" stop-color="#0000d4"/><stop offset=".879" stop-color="#0000fd"/><stop offset=".893" stop-color="#0018ff"/><stop offset=".921" stop-color="#005cff"/><stop offset=".948" stop-color="#00afff"/><stop offset=".969" stop-color="#00f5ff"/><stop offset=".976" stop-color="#0efff1"/><stop offset=".997" stop-color="#56ffa9"/><stop offset="1" stop-color="#56ffa9"/></linearGradient><linearGradient id="c45"><stop offset="0" stop-color="#6dff92"/><stop offset=".003" stop-color="#6dff92"/><stop offset=".038" stop-color="#d0ff2f"/><stop offset=".052" stop-color="#fbff04"/><stop offset=".066" stop-color="#ffd900"/><stop offset=".1" stop-color="#ff7800"/><stop offset=".134" stop-color="#ff2700"/><stop offset=".155" stop-color="#ff0200"/><stop offset=".19" stop-color="#d30000"/><stop offset=".224" stop-color="#b80000"/><stop offset=".259" stop-color="#b00000"/><stop offset=".293" stop-color="#b70000"/><stop offset=".328" stop-color="#d00000"/><stop offset=".355" stop-color="#f20000"/><stop offset=".362" stop-color="#fc0000"/><stop offset=".376" stop-color="#ff1500"/><stop offset=".403" stop-color="#ff4f00"/><stop offset=".438" stop-color="#ffa900"/><stop offset=".466" stop-color="#fffb00"/><stop offset=".486" stop-color="#c3ff3c"/><stop offset=".521" stop-color="#5fffa0"/><stop offset=".548" stop-color="#00ffff"/><stop offset=".583" stop-color="#008eff"/><stop offset=".61" stop-color="#0041ff"/><stop offset=".638" stop-color="#0006ff"/><stop offset=".645" stop-color="#0000f8"/><stop offset=".672" stop-color="#0000d2"/><stop offset=".707" stop-color="#0000b7"/><stop offset=".748" stop-color="#0000aa"/><stop offset=".79" stop-color="#0000ae"/><stop offset=".824" stop-color="#0000be"/><stop offset=".852" stop-color="#0000d7"/><stop offset=".879" stop-color="#0001ff"/><stop offset=".907" stop-color="#003bff"/><stop offset=".934" stop-color="#0086ff"/><stop offset=".969" stop-color="#00f6ff"/><stop offset=".976" stop-color="#0ffff0"/><stop offset=".997" stop-color="#56ffa9"/><stop offset="1" stop-color="#56ffa9"/></linearGradient><linearGradient id="c46"><stop offset="0" stop-color="#6dff92"/><stop offset=".003" stop-color="#6dff92"/><stop offset=".038" stop-color="#cfff30"/><stop offset=".052" stop-color="#f9ff06"/><stop offset=".059" stop-color="#fff000"/><stop offset=".1" stop-color="#ff7a00"/><stop offset=".134" stop-color="#ff2b00"/><stop offset=".155" stop-color="#ff0600"/><stop offset=".162" stop-color="#fa0000"/><stop offset=".197" stop-color="#d10000"/><stop offset=".231" stop-color="#ba0000"/><stop offset=".266" stop-color="#b50000"/><stop offset=".3" stop-color="#c00000"/><stop offset=".334" stop-color="#dc0000"/><stop offset=".362" stop-color="#ff0100"/><stop offset=".39" stop-color="#ff3400"/><stop offset=".424" stop-color="#ff8600"/><stop offset=".466" stop-color="#fffd00"/><stop offset=".507" stop-color="#87ff78"/><stop offset=".521" stop-color="#5fffa0"/><stop offset=".548" stop-color="#02fffd"/><stop offset=".59" stop-color="#007bff"/><stop offset=".617" stop-color="#0034ff"/><stop offset=".638" stop-color="#0009ff"/><stop offset=".645" stop-color="#0000fc"/><stop offset=".672" stop-color="#0000d7"/><stop offset=".707" stop-color="#0000bb"/><stop offset=".748" stop-color="#0000af"/><stop offset=".79" stop-color="#0000b2"/><stop offset=".824" stop-color="#0000c2"/><stop offset=".852" stop-color="#0000db"/><stop offset=".872" stop-color="#0000f8"/><stop offset=".879" stop-color="#0004ff"/><stop offset=".907" stop-color="#003eff"/><stop offset=".934" stop-color="#0088ff"/><stop offset=".969" stop-color="#00f8ff"/><stop offset=".976" stop-color="#10ffef"/><stop offset=".997" stop-color="#57ffa8"/><stop offset="1" stop-color="#57ffa8"/></linearGradient><linearGradient id="c47"><stop offset="0" stop-color="#6dff92"/><stop offset=".003" stop-color="#6dff92"/><stop offset=".038" stop-color="#ceff31"/><stop offset=".052" stop-color="#f7ff08"/><stop offset=".059" stop-color="#fff200"/><stop offset=".1" stop-color="#ff7e00"/><stop offset=".134" stop-color="#ff3000"/><stop offset=".162" stop-color="#ff0000"/><stop offset=".197" stop-color="#d60000"/><stop offset=".231" stop-color="#c00000"/><stop offset=".266" stop-color="#bb0000"/><stop offset=".3" stop-color="#c50000"/><stop offset=".334" stop-color="#e10000"/><stop offset=".355" stop-color="#fb0000"/><stop offset=".369" stop-color="#ff1200"/><stop offset=".397" stop-color="#ff4700"/><stop offset=".431" stop-color="#ff9c00"/><stop offset=".466" stop-color="#ffff00"/><stop offset=".507" stop-color="#86ff79"/><stop offset=".521" stop-color="#60ff9f"/><stop offset=".548" stop-color="#04fffb"/><stop offset=".569" stop-color="#00beff"/><stop offset=".597" stop-color="#006cff"/><stop offset=".624" stop-color="#002aff"/><stop offset=".645" stop-color="#0003ff"/><stop offset=".679" stop-color="#0000d5"/><stop offset=".714" stop-color="#0000bd"/><stop offset=".755" stop-color="#0000b3"/><stop offset=".797" stop-color="#0000b9"/><stop offset=".831" stop-color="#0000cd"/><stop offset=".859" stop-color="#0000e9"/><stop offset=".872" stop-color="#0000fd"/><stop offset=".893" stop-color="#0024ff"/><stop offset=".921" stop-color="#0065ff"/><stop offset=".955" stop-color="#00ccff"/><stop offset=".969" stop-color="#00faff"/><stop offset=".976" stop-color="#12ffed"/><stop offset=".997" stop-color="#58ffa7"/><stop offset="1" stop-color="#58ffa7"/></linearGradient><linearGradient id="c48"><stop offset="0" stop-color="#6eff91"/><stop offset=".003" stop-color="#6eff91"/><stop offset=".038" stop-color="#ccff33"/><stop offset=".052" stop-color="#f5ff0a"/><stop offset=".059" stop-color="#fff400"/><stop offset=".1" stop-color="#ff8200"/><stop offset=".134" stop-color="#ff3500"/><stop offset=".162" stop-color="#ff0600"/><stop offset=".169" stop-color="#fb0000"/><stop offset=".203" stop-color="#d60000"/><stop offset=".238" stop-color="#c30000"/><stop offset=".272" stop-color="#c10000"/><stop offset=".307" stop-color="#cf0000"/><stop offset=".341" stop-color="#ef0000"/><stop offset=".355" stop-color="#ff0200"/><stop offset=".39" stop-color="#ff3e00"/><stop offset=".424" stop-color="#ff8d00"/><stop offset=".466" stop-color="#fdff02"/><stop offset=".507" stop-color="#86ff79"/><stop offset=".521" stop-color="#61ff9e"/><stop offset=".548" stop-color="#06fff9"/><stop offset=".555" stop-color="#00eeff"/><stop offset=".59" stop-color="#0084ff"/><stop offset=".617" stop-color="#003eff"/><stop offset=".645" stop-color="#0008ff"/><stop offset=".652" stop-color="#0000fc"/><stop offset=".679" stop-color="#0000db"/><stop offset=".714" stop-color="#0000c2"/><stop offset=".755" stop-color="#0000b8"/><stop offset=".797" stop-color="#0000bf"/><stop offset=".831" stop-color="#0000d2"/><stop offset=".859" stop-color="#0000ef"/><stop offset=".872" stop-color="#0004ff"/><stop offset=".9" stop-color="#0038ff"/><stop offset=".928" stop-color="#007dff"/><stop offset=".962" stop-color="#00e6ff"/><stop offset=".969" stop-color="#00fcff"/><stop offset=".997" stop-color="#58ffa7"/><stop offset="1" stop-color="#58ffa7"/></linearGradient><linearGradient id="c49"><stop offset="0" stop-color="#6eff91"/><stop offset=".003" stop-color="#6eff91"/><stop offset=".038" stop-color="#cbff34"/><stop offset=".052" stop-color="#f3ff0c"/><stop offset=".059" stop-color="#fff700"/><stop offset=".1" stop-color="#ff8700"/><stop offset=".134" stop-color="#ff3a00"/><stop offset=".169" stop-color="#ff0200"/><stop offset=".203" stop-color="#dc0000"/><stop offset=".238" stop-color="#c90000"/><stop offset=".272" stop-color="#c70000"/><stop offset=".307" stop-color="#d50000"/><stop offset=".341" stop-color="#f50000"/><stop offset=".348" stop-color="#fd0000"/><stop offset=".369" stop-color="#ff1d00"/><stop offset=".403" stop-color="#ff6000"/><stop offset=".438" stop-color="#ffb600"/><stop offset=".459" stop-color="#ffef00"/><stop offset=".466" stop-color="#fbff04"/><stop offset=".507" stop-color="#86ff79"/><stop offset=".521" stop-color="#61ff9e"/><stop offset=".548" stop-color="#08fff7"/><stop offset=".555" stop-color="#00f1ff"/><stop offset=".59" stop-color="#0089ff"/><stop offset=".617" stop-color="#0043ff"/><stop offset=".645" stop-color="#000eff"/><stop offset=".652" stop-color="#0003ff"/><stop offset=".679" stop-color="#0000e0"/><stop offset=".714" stop-color="#0000c8"/><stop offset=".755" stop-color="#0000be"/><stop offset=".797" stop-color="#0000c4"/><stop offset=".831" stop-color="#0000d8"/><stop offset=".859" stop-color="#0000f5"/><stop offset=".866" stop-color="#0000fe"/><stop offset=".893" stop-color="#002fff"/><stop offset=".921" stop-color="#006fff"/><stop offset=".955" stop-color="#00d3ff"/><stop offset=".969" stop-color="#00ffff"/><stop offset=".997" stop-color="#59ffa6"/><stop offset="1" stop-color="#59ffa6"/></linearGradient><linearGradient id="c50"><stop offset="0" stop-color="#6fff90"/><stop offset=".003" stop-color="#6fff90"/><stop offset=".038" stop-color="#c9ff36"/><stop offset=".052" stop-color="#f1ff0e"/><stop offset=".059" stop-color="#fffa00"/><stop offset=".1" stop-color="#ff8b00"/><stop offset=".134" stop-color="#ff4000"/><stop offset=".169" stop-color="#ff0700"/><stop offset=".176" stop-color="#fe0000"/><stop offset=".21" stop-color="#dd0000"/><stop offset=".245" stop-color="#cd0000"/><stop offset=".279" stop-color="#ce0000"/><stop offset=".314" stop-color="#e00000"/><stop offset=".341" stop-color="#fa0000"/><stop offset=".348" stop-color="#ff0400"/><stop offset=".383" stop-color="#ff3b00"/><stop offset=".417" stop-color="#ff8500"/><stop offset=".459" stop-color="#fff200"/><stop offset=".466" stop-color="#f8ff07"/><stop offset=".507" stop-color="#86ff79"/><stop offset=".521" stop-color="#62ff9d"/><stop offset=".548" stop-color="#0bfff4"/><stop offset=".555" stop-color="#00f4ff"/><stop offset=".59" stop-color="#008dff"/><stop offset=".617" stop-color="#0049ff"/><stop offset=".645" stop-color="#0014ff"/><stop offset=".659" stop-color="#0000fe"/><stop offset=".693" stop-color="#0000da"/><stop offset=".728" stop-color="#0000c8"/><stop offset=".769" stop-color="#0000c3"/><stop offset=".81" stop-color="#0000d0"/><stop offset=".845" stop-color="#0000eb"/><stop offset=".859" stop-color="#0000fb"/><stop offset=".866" stop-color="#0005ff"/><stop offset=".893" stop-color="#0035ff"/><stop offset=".921" stop-color="#0074ff"/><stop offset=".955" stop-color="#00d6ff"/><stop offset=".969" stop-color="#03fffc"/><stop offset=".997" stop-color="#5affa5"/><stop offset="1" stop-color="#5affa5"/></linearGradient><linearGradient id="c51"><stop offset="0" stop-color="#6fff90"/><stop offset=".003" stop-color="#6fff90"/><stop offset=".038" stop-color="#c8ff37"/><stop offset=".059" stop-color="#fffc00"/><stop offset=".1" stop-color="#ff8f00"/><stop offset=".134" stop-color="#ff4500"/><stop offset=".169" stop-color="#ff0d00"/><stop offset=".183" stop-color="#fb0000"/><stop offset=".217" stop-color="#de0000"/><stop offset=".252" stop-color="#d20000"/><stop offset=".286" stop-color="#d70000"/><stop offset=".321" stop-color="#eb0000"/><stop offset=".341" stop-color="#ff0100"/><stop offset=".376" stop-color="#ff3400"/><stop offset=".41" stop-color="#ff7900"/><stop offset=".452" stop-color="#ffe200"/><stop offset=".459" stop-color="#fff500"/><stop offset=".466" stop-color="#f6ff09"/><stop offset=".507" stop-color="#86ff79"/><stop offset=".521" stop-color="#63ff9c"/><stop offset=".548" stop-color="#0dfff2"/><stop offset=".555" stop-color="#00f7ff"/><stop offset=".59" stop-color="#0092ff"/><stop offset=".617" stop-color="#004eff"/><stop offset=".645" stop-color="#001aff"/><stop offset=".659" stop-color="#0005ff"/><stop offset=".666" stop-color="#0000fb"/><stop offset=".7" stop-color="#0000db"/><stop offset=".734" stop-color="#0000cb"/><stop offset=".776" stop-color="#0000ca"/><stop offset=".817" stop-color="#0000d9"/><stop offset=".852" stop-color="#0000f8"/><stop offset=".859" stop-color="#0002ff"/><stop offset=".886" stop-color="#002dff"/><stop offset=".914" stop-color="#0068ff"/><stop offset=".948" stop-color="#00c5ff"/><stop offset=".962" stop-color="#00efff"/><stop offset=".969" stop-color="#05fffa"/><stop offset=".997" stop-color="#5bffa4"/><stop offset="1" stop-color="#5bffa4"/></linearGradient><linearGradient id="c52"><stop offset="0" stop-color="#6fff90"/><stop offset=".003" stop-color="#6fff90"/><stop offset=".038" stop-color="#c6ff39"/><stop offset=".059" stop-color="#ffff00"/><stop offset=".1" stop-color="#ff9400"/><stop offset=".134" stop-color="#ff4a00"/><stop offset=".169" stop-color="#ff1300"/><stop offset=".183" stop-color="#ff0200"/><stop offset=".224" stop-color="#e00000"/><stop offset=".259" stop-color="#d80000"/><stop offset=".293" stop-color="#df0000"/><stop offset=".328" stop-color="#f70000"/><stop offset=".334" stop-color="#fe0000"/><stop offset=".362" stop-color="#ff2300"/><stop offset=".397" stop-color="#ff6000"/><stop offset=".431" stop-color="#ffaf00"/><stop offset=".459" stop-color="#fff800"/><stop offset=".466" stop-color="#f4ff0b"/><stop offset=".507" stop-color="#86ff79"/><stop offset=".521" stop-color="#63ff9c"/><stop offset=".548" stop-color="#10ffef"/><stop offset=".555" stop-color="#00faff"/><stop offset=".59" stop-color="#0097ff"/><stop offset=".617" stop-color="#0054ff"/><stop offset=".645" stop-color="#0020ff"/><stop offset=".666" stop-color="#0002ff"/><stop offset=".707" stop-color="#0000dc"/><stop offset=".748" stop-color="#0000ce"/><stop offset=".79" stop-color="#0000d2"/><stop offset=".824" stop-color="#0000e4"/><stop offset=".852" stop-color="#0000fe"/><stop offset=".879" stop-color="#0027ff"/><stop offset=".907" stop-color="#005dff"/><stop offset=".941" stop-color="#00b5ff"/><stop offset=".962" stop-color="#00f2ff"/><stop offset=".969" stop-color="#08fff7"/><stop offset=".997" stop-color="#5cffa3"/><stop offset="1" stop-color="#5cffa3"/></linearGradient><linearGradient id="c53"><stop offset="0" stop-color="#70ff8f"/><stop offset=".003" stop-color="#70ff8f"/><stop offset=".038" stop-color="#c5ff3a"/><stop offset=".059" stop-color="#fdff02"/><stop offset=".107" stop-color="#ff8800"/><stop offset=".141" stop-color="#ff4300"/><stop offset=".176" stop-color="#ff1000"/><stop offset=".19" stop-color="#ff0000"/><stop offset=".224" stop-color="#e60000"/><stop offset=".259" stop-color="#dd0000"/><stop offset=".293" stop-color="#e50000"/><stop offset=".328" stop-color="#fd0000"/><stop offset=".348" stop-color="#ff1500"/><stop offset=".383" stop-color="#ff4a00"/><stop offset=".417" stop-color="#ff9200"/><stop offset=".459" stop-color="#fffa00"/><stop offset=".472" stop-color="#dfff20"/><stop offset=".507" stop-color="#86ff79"/><stop offset=".521" stop-color="#64ff9b"/><stop offset=".555" stop-color="#00fdff"/><stop offset=".59" stop-color="#009bff"/><stop offset=".617" stop-color="#0059ff"/><stop offset=".645" stop-color="#0025ff"/><stop offset=".672" stop-color="#0000ff"/><stop offset=".707" stop-color="#0000e2"/><stop offset=".748" stop-color="#0000d4"/><stop offset=".79" stop-color="#0000d8"/><stop offset=".824" stop-color="#0000e9"/><stop offset=".845" stop-color="#0000fc"/><stop offset=".859" stop-color="#000eff"/><stop offset=".886" stop-color="#0039ff"/><stop offset=".914" stop-color="#0072ff"/><stop offset=".948" stop-color="#00cdff"/><stop offset=".962" stop-color="#00f5ff"/><stop offset=".969" stop-color="#0bfff4"/><stop offset=".997" stop-color="#5dffa2"/><stop offset="1" stop-color="#5dffa2"/></linearGradient><linearGradient id="c54"><stop offset="0" stop-color="#70ff8f"/><stop offset=".003" stop-color="#70ff8f"/><stop offset=".038" stop-color="#c3ff3c"/><stop offset=".059" stop-color="#faff05"/><stop offset=".072" stop-color="#ffe000"/><stop offset=".114" stop-color="#ff7d00"/><stop offset=".148" stop-color="#ff3c00"/><stop offset=".183" stop-color="#ff0d00"/><stop offset=".197" stop-color="#ff0000"/><stop offset=".231" stop-color="#e90000"/><stop offset=".266" stop-color="#e30000"/><stop offset=".3" stop-color="#ee0000"/><stop offset=".321" stop-color="#fc0000"/><stop offset=".334" stop-color="#ff0a00"/><stop offset=".369" stop-color="#ff3800"/><stop offset=".403" stop-color="#ff7800"/><stop offset=".445" stop-color="#ffd900"/><stop offset=".459" stop-color="#fffd00"/><stop offset=".507" stop-color="#85ff7a"/><stop offset=".521" stop-color="#65ff9a"/><stop offset=".555" stop-color="#01fffe"/><stop offset=".597" stop-color="#008eff"/><stop offset=".624" stop-color="#0051ff"/><stop offset=".652" stop-color="#0021ff"/><stop offset=".679" stop-color="#0000fe"/><stop offset=".714" stop-color="#0000e4"/><stop offset=".755" stop-color="#0000d8"/><stop offset=".797" stop-color="#0000df"/><stop offset=".831" stop-color="#0000f5"/><stop offset=".845" stop-color="#0003ff"/><stop offset=".872" stop-color="#0027ff"/><stop offset=".9" stop-color="#0059ff"/><stop offset=".934" stop-color="#00abff"/><stop offset=".962" stop-color="#00f8ff"/><stop offset=".969" stop-color="#0dfff2"/><stop offset=".997" stop-color="#5effa1"/><stop offset="1" stop-color="#5effa1"/></linearGradient><linearGradient id="c55"><stop offset="0" stop-color="#71ff8e"/><stop offset=".003" stop-color="#71ff8e"/><stop offset=".031" stop-color="#b0ff4f"/><stop offset=".059" stop-color="#f8ff07"/><stop offset=".066" stop-color="#fff500"/><stop offset=".107" stop-color="#ff9100"/><stop offset=".141" stop-color="#ff4d00"/><stop offset=".176" stop-color="#ff1b00"/><stop offset=".203" stop-color="#fe0000"/><stop offset=".238" stop-color="#ec0000"/><stop offset=".272" stop-color="#e90000"/><stop offset=".307" stop-color="#f80000"/><stop offset=".321" stop-color="#ff0300"/><stop offset=".355" stop-color="#ff2900"/><stop offset=".39" stop-color="#ff6100"/><stop offset=".424" stop-color="#ffaa00"/><stop offset=".459" stop-color="#feff01"/><stop offset=".507" stop-color="#85ff7a"/><stop offset=".521" stop-color="#66ff99"/><stop offset=".555" stop-color="#04fffb"/><stop offset=".576" stop-color="#00c9ff"/><stop offset=".61" stop-color="#0073ff"/><stop offset=".638" stop-color="#003dff"/><stop offset=".666" stop-color="#0014ff"/><stop offset=".686" stop-color="#0000fd"/><stop offset=".721" stop-color="#0000e6"/><stop offset=".762" stop-color="#0000de"/><stop offset=".803" stop-color="#0000e8"/><stop offset=".838" stop-color="#0002ff"/><stop offset=".872" stop-color="#002dff"/><stop offset=".9" stop-color="#005fff"/><stop offset=".934" stop-color="#00b0ff"/><stop offset=".962" stop-color="#00fbff"/><stop offset=".976" stop-color="#24ffdb"/><stop offset=".997" stop-color="#5fffa0"/><stop offset="1" stop-color="#5fffa0"/></linearGradient><linearGradient id="c56"><stop offset="0" stop-color="#71ff8e"/><stop offset=".003" stop-color="#71ff8e"/><stop offset=".031" stop-color="#afff50"/><stop offset=".059" stop-color="#f5ff0a"/><stop offset=".066" stop-color="#fff800"/><stop offset=".107" stop-color="#ff9500"/><stop offset=".141" stop-color="#ff5200"/><stop offset=".176" stop-color="#ff2000"/><stop offset=".21" stop-color="#ff0000"/><stop offset=".245" stop-color="#f00000"/><stop offset=".279" stop-color="#f10000"/><stop offset=".314" stop-color="#ff0300"/><stop offset=".348" stop-color="#ff2500"/><stop offset=".383" stop-color="#ff5a00"/><stop offset=".417" stop-color="#ff9f00"/><stop offset=".452" stop-color="#fff100"/><stop offset=".459" stop-color="#fcff03"/><stop offset=".507" stop-color="#85ff7a"/><stop offset=".521" stop-color="#66ff99"/><stop offset=".555" stop-color="#07fff8"/><stop offset=".562" stop-color="#00f2ff"/><stop offset=".603" stop-color="#0088ff"/><stop offset=".638" stop-color="#0043ff"/><stop offset=".672" stop-color="#0012ff"/><stop offset=".693" stop-color="#0000fd"/><stop offset=".728" stop-color="#0000e9"/><stop offset=".769" stop-color="#0000e4"/><stop offset=".81" stop-color="#0000f2"/><stop offset=".831" stop-color="#0001ff"/><stop offset=".866" stop-color="#0029ff"/><stop offset=".893" stop-color="#0057ff"/><stop offset=".928" stop-color="#00a3ff"/><stop offset=".962" stop-color="#00feff"/><stop offset=".997" stop-color="#5fffa0"/><stop offset="1" stop-color="#5fffa0"/></linearGradient><linearGradient id="c57"><stop offset="0" stop-color="#72ff8d"/><stop offset=".003" stop-color="#72ff8d"/><stop offset=".031" stop-color="#aeff51"/><stop offset=".059" stop-color="#f2ff0d"/><stop offset=".066" stop-color="#fffb00"/><stop offset=".107" stop-color="#ff9a00"/><stop offset=".141" stop-color="#ff5700"/><stop offset=".176" stop-color="#ff2600"/><stop offset=".21" stop-color="#ff0500"/><stop offset=".224" stop-color="#fc0000"/><stop offset=".259" stop-color="#f40000"/><stop offset=".293" stop-color="#fb0000"/><stop offset=".307" stop-color="#ff0400"/><stop offset=".341" stop-color="#ff2300"/><stop offset=".376" stop-color="#ff5300"/><stop offset=".41" stop-color="#ff9400"/><stop offset=".452" stop-color="#fff400"/><stop offset=".459" stop-color="#f9ff06"/><stop offset=".5" stop-color="#94ff6b"/><stop offset=".521" stop-color="#67ff98"/><stop offset=".555" stop-color="#0afff5"/><stop offset=".562" stop-color="#00f6ff"/><stop offset=".603" stop-color="#008dff"/><stop offset=".638" stop-color="#0049ff"/><stop offset=".672" stop-color="#0018ff"/><stop offset=".7" stop-color="#0000fe"/><stop offset=".734" stop-color="#0000ed"/><stop offset=".776" stop-color="#0000ea"/><stop offset=".81" stop-color="#0000f7"/><stop offset=".824" stop-color="#0002ff"/><stop offset=".859" stop-color="#0026ff"/><stop offset=".893" stop-color="#005dff"/><stop offset=".928" stop-color="#00a8ff"/><stop offset=".962" stop-color="#03fffc"/><stop offset=".997" stop-color="#60ff9f"/><stop offset="1" stop-color="#60ff9f"/></linearGradient><linearGradient id="c58"><stop offset="0" stop-color="#72ff8d"/><stop offset=".003" stop-color="#72ff8d"/><stop offset=".031" stop-color="#acff53"/><stop offset=".066" stop-color="#fffe00"/><stop offset=".114" stop-color="#ff9000"/><stop offset=".148" stop-color="#ff5100"/><stop offset=".183" stop-color="#ff2300"/><stop offset=".217" stop-color="#ff0700"/><stop offset=".238" stop-color="#fd0000"/><stop offset=".272" stop-color="#fa0000"/><stop offset=".293" stop-color="#ff0200"/><stop offset=".328" stop-color="#ff1a00"/><stop offset=".362" stop-color="#ff4300"/><stop offset=".397" stop-color="#ff7d00"/><stop offset=".438" stop-color="#ffd600"/><stop offset=".452" stop-color="#fff700"/><stop offset=".459" stop-color="#f6ff09"/><stop offset=".5" stop-color="#93ff6c"/><stop offset=".521" stop-color="#68ff97"/><stop offset=".555" stop-color="#0dfff2"/><stop offset=".562" stop-color="#00f9ff"/><stop offset=".603" stop-color="#0093ff"/><stop offset=".638" stop-color="#004fff"/><stop offset=".672" stop-color="#001eff"/><stop offset=".707" stop-color="#0000ff"/><stop offset=".741" stop-color="#0000f1"/><stop offset=".783" stop-color="#0000f2"/><stop offset=".817" stop-color="#0003ff"/><stop offset=".852" stop-color="#0023ff"/><stop offset=".886" stop-color="#0056ff"/><stop offset=".921" stop-color="#009cff"/><stop offset=".955" stop-color="#00f2ff"/><stop offset=".962" stop-color="#06fff9"/><stop offset=".997" stop-color="#61ff9e"/><stop offset="1" stop-color="#61ff9e"/></linearGradient><linearGradient id="c59"><stop offset="0" stop-color="#73ff8c"/><stop offset=".003" stop-color="#73ff8c"/><stop offset=".031" stop-color="#abff54"/><stop offset=".066" stop-color="#feff01"/><stop offset=".114" stop-color="#ff9500"/><stop offset=".148" stop-color="#ff5700"/><stop offset=".183" stop-color="#ff2900"/><stop offset=".217" stop-color="#ff0c00"/><stop offset=".252" stop-color="#ff0000"/><stop offset=".286" stop-color="#ff0500"/><stop offset=".321" stop-color="#ff1900"/><stop offset=".355" stop-color="#ff3f00"/><stop offset=".39" stop-color="#ff7500"/><stop offset=".431" stop-color="#ffca00"/><stop offset=".452" stop-color="#fffa00"/><stop offset=".466" stop-color="#e3ff1c"/><stop offset=".507" stop-color="#84ff7b"/><stop offset=".521" stop-color="#69ff96"/><stop offset=".562" stop-color="#00fdff"/><stop offset=".603" stop-color="#0098ff"/><stop offset=".638" stop-color="#0055ff"/><stop offset=".672" stop-color="#0024ff"/><stop offset=".707" stop-color="#0006ff"/><stop offset=".728" stop-color="#0000fb"/><stop offset=".769" stop-color="#0000f5"/><stop offset=".803" stop-color="#0001ff"/><stop offset=".838" stop-color="#001aff"/><stop offset=".872" stop-color="#0045ff"/><stop offset=".907" stop-color="#0084ff"/><stop offset=".941" stop-color="#00d3ff"/><stop offset=".955" stop-color="#00f6ff"/><stop offset=".962" stop-color="#09fff6"/><stop offset=".997" stop-color="#62ff9d"/><stop offset="1" stop-color="#62ff9d"/></linearGradient><linearGradient id="c60"><stop offset="0" stop-color="#73ff8c"/><stop offset=".003" stop-color="#73ff8c"/><stop offset=".031" stop-color="#aaff55"/><stop offset=".066" stop-color="#fbff04"/><stop offset=".079" stop-color="#ffe400"/><stop offset=".121" stop-color="#ff8c00"/><stop offset=".155" stop-color="#ff5200"/><stop offset=".19" stop-color="#ff2800"/><stop offset=".224" stop-color="#ff0f00"/><stop offset=".259" stop-color="#ff0600"/><stop offset=".293" stop-color="#ff0d00"/><stop offset=".328" stop-color="#ff2500"/><stop offset=".362" stop-color="#ff4e00"/><stop offset=".397" stop-color="#ff8700"/><stop offset=".438" stop-color="#ffde00"/><stop offset=".452" stop-color="#fffd00"/><stop offset=".507" stop-color="#84ff7b"/><stop offset=".521" stop-color="#69ff96"/><stop offset=".562" stop-color="#01fffe"/><stop offset=".61" stop-color="#008fff"/><stop offset=".645" stop-color="#0050ff"/><stop offset=".679" stop-color="#0023ff"/><stop offset=".714" stop-color="#0008ff"/><stop offset=".741" stop-color="#0000fc"/><stop offset=".783" stop-color="#0000fe"/><stop offset=".81" stop-color="#000aff"/><stop offset=".845" stop-color="#0028ff"/><stop offset=".879" stop-color="#0057ff"/><stop offset=".914" stop-color="#0098ff"/><stop offset=".955" stop-color="#00faff"/><stop offset=".962" stop-color="#0cfff3"/><stop offset=".997" stop-color="#63ff9c"/><stop offset="1" stop-color="#63ff9c"/></linearGradient><linearGradient id="c61"><stop offset="0" stop-color="#73ff8c"/><stop offset=".003" stop-color="#73ff8c"/><stop offset=".031" stop-color="#a9ff56"/><stop offset=".066" stop-color="#f7ff08"/><stop offset=".072" stop-color="#fff700"/><stop offset=".121" stop-color="#ff9100"/><stop offset=".155" stop-color="#ff5700"/><stop offset=".19" stop-color="#ff2e00"/><stop offset=".224" stop-color="#ff1400"/><stop offset=".259" stop-color="#ff0c00"/><stop offset=".293" stop-color="#ff1300"/><stop offset=".328" stop-color="#ff2b00"/><stop offset=".362" stop-color="#ff5400"/><stop offset=".397" stop-color="#ff8c00"/><stop offset=".438" stop-color="#ffe100"/><stop offset=".452" stop-color="#feff01"/><stop offset=".5" stop-color="#91ff6e"/><stop offset=".521" stop-color="#6aff95"/><stop offset=".562" stop-color="#05fffa"/><stop offset=".576" stop-color="#00e2ff"/><stop offset=".617" stop-color="#0086ff"/><stop offset=".652" stop-color="#004cff"/><stop offset=".686" stop-color="#0023ff"/><stop offset=".721" stop-color="#000bff"/><stop offset=".755" stop-color="#0002ff"/><stop offset=".79" stop-color="#0007ff"/><stop offset=".824" stop-color="#001aff"/><stop offset=".859" stop-color="#003eff"/><stop offset=".893" stop-color="#0074ff"/><stop offset=".928" stop-color="#00bbff"/><stop offset=".955" stop-color="#00fdff"/><stop offset=".997" stop-color="#64ff9b"/><stop offset="1" stop-color="#64ff9b"/></linearGradient><linearGradient id="c62"><stop offset="0" stop-color="#74ff8b"/><stop offset=".003" stop-color="#74ff8b"/><stop offset=".031" stop-color="#a8ff57"/><stop offset=".066" stop-color="#f4ff0b"/><stop offset=".072" stop-color="#fffa00"/><stop offset=".121" stop-color="#ff9600"/><stop offset=".155" stop-color="#ff5d00"/><stop offset=".19" stop-color="#ff3300"/><stop offset=".224" stop-color="#ff1a00"/><stop offset=".259" stop-color="#ff1200"/><stop offset=".293" stop-color="#ff1900"/><stop offset=".328" stop-color="#ff3100"/><stop offset=".362" stop-color="#ff5900"/><stop offset=".397" stop-color="#ff9100"/><stop offset=".445" stop-color="#fff400"/><stop offset=".452" stop-color="#faff05"/><stop offset=".5" stop-color="#91ff6e"/><stop offset=".521" stop-color="#6bff94"/><stop offset=".562" stop-color="#08fff7"/><stop offset=".569" stop-color="#00f7ff"/><stop offset=".61" stop-color="#009aff"/><stop offset=".645" stop-color="#005cff"/><stop offset=".679" stop-color="#0030ff"/><stop offset=".714" stop-color="#0014ff"/><stop offset=".748" stop-color="#0008ff"/><stop offset=".783" stop-color="#000bff"/><stop offset=".817" stop-color="#001bff"/><stop offset=".852" stop-color="#003cff"/><stop offset=".886" stop-color="#006eff"/><stop offset=".921" stop-color="#00b1ff"/><stop offset=".955" stop-color="#02fffd"/><stop offset=".997" stop-color="#65ff9a"/><stop offset="1" stop-color="#65ff9a"/></linearGradient><linearGradient id="c63"><stop offset="0" stop-color="#74ff8b"/><stop offset=".003" stop-color="#74ff8b"/><stop offset=".031" stop-color="#a6ff59"/><stop offset=".072" stop-color="#fffd00"/><stop offset=".121" stop-color="#ff9b00"/><stop offset=".155" stop-color="#ff6300"/><stop offset=".19" stop-color="#ff3900"/><stop offset=".224" stop-color="#ff2000"/><stop offset=".259" stop-color="#ff1800"/><stop offset=".293" stop-color="#ff1f00"/><stop offset=".328" stop-color="#ff3700"/><stop offset=".362" stop-color="#ff5f00"/><stop offset=".397" stop-color="#ff9600"/><stop offset=".445" stop-color="#fff800"/><stop offset=".452" stop-color="#f7ff08"/><stop offset=".5" stop-color="#90ff6f"/><stop offset=".521" stop-color="#6cff93"/><stop offset=".562" stop-color="#0cfff3"/><stop offset=".569" stop-color="#00fbff"/><stop offset=".61" stop-color="#00a0ff"/><stop offset=".645" stop-color="#0062ff"/><stop offset=".679" stop-color="#0036ff"/><stop offset=".714" stop-color="#001bff"/><stop offset=".748" stop-color="#000fff"/><stop offset=".783" stop-color="#0011ff"/><stop offset=".817" stop-color="#0022ff"/><stop offset=".852" stop-color="#0043ff"/><stop offset=".886" stop-color="#0074ff"/><stop offset=".921" stop-color="#00b7ff"/><stop offset=".948" stop-color="#00f4ff"/><stop offset=".955" stop-color="#06fff9"/><stop offset=".997" stop-color="#66ff99"/><stop offset="1" stop-color="#66ff99"/></linearGradient><linearGradient id="c64"><stop offset="0" stop-color="#75ff8a"/><stop offset=".003" stop-color="#75ff8a"/><stop offset=".031" stop-color="#a5ff5a"/><stop offset=".072" stop-color="#fdff02"/><stop offset=".128" stop-color="#ff9400"/><stop offset=".162" stop-color="#ff5f00"/><stop offset=".197" stop-color="#ff3900"/><stop offset=".231" stop-color="#ff2400"/><stop offset=".266" stop-color="#ff1e00"/><stop offset=".3" stop-color="#ff2900"/><stop offset=".334" stop-color="#ff4400"/><stop offset=".369" stop-color="#ff6f00"/><stop offset=".41" stop-color="#ffb500"/><stop offset=".445" stop-color="#fffb00"/><stop offset=".459" stop-color="#e5ff1a"/><stop offset=".5" stop-color="#8fff70"/><stop offset=".521" stop-color="#6dff92"/><stop offset=".569" stop-color="#00feff"/><stop offset=".61" stop-color="#00a5ff"/><stop offset=".645" stop-color="#0069ff"/><stop offset=".679" stop-color="#003dff"/><stop offset=".714" stop-color="#0021ff"/><stop offset=".748" stop-color="#0015ff"/><stop offset=".783" stop-color="#0017ff"/><stop offset=".817" stop-color="#0028ff"/><stop offset=".852" stop-color="#0049ff"/><stop offset=".886" stop-color="#007bff"/><stop offset=".928" stop-color="#00caff"/><stop offset=".948" stop-color="#00f8ff"/><stop offset=".955" stop-color="#09fff6"/><stop offset=".997" stop-color="#67ff98"/><stop offset="1" stop-color="#67ff98"/></linearGradient><linearGradient id="c65"><stop offset="0" stop-color="#75ff8a"/><stop offset=".003" stop-color="#75ff8a"/><stop offset=".031" stop-color="#a4ff5b"/><stop offset=".072" stop-color="#faff05"/><stop offset=".079" stop-color="#fff600"/><stop offset=".128" stop-color="#ff9900"/><stop offset=".162" stop-color="#ff6500"/><stop offset=".197" stop-color="#ff4000"/><stop offset=".231" stop-color="#ff2a00"/><stop offset=".266" stop-color="#ff2400"/><stop offset=".3" stop-color="#ff2f00"/><stop offset=".334" stop-color="#ff4a00"/><stop offset=".369" stop-color="#ff7400"/><stop offset=".41" stop-color="#ffba00"/><stop offset=".445" stop-color="#ffff00"/><stop offset=".5" stop-color="#8fff70"/><stop offset=".521" stop-color="#6dff92"/><stop offset=".569" stop-color="#03fffc"/><stop offset=".597" stop-color="#00c6ff"/><stop offset=".638" stop-color="#007aff"/><stop offset=".672" stop-color="#004bff"/><stop offset=".707" stop-color="#002cff"/><stop offset=".741" stop-color="#001cff"/><stop offset=".776" stop-color="#001cff"/><stop offset=".81" stop-color="#002aff"/><stop offset=".845" stop-color="#0048ff"/><stop offset=".879" stop-color="#0076ff"/><stop offset=".914" stop-color="#00b3ff"/><stop offset=".948" stop-color="#00fcff"/><stop offset=".997" stop-color="#68ff97"/><stop offset="1" stop-color="#68ff97"/></linearGradient><linearGradient id="c66"><stop offset="0" stop-color="#76ff89"/><stop offset=".003" stop-color="#76ff89"/><stop offset=".031" stop-color="#a2ff5d"/><stop offset=".072" stop-color="#f6ff09"/><stop offset=".079" stop-color="#fffa00"/><stop offset=".128" stop-color="#ff9f00"/><stop offset=".169" stop-color="#ff6200"/><stop offset=".203" stop-color="#ff4000"/><stop offset=".238" stop-color="#ff2e00"/><stop offset=".272" stop-color="#ff2c00"/><stop offset=".307" stop-color="#ff3a00"/><stop offset=".341" stop-color="#ff5700"/><stop offset=".376" stop-color="#ff8500"/><stop offset=".417" stop-color="#ffcc00"/><stop offset=".438" stop-color="#fff400"/><stop offset=".445" stop-color="#fcff03"/><stop offset=".5" stop-color="#8eff71"/><stop offset=".521" stop-color="#6eff91"/><stop offset=".569" stop-color="#07fff8"/><stop offset=".576" stop-color="#00f7ff"/><stop offset=".617" stop-color="#00a4ff"/><stop offset=".652" stop-color="#006cff"/><stop offset=".686" stop-color="#0043ff"/><stop offset=".721" stop-color="#002aff"/><stop offset=".755" stop-color="#0021ff"/><stop offset=".79" stop-color="#0026ff"/><stop offset=".824" stop-color="#003bff"/><stop offset=".859" stop-color="#005fff"/><stop offset=".893" stop-color="#0093ff"/><stop offset=".934" stop-color="#00e3ff"/><stop offset=".948" stop-color="#01fffe"/><stop offset=".997" stop-color="#69ff96"/><stop offset="1" stop-color="#69ff96"/></linearGradient><linearGradient id="c67"><stop offset="0" stop-color="#76ff89"/><stop offset=".003" stop-color="#76ff89"/><stop offset=".031" stop-color="#a1ff5e"/><stop offset=".079" stop-color="#fffe00"/><stop offset=".128" stop-color="#ffa400"/><stop offset=".169" stop-color="#ff6900"/><stop offset=".203" stop-color="#ff4700"/><stop offset=".238" stop-color="#ff3500"/><stop offset=".272" stop-color="#ff3300"/><stop offset=".307" stop-color="#ff4000"/><stop offset=".341" stop-color="#ff5e00"/><stop offset=".376" stop-color="#ff8a00"/><stop offset=".417" stop-color="#ffd000"/><stop offset=".438" stop-color="#fff800"/><stop offset=".445" stop-color="#f8ff07"/><stop offset=".5" stop-color="#8eff71"/><stop offset=".521" stop-color="#6fff90"/><stop offset=".569" stop-color="#0bfff4"/><stop offset=".576" stop-color="#00fbff"/><stop offset=".624" stop-color="#009dff"/><stop offset=".659" stop-color="#0069ff"/><stop offset=".693" stop-color="#0044ff"/><stop offset=".728" stop-color="#002eff"/><stop offset=".762" stop-color="#0027ff"/><stop offset=".797" stop-color="#0030ff"/><stop offset=".831" stop-color="#0047ff"/><stop offset=".866" stop-color="#006eff"/><stop offset=".9" stop-color="#00a5ff"/><stop offset=".941" stop-color="#00f6ff"/><stop offset=".948" stop-color="#05fffa"/><stop offset=".997" stop-color="#6aff95"/><stop offset="1" stop-color="#6aff95"/></linearGradient><linearGradient id="c68"><stop offset="0" stop-color="#77ff88"/><stop offset=".003" stop-color="#77ff88"/><stop offset=".031" stop-color="#a0ff5f"/><stop offset=".079" stop-color="#fdff02"/><stop offset=".141" stop-color="#ff9400"/><stop offset=".183" stop-color="#ff6000"/><stop offset=".217" stop-color="#ff4500"/><stop offset=".252" stop-color="#ff3900"/><stop offset=".286" stop-color="#ff3d00"/><stop offset=".321" stop-color="#ff5100"/><stop offset=".355" stop-color="#ff7400"/><stop offset=".397" stop-color="#ffb100"/><stop offset=".438" stop-color="#fffc00"/><stop offset=".5" stop-color="#8dff72"/><stop offset=".521" stop-color="#70ff8f"/><stop offset=".576" stop-color="#01fffe"/><stop offset=".624" stop-color="#00a3ff"/><stop offset=".659" stop-color="#006fff"/><stop offset=".693" stop-color="#004aff"/><stop offset=".728" stop-color="#0035ff"/><stop offset=".762" stop-color="#002eff"/><stop offset=".797" stop-color="#0036ff"/><stop offset=".831" stop-color="#004eff"/><stop offset=".866" stop-color="#0075ff"/><stop offset=".907" stop-color="#00b7ff"/><stop offset=".941" stop-color="#00faff"/><stop offset=".955" stop-color="#18ffe7"/><stop offset=".997" stop-color="#6bff94"/><stop offset="1" stop-color="#6bff94"/></linearGradient><linearGradient id="c69"><stop offset="0" stop-color="#77ff88"/><stop offset=".003" stop-color="#77ff88"/><stop offset=".031" stop-color="#9fff60"/><stop offset=".079" stop-color="#f9ff06"/><stop offset=".086" stop-color="#fff800"/><stop offset=".134" stop-color="#ffa500"/><stop offset=".176" stop-color="#ff6e00"/><stop offset=".21" stop-color="#ff5000"/><stop offset=".245" stop-color="#ff4100"/><stop offset=".279" stop-color="#ff4200"/><stop offset=".314" stop-color="#ff5300"/><stop offset=".348" stop-color="#ff7300"/><stop offset=".39" stop-color="#ffac00"/><stop offset=".438" stop-color="#fdff02"/><stop offset=".493" stop-color="#97ff68"/><stop offset=".528" stop-color="#64ff9b"/><stop offset=".576" stop-color="#05fffa"/><stop offset=".59" stop-color="#00e8ff"/><stop offset=".631" stop-color="#009eff"/><stop offset=".666" stop-color="#006eff"/><stop offset=".7" stop-color="#004cff"/><stop offset=".734" stop-color="#0039ff"/><stop offset=".769" stop-color="#0035ff"/><stop offset=".803" stop-color="#0041ff"/><stop offset=".838" stop-color="#005cff"/><stop offset=".872" stop-color="#0085ff"/><stop offset=".914" stop-color="#00c9ff"/><stop offset=".941" stop-color="#00ffff"/><stop offset=".997" stop-color="#6cff93"/><stop offset="1" stop-color="#6cff93"/></linearGradient><linearGradient id="c70"><stop offset="0" stop-color="#78ff87"/><stop offset=".003" stop-color="#78ff87"/><stop offset=".031" stop-color="#9dff62"/><stop offset=".086" stop-color="#fffd00"/><stop offset=".134" stop-color="#ffab00"/><stop offset=".176" stop-color="#ff7500"/><stop offset=".21" stop-color="#ff5800"/><stop offset=".245" stop-color="#ff4900"/><stop offset=".279" stop-color="#ff4a00"/><stop offset=".314" stop-color="#ff5a00"/><stop offset=".348" stop-color="#ff7a00"/><stop offset=".39" stop-color="#ffb200"/><stop offset=".431" stop-color="#fff800"/><stop offset=".438" stop-color="#f9ff06"/><stop offset=".493" stop-color="#96ff69"/><stop offset=".528" stop-color="#65ff9a"/><stop offset=".576" stop-color="#09fff6"/><stop offset=".583" stop-color="#00fbff"/><stop offset=".631" stop-color="#00a5ff"/><stop offset=".672" stop-color="#006dff"/><stop offset=".707" stop-color="#004eff"/><stop offset=".741" stop-color="#003eff"/><stop offset=".776" stop-color="#003dff"/><stop offset=".81" stop-color="#004cff"/><stop offset=".845" stop-color="#006aff"/><stop offset=".886" stop-color="#00a0ff"/><stop offset=".934" stop-color="#00f6ff"/><stop offset=".941" stop-color="#04fffb"/><stop offset=".997" stop-color="#6dff92"/><stop offset="1" stop-color="#6dff92"/></linearGradient><linearGradient id="c71"><stop offset="0" stop-color="#78ff87"/><stop offset=".003" stop-color="#78ff87"/><stop offset=".031" stop-color="#9cff63"/><stop offset=".086" stop-color="#fdff02"/><stop offset=".148" stop-color="#ff9e00"/><stop offset=".19" stop-color="#ff6f00"/><stop offset=".224" stop-color="#ff5800"/><stop offset=".259" stop-color="#ff4f00"/><stop offset=".293" stop-color="#ff5700"/><stop offset=".328" stop-color="#ff6d00"/><stop offset=".369" stop-color="#ff9b00"/><stop offset=".417" stop-color="#ffe500"/><stop offset=".431" stop-color="#fffd00"/><stop offset=".5" stop-color="#8bff74"/><stop offset=".521" stop-color="#72ff8d"/><stop offset=".576" stop-color="#0dfff2"/><stop offset=".583" stop-color="#00ffff"/><stop offset=".631" stop-color="#00abff"/><stop offset=".672" stop-color="#0074ff"/><stop offset=".707" stop-color="#0055ff"/><stop offset=".741" stop-color="#0045ff"/><stop offset=".776" stop-color="#0045ff"/><stop offset=".81" stop-color="#0053ff"/><stop offset=".845" stop-color="#0071ff"/><stop offset=".886" stop-color="#00a7ff"/><stop offset=".934" stop-color="#00faff"/><stop offset=".948" stop-color="#15ffea"/><stop offset=".997" stop-color="#6eff91"/><stop offset="1" stop-color="#6eff91"/></linearGradient><linearGradient id="c72"><stop offset="0" stop-color="#78ff87"/><stop offset=".01" stop-color="#80ff7f"/><stop offset=".038" stop-color="#a6ff59"/><stop offset=".086" stop-color="#f8ff07"/><stop offset=".093" stop-color="#fffa00"/><stop offset=".141" stop-color="#ffaf00"/><stop offset=".183" stop-color="#ff7d00"/><stop offset=".217" stop-color="#ff6300"/><stop offset=".252" stop-color="#ff5800"/><stop offset=".286" stop-color="#ff5c00"/><stop offset=".321" stop-color="#ff6f00"/><stop offset=".362" stop-color="#ff9900"/><stop offset=".41" stop-color="#ffdf00"/><stop offset=".431" stop-color="#fdff02"/><stop offset=".493" stop-color="#94ff6b"/><stop offset=".528" stop-color="#68ff97"/><stop offset=".583" stop-color="#05fffa"/><stop offset=".597" stop-color="#00ebff"/><stop offset=".645" stop-color="#009dff"/><stop offset=".686" stop-color="#006dff"/><stop offset=".721" stop-color="#0054ff"/><stop offset=".755" stop-color="#004bff"/><stop offset=".79" stop-color="#0050ff"/><stop offset=".824" stop-color="#0065ff"/><stop offset=".859" stop-color="#0088ff"/><stop offset=".9" stop-color="#00c3ff"/><stop offset=".934" stop-color="#00ffff"/><stop offset=".997" stop-color="#6eff91"/><stop offset="1" stop-color="#6eff91"/></linearGradient><linearGradient id="c73"><stop offset="0" stop-color="#79ff86"/><stop offset=".01" stop-color="#80ff7f"/><stop offset=".038" stop-color="#a4ff5b"/><stop offset=".093" stop-color="#ffff00"/><stop offset=".148" stop-color="#ffac00"/><stop offset=".19" stop-color="#ff7f00"/><stop offset=".224" stop-color="#ff6800"/><stop offset=".259" stop-color="#ff6000"/><stop offset=".293" stop-color="#ff6700"/><stop offset=".328" stop-color="#ff7d00"/><stop offset=".369" stop-color="#ffa900"/><stop offset=".417" stop-color="#ffef00"/><stop offset=".424" stop-color="#fffb00"/><stop offset=".438" stop-color="#ecff13"/><stop offset=".493" stop-color="#93ff6c"/><stop offset=".528" stop-color="#69ff96"/><stop offset=".59" stop-color="#00fcff"/><stop offset=".638" stop-color="#00aeff"/><stop offset=".679" stop-color="#007bff"/><stop offset=".714" stop-color="#0060ff"/><stop offset=".748" stop-color="#0053ff"/><stop offset=".783" stop-color="#0055ff"/><stop offset=".817" stop-color="#0067ff"/><stop offset=".859" stop-color="#008fff"/><stop offset=".9" stop-color="#00c9ff"/><stop offset=".928" stop-color="#00f8ff"/><stop offset=".934" stop-color="#05fffa"/><stop offset=".997" stop-color="#6fff90"/><stop offset="1" stop-color="#6fff90"/></linearGradient><linearGradient id="c74"><stop offset="0" stop-color="#79ff86"/><stop offset=".01" stop-color="#80ff7f"/><stop offset=".038" stop-color="#a2ff5d"/><stop offset=".093" stop-color="#faff05"/><stop offset=".107" stop-color="#ffee00"/><stop offset=".155" stop-color="#ffab00"/><stop offset=".197" stop-color="#ff8100"/><stop offset=".231" stop-color="#ff6e00"/><stop offset=".266" stop-color="#ff6800"/><stop offset=".3" stop-color="#ff7200"/><stop offset=".341" stop-color="#ff9100"/><stop offset=".383" stop-color="#ffc200"/><stop offset=".424" stop-color="#feff01"/><stop offset=".493" stop-color="#92ff6d"/><stop offset=".528" stop-color="#6aff95"/><stop offset=".59" stop-color="#02fffd"/><stop offset=".652" stop-color="#00a2ff"/><stop offset=".693" stop-color="#0076ff"/><stop offset=".728" stop-color="#0060ff"/><stop offset=".762" stop-color="#005aff"/><stop offset=".797" stop-color="#0062ff"/><stop offset=".831" stop-color="#0079ff"/><stop offset=".872" stop-color="#00a8ff"/><stop offset=".921" stop-color="#00f1ff"/><stop offset=".928" stop-color="#00fdff"/><stop offset=".997" stop-color="#70ff8f"/><stop offset="1" stop-color="#70ff8f"/></linearGradient><linearGradient id="c75"><stop offset="0" stop-color="#7aff85"/><stop offset=".017" stop-color="#86ff79"/><stop offset=".059" stop-color="#bfff40"/><stop offset=".1" stop-color="#fffe00"/><stop offset=".155" stop-color="#ffb200"/><stop offset=".197" stop-color="#ff8900"/><stop offset=".231" stop-color="#ff7600"/><stop offset=".266" stop-color="#ff7100"/><stop offset=".3" stop-color="#ff7b00"/><stop offset=".341" stop-color="#ff9900"/><stop offset=".383" stop-color="#ffc900"/><stop offset=".417" stop-color="#fffa00"/><stop offset=".431" stop-color="#efff10"/><stop offset=".493" stop-color="#91ff6e"/><stop offset=".528" stop-color="#6bff94"/><stop offset=".59" stop-color="#07fff8"/><stop offset=".597" stop-color="#00fbff"/><stop offset=".645" stop-color="#00b2ff"/><stop offset=".686" stop-color="#0083ff"/><stop offset=".721" stop-color="#006bff"/><stop offset=".755" stop-color="#0061ff"/><stop offset=".79" stop-color="#0067ff"/><stop offset=".824" stop-color="#007bff"/><stop offset=".866" stop-color="#00a6ff"/><stop offset=".914" stop-color="#00ebff"/><stop offset=".928" stop-color="#03fffc"/><stop offset=".99" stop-color="#67ff98"/><stop offset=".997" stop-color="#71ff8e"/><stop offset="1" stop-color="#71ff8e"/></linearGradient><linearGradient id="c76"><stop offset="0" stop-color="#7aff85"/><stop offset=".017" stop-color="#86ff79"/><stop offset=".059" stop-color="#bcff43"/><stop offset=".1" stop-color="#fbff04"/><stop offset=".114" stop-color="#ffef00"/><stop offset=".162" stop-color="#ffb100"/><stop offset=".203" stop-color="#ff8d00"/><stop offset=".238" stop-color="#ff7c00"/><stop offset=".272" stop-color="#ff7a00"/><stop offset=".307" stop-color="#ff8700"/><stop offset=".348" stop-color="#ffa700"/><stop offset=".397" stop-color="#ffe200"/><stop offset=".417" stop-color="#ffff00"/><stop offset=".493" stop-color="#90ff6f"/><stop offset=".528" stop-color="#6cff93"/><stop offset=".597" stop-color="#01fffe"/><stop offset=".652" stop-color="#00b0ff"/><stop offset=".693" stop-color="#0085ff"/><stop offset=".728" stop-color="#006fff"/><stop offset=".762" stop-color="#0069ff"/><stop offset=".797" stop-color="#0071ff"/><stop offset=".831" stop-color="#0088ff"/><stop offset=".872" stop-color="#00b5ff"/><stop offset=".921" stop-color="#00fcff"/><stop offset=".941" stop-color="#1effe1"/><stop offset=".997" stop-color="#72ff8d"/><stop offset="1" stop-color="#72ff8d"/></linearGradient><linearGradient id="c77"><stop offset="0" stop-color="#7aff85"/><stop offset=".017" stop-color="#85ff7a"/><stop offset=".059" stop-color="#baff45"/><stop offset=".107" stop-color="#ffff00"/><stop offset=".162" stop-color="#ffb900"/><stop offset=".203" stop-color="#ff9500"/><stop offset=".245" stop-color="#ff8300"/><stop offset=".279" stop-color="#ff8400"/><stop offset=".321" stop-color="#ff9800"/><stop offset=".362" stop-color="#ffbd00"/><stop offset=".41" stop-color="#fffb00"/><stop offset=".424" stop-color="#efff10"/><stop offset=".493" stop-color="#8fff70"/><stop offset=".528" stop-color="#6dff92"/><stop offset=".597" stop-color="#06fff9"/><stop offset=".603" stop-color="#00faff"/><stop offset=".652" stop-color="#00b7ff"/><stop offset=".693" stop-color="#008cff"/><stop offset=".728" stop-color="#0077ff"/><stop offset=".762" stop-color="#0070ff"/><stop offset=".797" stop-color="#0079ff"/><stop offset=".838" stop-color="#0096ff"/><stop offset=".879" stop-color="#00c5ff"/><stop offset=".921" stop-color="#02fffd"/><stop offset=".99" stop-color="#6aff95"/><stop offset=".997" stop-color="#73ff8c"/><stop offset="1" stop-color="#73ff8c"/></linearGradient><linearGradient id="c78"><stop offset="0" stop-color="#7bff84"/><stop offset=".024" stop-color="#8cff73"/><stop offset=".086" stop-color="#ddff22"/><stop offset=".107" stop-color="#faff05"/><stop offset=".121" stop-color="#fff100"/><stop offset=".169" stop-color="#ffb900"/><stop offset=".21" stop-color="#ff9900"/><stop offset=".252" stop-color="#ff8b00"/><stop offset=".286" stop-color="#ff8e00"/><stop offset=".328" stop-color="#ffa500"/><stop offset=".376" stop-color="#ffd400"/><stop offset=".41" stop-color="#feff01"/><stop offset=".486" stop-color="#96ff69"/><stop offset=".528" stop-color="#6eff91"/><stop offset=".597" stop-color="#0bfff4"/><stop offset=".603" stop-color="#00ffff"/><stop offset=".659" stop-color="#00b5ff"/><stop offset=".7" stop-color="#008eff"/><stop offset=".734" stop-color="#007cff"/><stop offset=".769" stop-color="#0078ff"/><stop offset=".803" stop-color="#0084ff"/><stop offset=".845" stop-color="#00a4ff"/><stop offset=".893" stop-color="#00deff"/><stop offset=".914" stop-color="#00fbff"/><stop offset=".934" stop-color="#1bffe4"/><stop offset=".99" stop-color="#6bff94"/><stop offset=".997" stop-color="#73ff8c"/><stop offset="1" stop-color="#73ff8c"/></linearGradient><linearGradient id="c79"><stop offset="0" stop-color="#7bff84"/><stop offset=".024" stop-color="#8bff74"/><stop offset=".079" stop-color="#d0ff2f"/><stop offset=".114" stop-color="#feff01"/><stop offset=".169" stop-color="#ffc000"/><stop offset=".21" stop-color="#ffa100"/><stop offset=".252" stop-color="#ff9300"/><stop offset=".293" stop-color="#ff9900"/><stop offset=".334" stop-color="#ffb200"/><stop offset=".383" stop-color="#ffe300"/><stop offset=".403" stop-color="#fffd00"/><stop offset=".493" stop-color="#8eff71"/><stop offset=".528" stop-color="#6fff90"/><stop offset=".59" stop-color="#19ffe6"/><stop offset=".603" stop-color="#05fffa"/><stop offset=".61" stop-color="#00fbff"/><stop offset=".666" stop-color="#00b5ff"/><stop offset=".707" stop-color="#0091ff"/><stop offset=".741" stop-color="#0082ff"/><stop offset=".776" stop-color="#0081ff"/><stop offset=".81" stop-color="#008fff"/><stop offset=".852" stop-color="#00b2ff"/><stop offset=".9" stop-color="#00edff"/><stop offset=".914" stop-color="#02fffd"/><stop offset=".99" stop-color="#6cff93"/><stop offset=".997" stop-color="#74ff8b"/><stop offset="1" stop-color="#74ff8b"/></linearGradient><linearGradient id="c80"><stop offset="0" stop-color="#7bff84"/><stop offset=".024" stop-color="#8aff75"/><stop offset=".079" stop-color="#ccff33"/><stop offset=".114" stop-color="#f9ff06"/><stop offset=".121" stop-color="#fffc00"/><stop offset=".176" stop-color="#ffc100"/><stop offset=".217" stop-color="#ffa500"/><stop offset=".259" stop-color="#ff9a00"/><stop offset=".3" stop-color="#ffa300"/><stop offset=".341" stop-color="#ffbf00"/><stop offset=".39" stop-color="#fff100"/><stop offset=".403" stop-color="#fcff03"/><stop offset=".486" stop-color="#94ff6b"/><stop offset=".528" stop-color="#70ff8f"/><stop offset=".59" stop-color="#1dffe2"/><stop offset=".61" stop-color="#00ffff"/><stop offset=".666" stop-color="#00bbff"/><stop offset=".707" stop-color="#0098ff"/><stop offset=".741" stop-color="#0089ff"/><stop offset=".776" stop-color="#0088ff"/><stop offset=".81" stop-color="#0096ff"/><stop offset=".852" stop-color="#00b8ff"/><stop offset=".907" stop-color="#00fcff"/><stop offset=".928" stop-color="#19ffe6"/><stop offset=".99" stop-color="#6dff92"/><stop offset="1" stop-color="#75ff8a"/></linearGradient><linearGradient id="c81"><stop offset="0" stop-color="#7bff84"/><stop offset=".024" stop-color="#8aff75"/><stop offset=".079" stop-color="#c9ff36"/><stop offset=".121" stop-color="#fdff02"/><stop offset=".183" stop-color="#ffc200"/><stop offset=".224" stop-color="#ffa900"/><stop offset=".266" stop-color="#ffa200"/><stop offset=".307" stop-color="#ffae00"/><stop offset=".348" stop-color="#ffcb00"/><stop offset=".397" stop-color="#fffe00"/><stop offset=".486" stop-color="#93ff6c"/><stop offset=".534" stop-color="#69ff96"/><stop offset=".61" stop-color="#04fffb"/><stop offset=".624" stop-color="#00f1ff"/><stop offset=".672" stop-color="#00baff"/><stop offset=".714" stop-color="#009bff"/><stop offset=".748" stop-color="#008fff"/><stop offset=".783" stop-color="#0091ff"/><stop offset=".824" stop-color="#00a6ff"/><stop offset=".866" stop-color="#00cdff"/><stop offset=".907" stop-color="#01fffe"/><stop offset=".983" stop-color="#66ff99"/><stop offset=".997" stop-color="#75ff8a"/><stop offset="1" stop-color="#75ff8a"/></linearGradient><linearGradient id="c82"><stop offset="0" stop-color="#7cff83"/><stop offset=".024" stop-color="#89ff76"/><stop offset=".079" stop-color="#c6ff39"/><stop offset=".128" stop-color="#fffe00"/><stop offset=".176" stop-color="#ffce00"/><stop offset=".217" stop-color="#ffb300"/><stop offset=".259" stop-color="#ffaa00"/><stop offset=".3" stop-color="#ffb200"/><stop offset=".341" stop-color="#ffcc00"/><stop offset=".39" stop-color="#fffb00"/><stop offset=".403" stop-color="#f3ff0c"/><stop offset=".486" stop-color="#92ff6d"/><stop offset=".534" stop-color="#6aff95"/><stop offset=".617" stop-color="#00ffff"/><stop offset=".672" stop-color="#00c0ff"/><stop offset=".714" stop-color="#00a2ff"/><stop offset=".755" stop-color="#0095ff"/><stop offset=".797" stop-color="#009dff"/><stop offset=".838" stop-color="#00b8ff"/><stop offset=".886" stop-color="#00eaff"/><stop offset=".9" stop-color="#00fbff"/><stop offset=".914" stop-color="#0efff1"/><stop offset=".983" stop-color="#67ff98"/><stop offset=".997" stop-color="#76ff89"/><stop offset="1" stop-color="#76ff89"/></linearGradient><linearGradient id="c83"><stop offset="0" stop-color="#7cff83"/><stop offset=".024" stop-color="#89ff76"/><stop offset=".079" stop-color="#c3ff3c"/><stop offset=".128" stop-color="#fbff04"/><stop offset=".141" stop-color="#fff400"/><stop offset=".19" stop-color="#ffca00"/><stop offset=".231" stop-color="#ffb500"/><stop offset=".272" stop-color="#ffb200"/><stop offset=".314" stop-color="#ffc000"/><stop offset=".362" stop-color="#ffe400"/><stop offset=".39" stop-color="#feff01"/><stop offset=".486" stop-color="#91ff6e"/><stop offset=".534" stop-color="#6bff94"/><stop offset=".617" stop-color="#04fffb"/><stop offset=".631" stop-color="#00f2ff"/><stop offset=".679" stop-color="#00c0ff"/><stop offset=".721" stop-color="#00a5ff"/><stop offset=".762" stop-color="#009cff"/><stop offset=".803" stop-color="#00a7ff"/><stop offset=".845" stop-color="#00c4ff"/><stop offset=".9" stop-color="#01fffe"/><stop offset=".983" stop-color="#68ff97"/><stop offset=".997" stop-color="#76ff89"/><stop offset="1" stop-color="#76ff89"/></linearGradient><linearGradient id="c84"><stop offset="0" stop-color="#7cff83"/><stop offset=".024" stop-color="#88ff77"/><stop offset=".079" stop-color="#c0ff3f"/><stop offset=".134" stop-color="#feff01"/><stop offset=".19" stop-color="#ffd000"/><stop offset=".231" stop-color="#ffbc00"/><stop offset=".272" stop-color="#ffb900"/><stop offset=".314" stop-color="#ffc700"/><stop offset=".362" stop-color="#ffea00"/><stop offset=".383" stop-color="#fffe00"/><stop offset=".486" stop-color="#90ff6f"/><stop offset=".534" stop-color="#6cff93"/><stop offset=".624" stop-color="#00ffff"/><stop offset=".679" stop-color="#00c7ff"/><stop offset=".721" stop-color="#00acff"/><stop offset=".762" stop-color="#00a4ff"/><stop offset=".803" stop-color="#00aeff"/><stop offset=".845" stop-color="#00caff"/><stop offset=".893" stop-color="#00fcff"/><stop offset=".921" stop-color="#1fffe0"/><stop offset=".99" stop-color="#70ff8f"/><stop offset="1" stop-color="#77ff88"/></linearGradient><linearGradient id="c85"><stop offset="0" stop-color="#7cff83"/><stop offset=".024" stop-color="#88ff77"/><stop offset=".079" stop-color="#beff41"/><stop offset=".141" stop-color="#fffe00"/><stop offset=".19" stop-color="#ffd700"/><stop offset=".231" stop-color="#ffc300"/><stop offset=".272" stop-color="#ffc000"/><stop offset=".314" stop-color="#ffcd00"/><stop offset=".362" stop-color="#ffef00"/><stop offset=".383" stop-color="#fbff04"/><stop offset=".486" stop-color="#8fff70"/><stop offset=".534" stop-color="#6dff92"/><stop offset=".624" stop-color="#05fffa"/><stop offset=".638" stop-color="#00f4ff"/><stop offset=".686" stop-color="#00c7ff"/><stop offset=".728" stop-color="#00b1ff"/><stop offset=".769" stop-color="#00abff"/><stop offset=".81" stop-color="#00b8ff"/><stop offset=".859" stop-color="#00ddff"/><stop offset=".893" stop-color="#02fffd"/><stop offset=".983" stop-color="#6aff95"/><stop offset=".997" stop-color="#77ff88"/><stop offset="1" stop-color="#77ff88"/></linearGradient><linearGradient id="c86"><stop offset="0" stop-color="#7cff83"/><stop offset=".024" stop-color="#87ff78"/><stop offset=".079" stop-color="#bbff44"/><stop offset=".141" stop-color="#fbff04"/><stop offset=".155" stop-color="#fff700"/><stop offset=".203" stop-color="#ffd500"/><stop offset=".245" stop-color="#ffc700"/><stop offset=".286" stop-color="#ffc900"/><stop offset=".334" stop-color="#ffe000"/><stop offset=".376" stop-color="#fdff02"/><stop offset=".486" stop-color="#8fff70"/><stop offset=".534" stop-color="#6eff91"/><stop offset=".631" stop-color="#02fffd"/><stop offset=".693" stop-color="#00c9ff"/><stop offset=".734" stop-color="#00b6ff"/><stop offset=".776" stop-color="#00b3ff"/><stop offset=".817" stop-color="#00c3ff"/><stop offset=".866" stop-color="#00e9ff"/><stop offset=".886" stop-color="#00feff"/><stop offset=".983" stop-color="#6bff94"/><stop offset="1" stop-color="#78ff87"/></linearGradient><linearGradient id="c87"><stop offset="0" stop-color="#7dff82"/><stop offset=".024" stop-color="#87ff78"/><stop offset=".086" stop-color="#c0ff3f"/><stop offset=".148" stop-color="#fcff03"/><stop offset=".203" stop-color="#ffdb00"/><stop offset=".245" stop-color="#ffce00"/><stop offset=".286" stop-color="#ffd000"/><stop offset=".334" stop-color="#ffe600"/><stop offset=".369" stop-color="#feff01"/><stop offset=".486" stop-color="#8eff71"/><stop offset=".534" stop-color="#6fff90"/><stop offset=".638" stop-color="#00feff"/><stop offset=".686" stop-color="#00d4ff"/><stop offset=".728" stop-color="#00bfff"/><stop offset=".769" stop-color="#00baff"/><stop offset=".81" stop-color="#00c6ff"/><stop offset=".859" stop-color="#00e8ff"/><stop offset=".879" stop-color="#00fcff"/><stop offset=".893" stop-color="#0bfff4"/><stop offset=".983" stop-color="#6cff93"/><stop offset="1" stop-color="#78ff87"/></linearGradient><linearGradient id="c88"><stop offset="0" stop-color="#7dff82"/><stop offset=".031" stop-color="#8cff73"/><stop offset=".155" stop-color="#fdff02"/><stop offset=".217" stop-color="#ffdc00"/><stop offset=".266" stop-color="#ffd400"/><stop offset=".314" stop-color="#ffe000"/><stop offset=".362" stop-color="#ffff00"/><stop offset=".493" stop-color="#88ff77"/><stop offset=".534" stop-color="#6fff90"/><stop offset=".638" stop-color="#04fffb"/><stop offset=".652" stop-color="#00f6ff"/><stop offset=".7" stop-color="#00d2ff"/><stop offset=".741" stop-color="#00c2ff"/><stop offset=".783" stop-color="#00c3ff"/><stop offset=".824" stop-color="#00d4ff"/><stop offset=".879" stop-color="#01fffe"/><stop offset=".99" stop-color="#73ff8c"/><stop offset="1" stop-color="#78ff87"/></linearGradient><linearGradient id="c89"><stop offset="0" stop-color="#7dff82"/><stop offset=".031" stop-color="#8bff74"/><stop offset=".162" stop-color="#fdff02"/><stop offset=".217" stop-color="#ffe200"/><stop offset=".266" stop-color="#ffdb00"/><stop offset=".314" stop-color="#ffe700"/><stop offset=".355" stop-color="#ffff00"/><stop offset=".431" stop-color="#bdff42"/><stop offset=".493" stop-color="#88ff77"/><stop offset=".534" stop-color="#70ff8f"/><stop offset=".645" stop-color="#02fffd"/><stop offset=".707" stop-color="#00d4ff"/><stop offset=".748" stop-color="#00c8ff"/><stop offset=".79" stop-color="#00ccff"/><stop offset=".838" stop-color="#00e3ff"/><stop offset=".872" stop-color="#00ffff"/><stop offset=".99" stop-color="#73ff8c"/><stop offset="1" stop-color="#78ff87"/></linearGradient><linearGradient id="c90"><stop offset="0" stop-color="#7dff82"/><stop offset=".031" stop-color="#8bff74"/><stop offset=".162" stop-color="#f8ff07"/><stop offset=".183" stop-color="#fff900"/><stop offset=".231" stop-color="#ffe500"/><stop offset=".279" stop-color="#ffe300"/><stop offset=".328" stop-color="#fff300"/><stop offset=".348" stop-color="#ffff00"/><stop offset=".424" stop-color="#c1ff3e"/><stop offset=".493" stop-color="#88ff77"/><stop offset=".534" stop-color="#70ff8f"/><stop offset=".652" stop-color="#01fffe"/><stop offset=".707" stop-color="#00dbff"/><stop offset=".748" stop-color="#00cfff"/><stop offset=".79" stop-color="#00d2ff"/><stop offset=".838" stop-color="#00e9ff"/><stop offset=".866" stop-color="#00fdff"/><stop offset=".928" stop-color="#39ffc6"/><stop offset=".99" stop-color="#74ff8b"/><stop offset="1" stop-color="#79ff86"/></linearGradient><linearGradient id="c91"><stop offset="0" stop-color="#7dff82"/><stop offset=".031" stop-color="#8aff75"/><stop offset=".162" stop-color="#f3ff0c"/><stop offset=".183" stop-color="#fffe00"/><stop offset=".231" stop-color="#ffeb00"/><stop offset=".279" stop-color="#ffe900"/><stop offset=".328" stop-color="#fff900"/><stop offset=".348" stop-color="#f9ff06"/><stop offset=".424" stop-color="#beff41"/><stop offset=".493" stop-color="#87ff78"/><stop offset=".534" stop-color="#71ff8e"/><stop offset=".659" stop-color="#00ffff"/><stop offset=".707" stop-color="#00e1ff"/><stop offset=".755" stop-color="#00d5ff"/><stop offset=".803" stop-color="#00ddff"/><stop offset=".852" stop-color="#00f8ff"/><stop offset=".866" stop-color="#03fffc"/><stop offset=".99" stop-color="#74ff8b"/><stop offset="1" stop-color="#79ff86"/></linearGradient><linearGradient id="c92"><stop offset="0" stop-color="#7dff82"/><stop offset=".031" stop-color="#8aff75"/><stop offset=".162" stop-color="#eeff11"/><stop offset=".197" stop-color="#fffd00"/><stop offset=".245" stop-color="#ffef00"/><stop offset=".293" stop-color="#fff300"/><stop offset=".328" stop-color="#ffff00"/><stop offset=".39" stop-color="#d7ff28"/><stop offset=".493" stop-color="#87ff78"/><stop offset=".534" stop-color="#71ff8e"/><stop offset=".659" stop-color="#05fffa"/><stop offset=".672" stop-color="#00faff"/><stop offset=".721" stop-color="#00e2ff"/><stop offset=".769" stop-color="#00dbff"/><stop offset=".817" stop-color="#00e9ff"/><stop offset=".859" stop-color="#03fffc"/><stop offset=".99" stop-color="#74ff8b"/><stop offset="1" stop-color="#79ff86"/></linearGradient><linearGradient id="c93"><stop offset="0" stop-color="#7dff82"/><stop offset=".031" stop-color="#89ff76"/><stop offset=".169" stop-color="#edff12"/><stop offset=".21" stop-color="#fffe00"/><stop offset=".259" stop-color="#fff500"/><stop offset=".307" stop-color="#fffd00"/><stop offset=".341" stop-color="#f2ff0d"/><stop offset=".417" stop-color="#beff41"/><stop offset=".493" stop-color="#87ff78"/><stop offset=".534" stop-color="#72ff8d"/><stop offset=".666" stop-color="#04fffb"/><stop offset=".679" stop-color="#00fbff"/><stop offset=".728" stop-color="#00e5ff"/><stop offset=".776" stop-color="#00e2ff"/><stop offset=".824" stop-color="#00f2ff"/><stop offset=".852" stop-color="#03fffc"/><stop offset=".928" stop-color="#41ffbe"/><stop offset=".997" stop-color="#79ff86"/><stop offset="1" stop-color="#79ff86"/></linearGradient><linearGradient id="c94"><stop offset="0" stop-color="#7dff82"/><stop offset=".031" stop-color="#89ff76"/><stop offset=".169" stop-color="#e8ff17"/><stop offset=".224" stop-color="#feff01"/><stop offset=".279" stop-color="#fffd00"/><stop offset=".314" stop-color="#f9ff06"/><stop offset=".376" stop-color="#d9ff26"/><stop offset=".493" stop-color="#86ff79"/><stop offset=".534" stop-color="#72ff8d"/><stop offset=".666" stop-color="#09fff6"/><stop offset=".679" stop-color="#00ffff"/><stop offset=".734" stop-color="#00e9ff"/><stop offset=".783" stop-color="#00e9ff"/><stop offset=".831" stop-color="#00faff"/><stop offset=".852" stop-color="#07fff8"/><stop offset=".934" stop-color="#49ffb6"/><stop offset=".997" stop-color="#7aff85"/><stop offset="1" stop-color="#7aff85"/></linearGradient><linearGradient id="c95"><stop offset="0" stop-color="#7dff82"/><stop offset=".038" stop-color="#8cff73"/><stop offset=".169" stop-color="#e2ff1d"/><stop offset=".224" stop-color="#f8ff07"/><stop offset=".279" stop-color="#faff05"/><stop offset=".334" stop-color="#eaff15"/><stop offset=".41" stop-color="#bdff42"/><stop offset=".493" stop-color="#86ff79"/><stop offset=".534" stop-color="#73ff8c"/><stop offset=".666" stop-color="#0dfff2"/><stop offset=".693" stop-color="#00fdff"/><stop offset=".741" stop-color="#00eeff"/><stop offset=".79" stop-color="#00f0ff"/><stop offset=".831" stop-color="#00ffff"/><stop offset=".893" stop-color="#29ffd6"/><stop offset=".99" stop-color="#76ff89"/><stop offset="1" stop-color="#7aff85"/></linearGradient><linearGradient id="c96"><stop offset="0" stop-color="#7dff82"/><stop offset=".038" stop-color="#8cff73"/><stop offset=".169" stop-color="#ddff22"/><stop offset=".231" stop-color="#f2ff0d"/><stop offset=".286" stop-color="#f2ff0d"/><stop offset=".341" stop-color="#e1ff1e"/><stop offset=".424" stop-color="#b0ff4f"/><stop offset=".5" stop-color="#83ff7c"/><stop offset=".534" stop-color="#73ff8c"/><stop offset=".666" stop-color="#11ffee"/><stop offset=".7" stop-color="#00ffff"/><stop offset=".748" stop-color="#00f2ff"/><stop offset=".797" stop-color="#00f7ff"/><stop offset=".824" stop-color="#01fffe"/><stop offset=".886" stop-color="#27ffd8"/><stop offset=".99" stop-color="#76ff89"/><stop offset="1" stop-color="#7aff85"/></linearGradient><linearGradient id="c97"><stop offset="0" stop-color="#7dff82"/><stop offset=".038" stop-color="#8bff74"/><stop offset=".169" stop-color="#d7ff28"/><stop offset=".231" stop-color="#ebff14"/><stop offset=".286" stop-color="#ebff14"/><stop offset=".348" stop-color="#d8ff27"/><stop offset=".5" stop-color="#82ff7d"/><stop offset=".534" stop-color="#74ff8b"/><stop offset=".666" stop-color="#16ffe9"/><stop offset=".714" stop-color="#00ffff"/><stop offset=".762" stop-color="#00f7ff"/><stop offset=".81" stop-color="#01fffe"/><stop offset=".866" stop-color="#1cffe3"/><stop offset=".997" stop-color="#7aff85"/><stop offset="1" stop-color="#7aff85"/></linearGradient><linearGradient id="c98"><stop offset="0" stop-color="#7eff81"/><stop offset=".045" stop-color="#8dff72"/><stop offset=".169" stop-color="#d1ff2e"/><stop offset=".231" stop-color="#e4ff1b"/><stop offset=".293" stop-color="#e3ff1c"/><stop offset=".355" stop-color="#cfff30"/><stop offset=".5" stop-color="#82ff7d"/><stop offset=".534" stop-color="#74ff8b"/><stop offset=".666" stop-color="#1affe5"/><stop offset=".721" stop-color="#03fffc"/><stop offset=".783" stop-color="#00feff"/><stop offset=".831" stop-color="#0efff1"/><stop offset=".9" stop-color="#37ffc8"/><stop offset=".99" stop-color="#77ff88"/><stop offset="1" stop-color="#7aff85"/></linearGradient><linearGradient id="c99"><stop offset="0" stop-color="#7eff81"/><stop offset=".045" stop-color="#8dff72"/><stop offset=".176" stop-color="#ceff31"/><stop offset=".238" stop-color="#deff21"/><stop offset=".3" stop-color="#dbff24"/><stop offset=".369" stop-color="#c4ff3b"/><stop offset=".5" stop-color="#82ff7d"/><stop offset=".541" stop-color="#71ff8e"/><stop offset=".666" stop-color="#1effe1"/><stop offset=".721" stop-color="#07fff8"/><stop offset=".776" stop-color="#03fffc"/><stop offset=".831" stop-color="#12ffed"/><stop offset=".9" stop-color="#3affc5"/><stop offset=".997" stop-color="#7bff84"/><stop offset="1" stop-color="#7bff84"/></linearGradient><linearGradient id="c100"><stop offset="0" stop-color="#7eff81"/><stop offset=".052" stop-color="#8fff70"/><stop offset=".176" stop-color="#c9ff36"/><stop offset=".245" stop-color="#d8ff27"/><stop offset=".307" stop-color="#d3ff2c"/><stop offset=".383" stop-color="#b9ff46"/><stop offset=".5" stop-color="#82ff7d"/><stop offset=".541" stop-color="#71ff8e"/><stop offset=".666" stop-color="#21ffde"/><stop offset=".721" stop-color="#0cfff3"/><stop offset=".776" stop-color="#08fff7"/><stop offset=".831" stop-color="#16ffe9"/><stop offset=".9" stop-color="#3dffc2"/><stop offset=".997" stop-color="#7bff84"/><stop offset="1" stop-color="#7bff84"/></linearGradient><linearGradient id="c101"><stop offset="0" stop-color="#7eff81"/><stop offset=".052" stop-color="#8eff71"/><stop offset=".176" stop-color="#c4ff3b"/><stop offset=".245" stop-color="#d1ff2e"/><stop offset=".314" stop-color="#ccff33"/><stop offset=".397" stop-color="#afff50"/><stop offset=".5" stop-color="#82ff7d"/><stop offset=".541" stop-color="#72ff8d"/><stop offset=".666" stop-color="#25ffda"/><stop offset=".728" stop-color="#0ffff0"/><stop offset=".783" stop-color="#0dfff2"/><stop offset=".838" stop-color="#1dffe2"/><stop offset=".921" stop-color="#4dffb2"/><stop offset=".997" stop-color="#7bff84"/><stop offset="1" stop-color="#7bff84"/></linearGradient><linearGradient id="c102"><stop offset="0" stop-color="#7eff81"/><stop offset=".059" stop-color="#90ff6f"/><stop offset=".183" stop-color="#c1ff3e"/><stop offset=".252" stop-color="#ccff33"/><stop offset=".321" stop-color="#c5ff3a"/><stop offset=".41" stop-color="#a6ff59"/><stop offset=".507" stop-color="#80ff7f"/><stop offset=".548" stop-color="#6eff91"/><stop offset=".666" stop-color="#28ffd7"/><stop offset=".728" stop-color="#13ffec"/><stop offset=".783" stop-color="#12ffed"/><stop offset=".845" stop-color="#24ffdb"/><stop offset=".941" stop-color="#5cffa3"/><stop offset=".997" stop-color="#7bff84"/><stop offset="1" stop-color="#7bff84"/></linearGradient><linearGradient id="c103"><stop offset="0" stop-color="#7eff81"/><stop offset=".066" stop-color="#91ff6e"/><stop offset=".183" stop-color="#bdff42"/><stop offset=".259" stop-color="#c7ff38"/><stop offset=".334" stop-color="#bdff42"/><stop offset=".507" stop-color="#80ff7f"/><stop offset=".555" stop-color="#6bff94"/><stop offset=".672" stop-color="#28ffd7"/><stop offset=".734" stop-color="#16ffe9"/><stop offset=".79" stop-color="#17ffe8"/><stop offset=".852" stop-color="#2affd5"/><stop offset=".997" stop-color="#7bff84"/><stop offset="1" stop-color="#7bff84"/></linearGradient></defs><rect width="448" height="252" fill="#fff"/><rect x="37" y="0" width="145" height="1.02" fill="url(#a0)"/><rect x="37" y="1" width="145" height="1.02" fill="url(#a1)"/><rect x="37" y="2" width="145" height="1.02" fill="url(#a2)"/><rect x="37" y="3" width="145" height="1.02" fill="url(#a3)"/><rect x="37" y="4" width="145" height="1.02" fill="url(#a4)"/><rect x="37" y="5" width="145" height="1.02" fill="url(#a5)"/><rect x="37" y="6" width="145" height="1.02" fill="url(#a6)"/><rect x="37" y="7" width="145" height="1.02" fill="url(#a7)"/><rect x="37" y="8" width="145" height="1.02" fill="url(#a8)"/><rect x="37" y="9" width="145" height="1.02" fill="url(#a9)"/><rect x="37" y="10" width="145" height="1.02" fill="url(#a10)"/><rect x="37" y="11" width="145" height="1.02" fill="url(#a11)"/><rect x="37" y="12" width="145" height="1.02" fill="url(#a12)"/><rect x="37" y="13" width="145" height="1.02" fill="url(#a13)"/><rect x="37" y="14" width="145" height="1.02" fill="url(#a14)"/><rect x="37" y="15" width="145" height="1.02" fill="url(#a15)"/><rect x="37" y="16" width="145" height="1.02" fill="url(#a16)"/><rect x="37" y="17" width="145" height="1.02" fill="url(#a17)"/><rect x="37" y="18" width="145" height="1.02" fill="url(#a18)"/><rect x="37" y="19" width="145" height="1.02" fill="url(#a19)"/><rect x="37" y="20" width="145" height="1.02" fill="url(#a20)"/><rect x="37" y="21" width="145" height="1.02" fill="url(#a21)"/><rect x="37" y="22" width="145" height="1.02" fill="url(#a22)"/><rect x="37" y="23" width="145" height="1.02" fill="url(#a23)"/><rect x="37" y="24" width="145" height="1.02" fill="url(#a24)"/><rect x="37" y="25" width="145" height="1.02" fill="url(#a25)"/><rect x="37" y="26" width="145" height="1.02" fill="url(#a26)"/><rect x="37" y="27" width="145" height="1.02" fill="url(#a27)"/><rect x="37" y="28" width="145" height="1.02" fill="url(#a28)"/><rect x="37" y="29" width="145" height="1.02" fill="url(#a29)"/><rect x="37" y="30" width="145" height="1.02" fill="url(#a30)"/><rect x="37" y="31" width="145" height="1.02" fill="url(#a31)"/><rect x="37" y="32" width="145" height="1.02" fill="url(#a32)"/><rect x="37" y="33" width="145" height="1.02" fill="url(#a33)"/><rect x="37" y="34" width="145" height="1.02" fill="url(#a34)"/><rect x="37" y="35" width="145" height="1.02" fill="url(#a35)"/><rect x="37" y="36" width="145" height="1.02" fill="url(#a36)"/><rect x="37" y="37" width="145" height="1.02" fill="url(#a37)"/><rect x="37" y="38" width="145" height="1.02" fill="url(#a38)"/><rect x="37" y="39" width="145" height="1.02" fill="url(#a39)"/><rect x="37" y="40" width="145" height="1.02" fill="url(#a40)"/><rect x="37" y="41" width="145" height="1.02" fill="url(#a41)"/><rect x="37" y="42" width="145" height="1.02" fill="url(#a42)"/><rect x="37" y="43" width="145" height="1.02" fill="url(#a43)"/><rect x="37" y="44" width="145" height="1.02" fill="url(#a44)"/><rect x="37" y="45" width="145" height="1.02" fill="url(#a45)"/><rect x="37" y="46" width="145" height="1.02" fill="url(#a46)"/><rect x="37" y="47" width="145" height="1.02" fill="url(#a47)"/><rect x="37" y="48" width="145" height="1.02" fill="url(#a48)"/><rect x="37" y="49" width="145" height="1.02" fill="url(#a49)"/><rect x="37" y="50" width="145" height="1.02" fill="url(#a50)"/><rect x="37" y="51" width="145" height="1.02" fill="url(#a51)"/><rect x="37" y="52" width="145" height="1.02" fill="url(#a52)"/><rect x="37" y="53" width="145" height="1.02" fill="url(#a53)"/><rect x="37" y="54" width="145" height="1.02" fill="url(#a54)"/><rect x="37" y="55" width="145" height="1.02" fill="url(#a55)"/><rect x="37" y="56" width="145" height="1.02" fill="url(#a56)"/><rect x="37" y="57" width="145" height="1.02" fill="url(#a57)"/><rect x="37" y="58" width="145" height="1.02" fill="url(#a58)"/><rect x="37" y="59" width="145" height="1.02" fill="url(#a59)"/><rect x="37" y="60" width="145" height="1.02" fill="url(#a60)"/><rect x="37" y="61" width="145" height="1.02" fill="url(#a61)"/><rect x="37" y="62" width="145" height="1.02" fill="url(#a62)"/><rect x="37" y="63" width="145" height="1.02" fill="url(#a63)"/><rect x="37" y="64" width="145" height="1.02" fill="url(#a64)"/><rect x="37" y="65" width="145" height="1.02" fill="url(#a65)"/><rect x="37" y="66" width="145" height="1.02" fill="url(#a66)"/><rect x="37" y="67" width="145" height="1.02" fill="url(#a67)"/><rect x="37" y="68" width="145" height="1.02" fill="url(#a68)"/><rect x="37" y="69" width="145" height="1.02" fill="url(#a69)"/><rect x="37" y="70" width="145" height="1.02" fill="url(#a70)"/><rect x="37" y="71" width="145" height="1.02" fill="url(#a71)"/><rect x="37" y="72" width="145" height="1.02" fill="url(#a72)"/><rect x="37" y="73" width="145" height="1.02" fill="url(#a73)"/><rect x="37" y="74" width="145" height="1.02" fill="url(#a74)"/><rect x="37" y="75" width="145" height="1.02" fill="url(#a75)"/><rect x="37" y="76" width="145" height="1.02" fill="url(#a76)"/><rect x="37" y="77" width="145" height="1.02" fill="url(#a77)"/><rect x="37" y="78" width="145" height="1.02" fill="url(#a78)"/><rect x="37" y="79" width="145" height="1.02" fill="url(#a79)"/><rect x="37" y="80" width="145" height="1.02" fill="url(#a80)"/><rect x="37" y="81" width="145" height="1.02" fill="url(#a81)"/><rect x="37" y="82" width="145" height="1.02" fill="url(#a82)"/><rect x="37" y="83" width="145" height="1.02" fill="url(#a83)"/><rect x="37" y="84" width="145" height="1.02" fill="url(#a84)"/><rect x="37" y="85" width="145" height="1.02" fill="url(#a85)"/><rect x="37" y="86" width="145" height="1.02" fill="url(#a86)"/><rect x="37" y="87" width="145" height="1.02" fill="url(#a87)"/><rect x="37" y="88" width="145" height="1.02" fill="url(#a88)"/><rect x="37" y="89" width="145" height="1.02" fill="url(#a89)"/><rect x="37" y="90" width="145" height="1.02" fill="url(#a90)"/><rect x="266" y="0" width="145" height="1.02" fill="url(#b0)"/><rect x="266" y="1" width="145" height="1.02" fill="url(#b1)"/><rect x="266" y="2" width="145" height="1.02" fill="url(#b2)"/><rect x="266" y="3" width="145" height="1.02" fill="url(#b3)"/><rect x="266" y="4" width="145" height="1.02" fill="url(#b4)"/><rect x="266" y="5" width="145" height="1.02" fill="url(#b5)"/><rect x="266" y="6" width="145" height="1.02" fill="url(#b6)"/><rect x="266" y="7" width="145" height="1.02" fill="url(#b7)"/><rect x="266" y="8" width="145" height="1.02" fill="url(#b8)"/><rect x="266" y="9" width="145" height="1.02" fill="url(#b9)"/><rect x="266" y="10" width="145" height="1.02" fill="url(#b10)"/><rect x="266" y="11" width="145" height="1.02" fill="url(#b11)"/><rect x="266" y="12" width="145" height="1.02" fill="url(#b12)"/><rect x="266" y="13" width="145" height="1.02" fill="url(#b13)"/><rect x="266" y="14" width="145" height="1.02" fill="url(#b14)"/><rect x="266" y="15" width="145" height="1.02" fill="url(#b15)"/><rect x="266" y="16" width="145" height="1.02" fill="url(#b16)"/><rect x="266" y="17" width="145" height="1.02" fill="url(#b17)"/><rect x="266" y="18" width="145" height="1.02" fill="url(#b18)"/><rect x="266" y="19" width="145" height="1.02" fill="url(#b19)"/><rect x="266" y="20" width="145" height="1.02" fill="url(#b20)"/><rect x="266" y="21" width="145" height="1.02" fill="url(#b21)"/><rect x="266" y="22" width="145" height="1.02" fill="url(#b22)"/><rect x="266" y="23" width="145" height="1.02" fill="url(#b23)"/><rect x="266" y="24" width="145" height="1.02" fill="url(#b24)"/><rect x="266" y="25" width="145" height="1.02" fill="url(#b25)"/><rect x="266" y="26" width="145" height="1.02" fill="url(#b26)"/><rect x="266" y="27" width="145" height="1.02" fill="url(#b27)"/><rect x="266" y="28" width="145" height="1.02" fill="url(#b28)"/><rect x="266" y="29" width="145" height="1.02" fill="url(#b29)"/><rect x="266" y="30" width="145" height="1.02" fill="url(#b30)"/><rect x="266" y="31" width="145" height="1.02" fill="url(#b31)"/><rect x="266" y="32" width="145" height="1.02" fill="url(#b32)"/><rect x="266" y="33" width="145" height="1.02" fill="url(#b33)"/><rect x="266" y="34" width="145" height="1.02" fill="url(#b34)"/><rect x="266" y="35" width="145" height="1.02" fill="url(#b35)"/><rect x="266" y="36" width="145" height="1.02" fill="url(#b36)"/><rect x="266" y="37" width="145" height="1.02" fill="url(#b37)"/><rect x="266" y="38" width="145" height="1.02" fill="url(#b38)"/><rect x="266" y="39" width="145" height="1.02" fill="url(#b39)"/><rect x="266" y="40" width="145" height="1.02" fill="url(#b40)"/><rect x="266" y="41" width="145" height="1.02" fill="url(#b41)"/><rect x="266" y="42" width="145" height="1.02" fill="url(#b42)"/><rect x="266" y="43" width="145" height="1.02" fill="url(#b43)"/><rect x="266" y="44" width="145" height="1.02" fill="url(#b44)"/><rect x="266" y="45" width="145" height="1.02" fill="url(#b45)"/><rect x="266" y="46" width="145" height="1.02" fill="url(#b46)"/><rect x="266" y="47" width="145" height="1.02" fill="url(#b47)"/><rect x="266" y="48" width="145" height="1.02" fill="url(#b48)"/><rect x="266" y="49" width="145" height="1.02" fill="url(#b49)"/><rect x="266" y="50" width="145" height="1.02" fill="url(#b50)"/><rect x="266" y="51" width="145" height="1.02" fill="url(#b51)"/><rect x="266" y="52" width="145" height="1.02" fill="url(#b52)"/><rect x="266" y="53" width="145" height="1.02" fill="url(#b53)"/><rect x="266" y="54" width="145" height="1.02" fill="url(#b54)"/><rect x="266" y="55" width="145" height="1.02" fill="url(#b55)"/><rect x="266" y="56" width="145" height="1.02" fill="url(#b56)"/><rect x="266" y="57" width="145" height="1.02" fill="url(#b57)"/><rect x="266" y="58" width="145" height="1.02" fill="url(#b58)"/><rect x="266" y="59" width="145" height="1.02" fill="url(#b59)"/><rect x="266" y="60" width="145" height="1.02" fill="url(#b60)"/><rect x="266" y="61" width="145" height="1.02" fill="url(#b61)"/><rect x="266" y="62" width="145" height="1.02" fill="url(#b62)"/><rect x="266" y="63" width="145" height="1.02" fill="url(#b63)"/><rect x="266" y="64" width="145" height="1.02" fill="url(#b64)"/><rect x="266" y="65" width="145" height="1.02" fill="url(#b65)"/><rect x="266" y="66" width="145" height="1.02" fill="url(#b66)"/><rect x="266" y="67" width="145" height="1.02" fill="url(#b67)"/><rect x="266" y="68" width="145" height="1.02" fill="url(#b68)"/><rect x="266" y="69" width="145" height="1.02" fill="url(#b69)"/><rect x="266" y="70" width="145" height="1.02" fill="url(#b70)"/><rect x="266" y="71" width="145" height="1.02" fill="url(#b71)"/><rect x="266" y="72" width="145" height="1.02" fill="url(#b72)"/><rect x="266" y="73" width="145" height="1.02" fill="url(#b73)"/><rect x="266" y="74" width="145" height="1.02" fill="url(#b74)"/><rect x="266" y="75" width="145" height="1.02" fill="url(#b75)"/><rect x="266" y="76" width="145" height="1.02" fill="url(#b76)"/><rect x="266" y="77" width="145" height="1.02" fill="url(#b77)"/><rect x="266" y="78" width="145" height="1.02" fill="url(#b78)"/><rect x="266" y="79" width="145" height="1.02" fill="url(#b79)"/><rect x="266" y="80" width="145" height="1.02" fill="url(#b80)"/><rect x="266" y="81" width="145" height="1.02" fill="url(#b81)"/><rect x="266" y="82" width="145" height="1.02" fill="url(#b82)"/><rect x="266" y="83" width="145" height="1.02" fill="url(#b83)"/><rect x="266" y="84" width="145" height="1.02" fill="url(#b84)"/><rect x="266" y="85" width="145" height="1.02" fill="url(#b85)"/><rect x="266" y="86" width="145" height="1.02" fill="url(#b86)"/><rect x="266" y="87" width="145" height="1.02" fill="url(#b87)"/><rect x="266" y="88" width="145" height="1.02" fill="url(#b88)"/><rect x="266" y="89" width="145" height="1.02" fill="url(#b89)"/><rect x="266" y="90" width="145" height="1.02" fill="url(#b90)"/><rect x="37" y="148" width="145" height="1.02" fill="url(#c0)"/><rect x="37" y="149" width="145" height="1.02" fill="url(#c1)"/><rect x="37" y="150" width="145" height="1.02" fill="url(#c2)"/><rect x="37" y="151" width="145" height="1.02" fill="url(#c3)"/><rect x="37" y="152" width="145" height="1.02" fill="url(#c4)"/><rect x="37" y="153" width="145" height="1.02" fill="url(#c5)"/><rect x="37" y="154" width="145" height="1.02" fill="url(#c6)"/><rect x="37" y="155" width="145" height="1.02" fill="url(#c7)"/><rect x="37" y="156" width="145" height="1.02" fill="url(#c8)"/><rect x="37" y="157" width="145" height="1.02" fill="url(#c9)"/><rect x="37" y="158" width="145" height="1.02" fill="url(#c10)"/><rect x="37" y="159" width="145" height="1.02" fill="url(#c11)"/><rect x="37" y="160" width="145" height="1.02" fill="url(#c12)"/><rect x="37" y="161" width="145" height="1.02" fill="url(#c13)"/><rect x="37" y="162" width="145" height="1.02" fill="url(#c14)"/><rect x="37" y="163" width="145" height="1.02" fill="url(#c15)"/><rect x="37" y="164" width="145" height="1.02" fill="url(#c16)"/><rect x="37" y="165" width="145" height="1.02" fill="url(#c17)"/><rect x="37" y="166" width="145" height="1.02" fill="url(#c18)"/><rect x="37" y="167" width="145" height="1.02" fill="url(#c19)"/><rect x="37" y="168" width="145" height="1.02" fill="url(#c20)"/><rect x="37" y="169" width="145" height="1.02" fill="url(#c21)"/><rect x="37" y="170" width="145" height="1.02" fill="url(#c22)"/><rect x="37" y="171" width="145" height="1.02" fill="url(#c23)"/><rect x="37" y="172" width="145" height="1.02" fill="url(#c24)"/><rect x="37" y="173" width="145" height="1.02" fill="url(#c25)"/><rect x="37" y="174" width="145" height="1.02" fill="url(#c26)"/><rect x="37" y="175" width="145" height="1.02" fill="url(#c27)"/><rect x="37" y="176" width="145" height="1.02" fill="url(#c28)"/><rect x="37" y="177" width="145" height="1.02" fill="url(#c29)"/><rect x="37" y="178" width="145" height="1.02" fill="url(#c30)"/><rect x="37" y="179" width="145" height="1.02" fill="url(#c31)"/><rect x="37" y="180" width="145" height="1.02" fill="url(#c32)"/><rect x="37" y="181" width="145" height="1.02" fill="url(#c33)"/><rect x="37" y="182" width="145" height="1.02" fill="url(#c34)"/><rect x="37" y="183" width="145" height="1.02" fill="url(#c35)"/><rect x="37" y="184" width="145" height="1.02" fill="url(#c36)"/><rect x="37" y="185" width="145" height="1.02" fill="url(#c37)"/><rect x="37" y="186" width="145" height="1.02" fill="url(#c38)"/><rect x="37" y="187" width="145" height="1.02" fill="url(#c39)"/><rect x="37" y="188" width="145" height="1.02" fill="url(#c40)"/><rect x="37" y="189" width="145" height="1.02" fill="url(#c41)"/><rect x="37" y="190" width="145" height="1.02" fill="url(#c42)"/><rect x="37" y="191" width="145" height="1.02" fill="url(#c43)"/><rect x="37" y="192" width="145" height="1.02" fill="url(#c44)"/><rect x="37" y="193" width="145" height="1.02" fill="url(#c45)"/><rect x="37" y="194" width="145" height="1.02" fill="url(#c46)"/><rect x="37" y="195" width="145" height="1.02" fill="url(#c47)"/><rect x="37" y="196" width="145" height="1.02" fill="url(#c48)"/><rect x="37" y="197" width="145" height="1.02" fill="url(#c49)"/><rect x="37" y="198" width="145" height="1.02" fill="url(#c50)"/><rect x="37" y="199" width="145" height="1.02" fill="url(#c51)"/><rect x="37" y="200" width="145" height="1.02" fill="url(#c52)"/><rect x="37" y="201" width="145" height="1.02" fill="url(#c53)"/><rect x="37" y="202" width="145" height="1.02" fill="url(#c54)"/><rect x="37" y="203" width="145" height="1.02" fill="url(#c55)"/><rect x="37" y="204" width="145" height="1.02" fill="url(#c56)"/><rect x="37" y="205" width="145" height="1.02" fill="url(#c57)"/><rect x="37" y="206" width="145" height="1.02" fill="url(#c58)"/><rect x="37" y="207" width="145" height="1.02" fill="url(#c59)"/><rect x="37" y="208" width="145" height="1.02" fill="url(#c60)"/><rect x="37" y="209" width="145" height="1.02" fill="url(#c61)"/><rect x="37" y="210" width="145" height="1.02" fill="url(#c62)"/><rect x="37" y="211" width="145" height="1.02" fill="url(#c63)"/><rect x="37" y="212" width="145" height="1.02" fill="url(#c64)"/><rect x="37" y="213" width="145" height="1.02" fill="url(#c65)"/><rect x="37" y="214" width="145" height="1.02" fill="url(#c66)"/><rect x="37" y="215" width="145" height="1.02" fill="url(#c67)"/><rect x="37" y="216" width="145" height="1.02" fill="url(#c68)"/><rect x="37" y="217" width="145" height="1.02" fill="url(#c69)"/><rect x="37" y="218" width="145" height="1.02" fill="url(#c70)"/><rect x="37" y="219" width="145" height="1.02" fill="url(#c71)"/><rect x="37" y="220" width="145" height="1.02" fill="url(#c72)"/><rect x="37" y="221" width="145" height="1.02" fill="url(#c73)"/><rect x="37" y="222" width="145" height="1.02" fill="url(#c74)"/><rect x="37" y="223" width="145" height="1.02" fill="url(#c75)"/><rect x="37" y="224" width="145" height="1.02" fill="url(#c76)"/><rect x="37" y="225" width="145" height="1.02" fill="url(#c77)"/><rect x="37" y="226" width="145" height="1.02" fill="url(#c78)"/><rect x="37" y="227" width="145" height="1.02" fill="url(#c79)"/><rect x="37" y="228" width="145" height="1.02" fill="url(#c80)"/><rect x="37" y="229" width="145" height="1.02" fill="url(#c81)"/><rect x="37" y="230" width="145" height="1.02" fill="url(#c82)"/><rect x="37" y="231" width="145" height="1.02" fill="url(#c83)"/><rect x="37" y="232" width="145" height="1.02" fill="url(#c84)"/><rect x="37" y="233" width="145" height="1.02" fill="url(#c85)"/><rect x="37" y="234" width="145" height="1.02" fill="url(#c86)"/><rect x="37" y="235" width="145" height="1.02" fill="url(#c87)"/><rect x="37" y="236" width="145" height="1.02" fill="url(#c88)"/><rect x="37" y="237" width="145" height="1.02" fill="url(#c89)"/><rect x="37" y="238" width="145" height="1.02" fill="url(#c90)"/><rect x="37" y="239" width="145" height="1.02" fill="url(#c91)"/><rect x="37" y="240" width="145" height="1.02" fill="url(#c92)"/><rect x="37" y="241" width="145" height="1.02" fill="url(#c93)"/><rect x="37" y="242" width="145" height="1.02" fill="url(#c94)"/><rect x="37" y="243" width="145" height="1.02" fill="url(#c95)"/><rect x="37" y="244" width="145" height="1.02" fill="url(#c96)"/><rect x="37" y="245" width="145" height="1.02" fill="url(#c97)"/><rect x="37" y="246" width="145" height="1.02" fill="url(#c98)"/><rect x="37" y="247" width="145" height="1.02" fill="url(#c99)"/><rect x="37" y="248" width="145" height="1.02" fill="url(#c100)"/><rect x="37" y="249" width="145" height="1.02" fill="url(#c101)"/><rect x="37" y="250" width="145" height="1.02" fill="url(#c102)"/><rect x="37" y="251" width="145" height="1.02" fill="url(#c103)"/><rect x="266" y="148" width="145" height="1.02" fill="url(#c0)"/><rect x="266" y="149" width="145" height="1.02" fill="url(#c1)"/><rect x="266" y="150" width="145" height="1.02" fill="url(#c2)"/><rect x="266" y="151" width="145" height="1.02" fill="url(#c3)"/><rect x="266" y="152" width="145" height="1.02" fill="url(#c4)"/><rect x="266" y="153" width="145" height="1.02" fill="url(#c5)"/><rect x="266" y="154" width="145" height="1.02" fill="url(#c6)"/><rect x="266" y="155" width="145" height="1.02" fill="url(#c7)"/><rect x="266" y="156" width="145" height="1.02" fill="url(#c8)"/><rect x="266" y="157" width="145" height="1.02" fill="url(#c9)"/><rect x="266" y="158" width="145" height="1.02" fill="url(#c10)"/><rect x="266" y="159" width="145" height="1.02" fill="url(#c11)"/><rect x="266" y="160" width="145" height="1.02" fill="url(#c12)"/><rect x="266" y="161" width="145" height="1.02" fill="url(#c13)"/><rect x="266" y="162" width="145" height="1.02" fill="url(#c14)"/><rect x="266" y="163" width="145" height="1.02" fill="url(#c15)"/><rect x="266" y="164" width="145" height="1.02" fill="url(#c16)"/><rect x="266" y="165" width="145" height="1.02" fill="url(#c17)"/><rect x="266" y="166" width="145" height="1.02" fill="url(#c18)"/><rect x="266" y="167" width="145" height="1.02" fill="url(#c19)"/><rect x="266" y="168" width="145" height="1.02" fill="url(#c20)"/><rect x="266" y="169" width="145" height="1.02" fill="url(#c21)"/><rect x="266" y="170" width="145" height="1.02" fill="url(#c22)"/><rect x="266" y="171" width="145" height="1.02" fill="url(#c23)"/><rect x="266" y="172" width="145" height="1.02" fill="url(#c24)"/><rect x="266" y="173" width="145" height="1.02" fill="url(#c25)"/><rect x="266" y="174" width="145" height="1.02" fill="url(#c26)"/><rect x="266" y="175" width="145" height="1.02" fill="url(#c27)"/><rect x="266" y="176" width="145" height="1.02" fill="url(#c28)"/><rect x="266" y="177" width="145" height="1.02" fill="url(#c29)"/><rect x="266" y="178" width="145" height="1.02" fill="url(#c30)"/><rect x="266" y="179" width="145" height="1.02" fill="url(#c31)"/><rect x="266" y="180" width="145" height="1.02" fill="url(#c32)"/><rect x="266" y="181" width="145" height="1.02" fill="url(#c33)"/><rect x="266" y="182" width="145" height="1.02" fill="url(#c34)"/><rect x="266" y="183" width="145" height="1.02" fill="url(#c35)"/><rect x="266" y="184" width="145" height="1.02" fill="url(#c36)"/><rect x="266" y="185" width="145" height="1.02" fill="url(#c37)"/><rect x="266" y="186" width="145" height="1.02" fill="url(#c38)"/><rect x="266" y="187" width="145" height="1.02" fill="url(#c39)"/><rect x="266" y="188" width="145" height="1.02" fill="url(#c40)"/><rect x="266" y="189" width="145" height="1.02" fill="url(#c41)"/><rect x="266" y="190" width="145" height="1.02" fill="url(#c42)"/><rect x="266" y="191" width="145" height="1.02" fill="url(#c43)"/><rect x="266" y="192" width="145" height="1.02" fill="url(#c44)"/><rect x="266" y="193" width="145" height="1.02" fill="url(#c45)"/><rect x="266" y="194" width="145" height="1.02" fill="url(#c46)"/><rect x="266" y="195" width="145" height="1.02" fill="url(#c47)"/><rect x="266" y="196" width="145" height="1.02" fill="url(#c48)"/><rect x="266" y="197" width="145" height="1.02" fill="url(#c49)"/><rect x="266" y="198" width="145" height="1.02" fill="url(#c50)"/><rect x="266" y="199" width="145" height="1.02" fill="url(#c51)"/><rect x="266" y="200" width="145" height="1.02" fill="url(#c52)"/><rect x="266" y="201" width="145" height="1.02" fill="url(#c53)"/><rect x="266" y="202" width="145" height="1.02" fill="url(#c54)"/><rect x="266" y="203" width="145" height="1.02" fill="url(#c55)"/><rect x="266" y="204" width="145" height="1.02" fill="url(#c56)"/><rect x="266" y="205" width="145" height="1.02" fill="url(#c57)"/><rect x="266" y="206" width="145" height="1.02" fill="url(#c58)"/><rect x="266" y="207" width="145" height="1.02" fill="url(#c59)"/><rect x="266" y="208" width="145" height="1.02" fill="url(#c60)"/><rect x="266" y="209" width="145" height="1.02" fill="url(#c61)"/><rect x="266" y="210" width="145" height="1.02" fill="url(#c62)"/><rect x="266" y="211" width="145" height="1.02" fill="url(#c63)"/><rect x="266" y="212" width="145" height="1.02" fill="url(#c64)"/><rect x="266" y="213" width="145" height="1.02" fill="url(#c65)"/><rect x="266" y="214" width="145" height="1.02" fill="url(#c66)"/><rect x="266" y="215" width="145" height="1.02" fill="url(#c67)"/><rect x="266" y="216" width="145" height="1.02" fill="url(#c68)"/><rect x="266" y="217" width="145" height="1.02" fill="url(#c69)"/><rect x="266" y="218" width="145" height="1.02" fill="url(#c70)"/><rect x="266" y="219" width="145" height="1.02" fill="url(#c71)"/><rect x="266" y="220" width="145" height="1.02" fill="url(#c72)"/><rect x="266" y="221" width="145" height="1.02" fill="url(#c73)"/><rect x="266" y="222" width="145" height="1.02" fill="url(#c74)"/><rect x="266" y="223" width="145" height="1.02" fill="url(#c75)"/><rect x="266" y="224" width="145" height="1.02" fill="url(#c76)"/><rect x="266" y="225" width="145" height="1.02" fill="url(#c77)"/><rect x="266" y="226" width="145" height="1.02" fill="url(#c78)"/><rect x="266" y="227" width="145" height="1.02" fill="url(#c79)"/><rect x="266" y="228" width="145" height="1.02" fill="url(#c80)"/><rect x="266" y="229" width="145" height="1.02" fill="url(#c81)"/><rect x="266" y="230" width="145" height="1.02" fill="url(#c82)"/><rect x="266" y="231" width="145" height="1.02" fill="url(#c83)"/><rect x="266" y="232" width="145" height="1.02" fill="url(#c84)"/><rect x="266" y="233" width="145" height="1.02" fill="url(#c85)"/><rect x="266" y="234" width="145" height="1.02" fill="url(#c86)"/><rect x="266" y="235" width="145" height="1.02" fill="url(#c87)"/><rect x="266" y="236" width="145" height="1.02" fill="url(#c88)"/><rect x="266" y="237" width="145" height="1.02" fill="url(#c89)"/><rect x="266" y="238" width="145" height="1.02" fill="url(#c90)"/><rect x="266" y="239" width="145" height="1.02" fill="url(#c91)"/><rect x="266" y="240" width="145" height="1.02" fill="url(#c92)"/><rect x="266" y="241" width="145" height="1.02" fill="url(#c93)"/><rect x="266" y="242" width="145" height="1.02" fill="url(#c94)"/><rect x="266" y="243" width="145" height="1.02" fill="url(#c95)"/><rect x="266" y="244" width="145" height="1.02" fill="url(#c96)"/><rect x="266" y="245" width="145" height="1.02" fill="url(#c97)"/><rect x="266" y="246" width="145" height="1.02" fill="url(#c98)"/><rect x="266" y="247" width="145" height="1.02" fill="url(#c99)"/><rect x="266" y="248" width="145" height="1.02" fill="url(#c100)"/><rect x="266" y="249" width="145" height="1.02" fill="url(#c101)"/><rect x="266" y="250" width="145" height="1.02" fill="url(#c102)"/><rect x="266" y="251" width="145" height="1.02" fill="url(#c103)"/><rect x="36" y="-43" width="1" height="134" fill="#262626" fill-opacity="0.5"/><rect x="37" y="-41" width="1" height="131" fill="#262626" fill-opacity="0.12"/><rect x="181" y="-41" width="1" height="131" fill="#262626" fill-opacity="0.42"/><rect x="182" y="-43" width="1" height="135" fill="#a03ca0" fill-opacity="0.15"/><rect x="37" y="-43" width="145" height="1" fill="#643c82" fill-opacity="0.3"/><rect x="37" y="-42" width="145" height="1" fill="#262626" fill-opacity="0.4"/><rect x="37" y="90" width="145" height="1" fill="#262626" fill-opacity="0.4"/><rect x="36" y="91" width="147" height="1" fill="#a03ca0" fill-opacity="0.17"/><rect x="265" y="-43" width="1" height="134" fill="#262626" fill-opacity="0.5"/><rect x="266" y="-41" width="1" height="131" fill="#262626" fill-opacity="0.12"/><rect x="410" y="-41" width="1" height="131" fill="#262626" fill-opacity="0.42"/><rect x="411" y="-43" width="1" height="135" fill="#a03ca0" fill-opacity="0.15"/><rect x="266" y="-43" width="145" height="1" fill="#643c82" fill-opacity="0.3"/><rect x="266" y="-42" width="145" height="1" fill="#262626" fill-opacity="0.4"/><rect x="266" y="90" width="145" height="1" fill="#262626" fill-opacity="0.4"/><rect x="265" y="91" width="147" height="1" fill="#a03ca0" fill-opacity="0.17"/><rect x="36" y="147" width="1" height="134" fill="#262626" fill-opacity="0.5"/><rect x="37" y="149" width="1" height="131" fill="#262626" fill-opacity="0.12"/><rect x="181" y="149" width="1" height="131" fill="#262626" fill-opacity="0.42"/><rect x="182" y="147" width="1" height="135" fill="#a03ca0" fill-opacity="0.15"/><rect x="37" y="147" width="145" height="1" fill="#643c82" fill-opacity="0.3"/><rect x="37" y="148" width="145" height="1" fill="#262626" fill-opacity="0.4"/><rect x="37" y="280" width="145" height="1" fill="#262626" fill-opacity="0.4"/><rect x="36" y="281" width="147" height="1" fill="#a03ca0" fill-opacity="0.17"/><rect x="265" y="147" width="1" height="134" fill="#262626" fill-opacity="0.5"/><rect x="266" y="149" width="1" height="131" fill="#262626" fill-opacity="0.12"/><rect x="410" y="149" width="1" height="131" fill="#262626" fill-opacity="0.42"/><rect x="411" y="147" width="1" height="135" fill="#a03ca0" fill-opacity="0.15"/><rect x="266" y="147" width="145" height="1" fill="#643c82" fill-opacity="0.3"/><rect x="266" y="148" width="145" height="1" fill="#262626" fill-opacity="0.4"/><rect x="266" y="280" width="145" height="1" fill="#262626" fill-opacity="0.4"/><rect x="265" y="281" width="147" height="1" fill="#a03ca0" fill-opacity="0.17"/><rect x="191.1" y="-41.90" width="6.00" height="122.80" fill="url(#cbj)"/><rect x="191.1" y="-41.90" width="6.00" height="122.80" fill="none" stroke="#262626" stroke-opacity="0.5" stroke-width="0.6"/><line x1="194.10" y1="-5.80" x2="197.10" y2="-5.80" stroke="#262626" stroke-opacity="0.5" stroke-width="0.8"/><line x1="194.10" y1="19.20" x2="197.10" y2="19.20" stroke="#262626" stroke-opacity="0.5" stroke-width="0.8"/><line x1="194.10" y1="44.20" x2="197.10" y2="44.20" stroke="#262626" stroke-opacity="0.5" stroke-width="0.8"/><line x1="194.10" y1="69.20" x2="197.10" y2="69.20" stroke="#262626" stroke-opacity="0.5" stroke-width="0.8"/><rect x="420.7" y="-41.90" width="5.60" height="122.80" fill="url(#cbj)"/><rect x="420.7" y="-41.90" width="5.60" height="122.80" fill="none" stroke="#262626" stroke-opacity="0.5" stroke-width="0.6"/><line x1="423.30" y1="-26.00" x2="426.30" y2="-26.00" stroke="#262626" stroke-opacity="0.5" stroke-width="0.8"/><line x1="423.30" y1="-3.40" x2="426.30" y2="-3.40" stroke="#262626" stroke-opacity="0.5" stroke-width="0.8"/><line x1="423.30" y1="19.20" x2="426.30" y2="19.20" stroke="#262626" stroke-opacity="0.5" stroke-width="0.8"/><line x1="423.30" y1="41.80" x2="426.30" y2="41.80" stroke="#262626" stroke-opacity="0.5" stroke-width="0.8"/><line x1="423.30" y1="64.40" x2="426.30" y2="64.40" stroke="#262626" stroke-opacity="0.5" stroke-width="0.8"/><rect x="191.1" y="148.10" width="6.00" height="122.80" fill="url(#cbj)"/><rect x="191.1" y="148.10" width="6.00" height="122.80" fill="none" stroke="#262626" stroke-opacity="0.5" stroke-width="0.6"/><line x1="194.10" y1="152.03" x2="197.10" y2="152.03" stroke="#262626" stroke-opacity="0.5" stroke-width="0.8"/><line x1="194.10" y1="181.07" x2="197.10" y2="181.07" stroke="#262626" stroke-opacity="0.5" stroke-width="0.8"/><line x1="194.10" y1="210.10" x2="197.10" y2="210.10" stroke="#262626" stroke-opacity="0.5" stroke-width="0.8"/><line x1="194.10" y1="239.14" x2="197.10" y2="239.14" stroke="#262626" stroke-opacity="0.5" stroke-width="0.8"/><line x1="194.10" y1="268.17" x2="197.10" y2="268.17" stroke="#262626" stroke-opacity="0.5" stroke-width="0.8"/><rect x="420.7" y="148.10" width="5.60" height="122.80" fill="url(#cbj)"/><rect x="420.7" y="148.10" width="5.60" height="122.80" fill="none" stroke="#262626" stroke-opacity="0.5" stroke-width="0.6"/><line x1="423.30" y1="157.48" x2="426.30" y2="157.48" stroke="#262626" stroke-opacity="0.5" stroke-width="0.8"/><line x1="423.30" y1="184.24" x2="426.30" y2="184.24" stroke="#262626" stroke-opacity="0.5" stroke-width="0.8"/><line x1="423.30" y1="211.00" x2="426.30" y2="211.00" stroke="#262626" stroke-opacity="0.5" stroke-width="0.8"/><line x1="423.30" y1="237.76" x2="426.30" y2="237.76" stroke="#262626" stroke-opacity="0.5" stroke-width="0.8"/><line x1="423.30" y1="264.52" x2="426.30" y2="264.52" stroke="#262626" stroke-opacity="0.5" stroke-width="0.8"/><g font-family="'Liberation Serif', 'DejaVu Serif', serif" fill="#000" filter="url(#tb)"><text x="200.60" y="-2.40" font-size="9.9">150</text><text x="200.60" y="22.60" font-size="9.9">0</text><text x="200.60" y="47.60" font-size="9.9">-150</text><text x="200.60" y="72.60" font-size="9.9">-300</text><text x="429.60" y="-22.60" font-size="9.9">100</text><text x="429.60" y="0.50" font-size="9.9">50</text><text x="429.60" y="22.60" font-size="9.9">0</text><text x="429.60" y="45.20" font-size="9.9">-50</text><text x="429.60" y="67.80" font-size="9.9">-100</text><text x="200.60" y="155.43" font-size="9.9">100</text><text x="200.60" y="184.47" font-size="9.9">50</text><text x="200.60" y="213.50" font-size="9.9">0</text><text x="200.60" y="242.53" font-size="9.9">-50</text><text x="200.60" y="271.57" font-size="9.9">-100</text><text x="429.60" y="160.88" font-size="9.9">40</text><text x="429.60" y="187.64" font-size="9.9">20</text><text x="429.60" y="214.40" font-size="9.9">0</text><text x="429.60" y="241.16" font-size="9.9">-20</text><text x="429.60" y="267.92" font-size="9.9">-40</text><text x="33.40" y="-37.80" font-size="12" text-anchor="end">0</text><text x="33.40" y="28.50" font-size="12" text-anchor="end">-5</text><text x="33.40" y="94.80" font-size="12" text-anchor="end">-10</text><text x="36.70" y="104.50" font-size="12" text-anchor="middle">0</text><text x="72.95" y="104.50" font-size="12" text-anchor="middle">2.5</text><text x="109.20" y="104.50" font-size="12" text-anchor="middle">5</text><text x="145.45" y="104.50" font-size="12" text-anchor="middle">7.5</text><text x="181.70" y="104.50" font-size="12" text-anchor="middle">10</text><text y="117.90" font-size="12.6"><tspan x="43.60" textLength="55.0" lengthAdjust="spacingAndGlyphs">Horizontal</tspan><tspan x="103.30" textLength="41.8" lengthAdjust="spacingAndGlyphs">Position</tspan><tspan x="149.00">(</tspan><tspan x="153.30" font-style="italic" textLength="6.6" lengthAdjust="spacingAndGlyphs">&#956;</tspan><tspan x="159.60" textLength="14.6" lengthAdjust="spacingAndGlyphs">m)</tspan></text><g transform="translate(10.00,24.40) rotate(-90)"><text y="0" font-size="12.6"><tspan x="-37.0" textLength="36.3" lengthAdjust="spacingAndGlyphs">Height</tspan><tspan x="5.6">(</tspan><tspan x="10.1" font-style="italic" textLength="6.6" lengthAdjust="spacingAndGlyphs">&#956;</tspan><tspan x="16.6" textLength="15.3" lengthAdjust="spacingAndGlyphs">m)</tspan></text></g><text x="262.50" y="-37.80" font-size="12" text-anchor="end">0</text><text x="262.50" y="28.50" font-size="12" text-anchor="end">-5</text><text x="262.50" y="94.80" font-size="12" text-anchor="end">-10</text><text x="265.80" y="104.50" font-size="12" text-anchor="middle">0</text><text x="302.02" y="104.50" font-size="12" text-anchor="middle">2.5</text><text x="338.25" y="104.50" font-size="12" text-anchor="middle">5</text><text x="374.48" y="104.50" font-size="12" text-anchor="middle">7.5</text><text x="410.70" y="104.50" font-size="12" text-anchor="middle">10</text><text y="117.90" font-size="12.6"><tspan x="273.30" textLength="55.0" lengthAdjust="spacingAndGlyphs">Horizontal</tspan><tspan x="333.00" textLength="41.8" lengthAdjust="spacingAndGlyphs">Position</tspan><tspan x="378.70">(</tspan><tspan x="383.00" font-style="italic" textLength="6.6" lengthAdjust="spacingAndGlyphs">&#956;</tspan><tspan x="389.30" textLength="14.6" lengthAdjust="spacingAndGlyphs">m)</tspan></text><g transform="translate(239.30,24.40) rotate(-90)"><text y="0" font-size="12.6"><tspan x="-37.0" textLength="36.3" lengthAdjust="spacingAndGlyphs">Height</tspan><tspan x="5.6">(</tspan><tspan x="10.1" font-style="italic" textLength="6.6" lengthAdjust="spacingAndGlyphs">&#956;</tspan><tspan x="16.6" textLength="15.3" lengthAdjust="spacingAndGlyphs">m)</tspan></text></g><text x="33.40" y="152.20" font-size="12" text-anchor="end">0</text><text x="33.40" y="218.50" font-size="12" text-anchor="end">-5</text><text x="33.40" y="284.80" font-size="12" text-anchor="end">-10</text><text x="36.70" y="294.50" font-size="12" text-anchor="middle">0</text><text x="72.95" y="294.50" font-size="12" text-anchor="middle">2.5</text><text x="109.20" y="294.50" font-size="12" text-anchor="middle">5</text><text x="145.45" y="294.50" font-size="12" text-anchor="middle">7.5</text><text x="181.70" y="294.50" font-size="12" text-anchor="middle">10</text><text y="307.90" font-size="12.6"><tspan x="43.60" textLength="55.0" lengthAdjust="spacingAndGlyphs">Horizontal</tspan><tspan x="103.30" textLength="41.8" lengthAdjust="spacingAndGlyphs">Position</tspan><tspan x="149.00">(</tspan><tspan x="153.30" font-style="italic" textLength="6.6" lengthAdjust="spacingAndGlyphs">&#956;</tspan><tspan x="159.60" textLength="14.6" lengthAdjust="spacingAndGlyphs">m)</tspan></text><g transform="translate(10.00,214.40) rotate(-90)"><text y="0" font-size="12.6"><tspan x="-37.0" textLength="36.3" lengthAdjust="spacingAndGlyphs">Height</tspan><tspan x="5.6">(</tspan><tspan x="10.1" font-style="italic" textLength="6.6" lengthAdjust="spacingAndGlyphs">&#956;</tspan><tspan x="16.6" textLength="15.3" lengthAdjust="spacingAndGlyphs">m)</tspan></text></g><text x="262.50" y="152.20" font-size="12" text-anchor="end">0</text><text x="262.50" y="218.50" font-size="12" text-anchor="end">-5</text><text x="262.50" y="284.80" font-size="12" text-anchor="end">-10</text><text x="265.80" y="294.50" font-size="12" text-anchor="middle">0</text><text x="302.02" y="294.50" font-size="12" text-anchor="middle">2.5</text><text x="338.25" y="294.50" font-size="12" text-anchor="middle">5</text><text x="374.48" y="294.50" font-size="12" text-anchor="middle">7.5</text><text x="410.70" y="294.50" font-size="12" text-anchor="middle">10</text><text y="307.90" font-size="12.6"><tspan x="273.30" textLength="55.0" lengthAdjust="spacingAndGlyphs">Horizontal</tspan><tspan x="333.00" textLength="41.8" lengthAdjust="spacingAndGlyphs">Position</tspan><tspan x="378.70">(</tspan><tspan x="383.00" font-style="italic" textLength="6.6" lengthAdjust="spacingAndGlyphs">&#956;</tspan><tspan x="389.30" textLength="14.6" lengthAdjust="spacingAndGlyphs">m)</tspan></text><g transform="translate(239.30,214.40) rotate(-90)"><text y="0" font-size="12.6"><tspan x="-37.0" textLength="36.3" lengthAdjust="spacingAndGlyphs">Height</tspan><tspan x="5.6">(</tspan><tspan x="10.1" font-style="italic" textLength="6.6" lengthAdjust="spacingAndGlyphs">&#956;</tspan><tspan x="16.6" textLength="15.3" lengthAdjust="spacingAndGlyphs">m)</tspan></text></g><text x="75.90" y="142.3" font-size="12.8" font-style="italic" textLength="8.4" lengthAdjust="spacingAndGlyphs">&#963;</text><text x="85.20" y="143.8" font-size="10" font-style="italic" textLength="9.7" lengthAdjust="spacingAndGlyphs">yy</text><text x="101.30" y="141.9" font-size="14" textLength="39.8" lengthAdjust="spacingAndGlyphs">(MPa)</text><text x="305.50" y="142.3" font-size="12.8" font-style="italic" textLength="8.4" lengthAdjust="spacingAndGlyphs">&#963;</text><text x="314.40" y="143.8" font-size="10" font-style="italic" textLength="9.6" lengthAdjust="spacingAndGlyphs">zz</text><text x="330.90" y="141.9" font-size="14" textLength="39.8" lengthAdjust="spacingAndGlyphs">(MPa)</text><text x="9.6" y="143.0" font-family="'Liberation Sans', Arial, sans-serif" font-weight="bold" font-size="12">(c)</text><text x="238.4" y="143.0" font-family="'Liberation Sans', Arial, sans-serif" font-weight="bold" font-size="12">(d)</text></g></svg></body></html>
